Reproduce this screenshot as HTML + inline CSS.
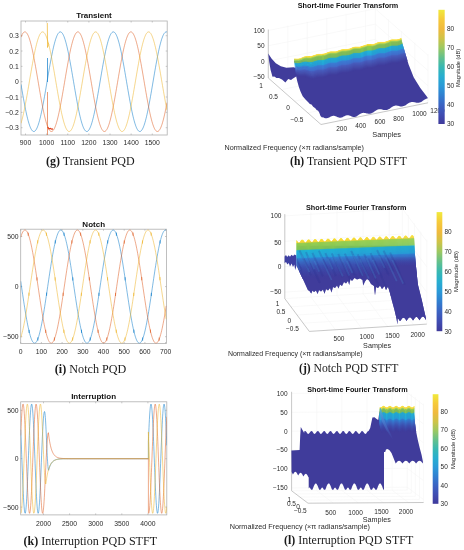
<!DOCTYPE html><html><head><meta charset="utf-8"><title>PQD figures</title><style>html,body{margin:0;padding:0;background:#fff}svg{display:block}</style></head><body>
<svg width="464" height="550" viewBox="0 0 464 550">
<rect width="464" height="550" fill="#fff"/>
<rect x="21" y="21" width="146.2" height="114" fill="#fff" stroke="#b0b0b0" stroke-width="0.8"/>
<path d="M25.50,135 v-1.5 M25.50,21 v1.5 M46.63,135 v-1.5 M46.63,21 v1.5 M67.76,135 v-1.5 M67.76,21 v1.5 M88.89,135 v-1.5 M88.89,21 v1.5 M110.02,135 v-1.5 M110.02,21 v1.5 M131.15,135 v-1.5 M131.15,21 v1.5 M152.28,135 v-1.5 M152.28,21 v1.5 M21,35.71 h1.5 M167.2,35.71 h-1.5 M21,51.04 h1.5 M167.2,51.04 h-1.5 M21,66.37 h1.5 M167.2,66.37 h-1.5 M21,81.70 h1.5 M167.2,81.70 h-1.5 M21,97.03 h1.5 M167.2,97.03 h-1.5 M21,112.36 h1.5 M167.2,112.36 h-1.5 M21,127.69 h1.5 M167.2,127.69 h-1.5 " stroke="#a4a4a4" stroke-width="0.6" fill="none"/>
<clipPath id="cg"><rect x="21" y="21" width="146.2" height="114"/></clipPath><g clip-path="url(#cg)">
<path d="M21.00,84.36 L21.50,87.30 L22.00,90.22 L22.50,93.12 L23.00,95.97 L23.50,98.77 L24.00,101.51 L24.50,104.19 L25.00,106.78 L25.50,109.29 L26.00,111.70 L26.50,114.00 L27.00,116.19 L27.50,118.26 L28.00,120.20 L28.50,122.01 L29.00,123.67 L29.50,125.19 L30.00,126.55 L30.50,127.76 L31.00,128.80 L31.50,129.68 L32.00,130.39 L32.50,130.93 L33.00,131.30 L33.50,131.49 L34.00,131.51 L34.50,131.35 L35.00,131.02 L35.50,130.51 L36.00,129.84 L36.50,128.99 L37.00,127.98 L37.50,126.81 L38.00,125.47 L38.50,123.99 L39.00,122.35 L39.50,120.57 L40.00,118.66 L40.50,116.62 L41.00,114.45 L41.50,112.17 L42.00,109.78 L42.50,107.29 L43.00,104.71 L43.50,102.05 L44.00,99.32 L44.50,96.53 L45.00,93.69 L45.50,90.80 L46.00,87.89 L46.50,84.95 L47.00,82.00 L47.50,79.04 L48.00,76.10 L48.50,73.18 L49.00,70.28 L49.50,67.43 L50.00,64.63 L50.50,61.89 L51.00,59.21 L51.50,56.62 L52.00,54.11 L52.50,51.70 L53.00,49.40 L53.50,47.21 L54.00,45.14 L54.50,43.20 L55.00,41.39 L55.50,39.73 L56.00,38.21 L56.50,36.85 L57.00,35.64 L57.50,34.60 L58.00,33.72 L58.50,33.01 L59.00,32.47 L59.50,32.10 L60.00,31.91 L60.50,31.89 L61.00,32.05 L61.50,32.38 L62.00,32.89 L62.50,33.56 L63.00,34.41 L63.50,35.42 L64.00,36.59 L64.50,37.93 L65.00,39.41 L65.50,41.05 L66.00,42.83 L66.50,44.74 L67.00,46.78 L67.50,48.95 L68.00,51.23 L68.50,53.62 L69.00,56.11 L69.50,58.69 L70.00,61.35 L70.50,64.08 L71.00,66.87 L71.50,69.71 L72.00,72.60 L72.50,75.51 L73.00,78.45 L73.50,81.40 L74.00,84.36 L74.50,87.30 L75.00,90.22 L75.50,93.12 L76.00,95.97 L76.50,98.77 L77.00,101.51 L77.50,104.19 L78.00,106.78 L78.50,109.29 L79.00,111.70 L79.50,114.00 L80.00,116.19 L80.50,118.26 L81.00,120.20 L81.50,122.01 L82.00,123.67 L82.50,125.19 L83.00,126.55 L83.50,127.76 L84.00,128.80 L84.50,129.68 L85.00,130.39 L85.50,130.93 L86.00,131.30 L86.50,131.49 L87.00,131.51 L87.50,131.35 L88.00,131.02 L88.50,130.51 L89.00,129.84 L89.50,128.99 L90.00,127.98 L90.50,126.81 L91.00,125.47 L91.50,123.99 L92.00,122.35 L92.50,120.57 L93.00,118.66 L93.50,116.62 L94.00,114.45 L94.50,112.17 L95.00,109.78 L95.50,107.29 L96.00,104.71 L96.50,102.05 L97.00,99.32 L97.50,96.53 L98.00,93.69 L98.50,90.80 L99.00,87.89 L99.50,84.95 L100.00,82.00 L100.50,79.04 L101.00,76.10 L101.50,73.18 L102.00,70.28 L102.50,67.43 L103.00,64.63 L103.50,61.89 L104.00,59.21 L104.50,56.62 L105.00,54.11 L105.50,51.70 L106.00,49.40 L106.50,47.21 L107.00,45.14 L107.50,43.20 L108.00,41.39 L108.50,39.73 L109.00,38.21 L109.50,36.85 L110.00,35.64 L110.50,34.60 L111.00,33.72 L111.50,33.01 L112.00,32.47 L112.50,32.10 L113.00,31.91 L113.50,31.89 L114.00,32.05 L114.50,32.38 L115.00,32.89 L115.50,33.56 L116.00,34.41 L116.50,35.42 L117.00,36.59 L117.50,37.93 L118.00,39.41 L118.50,41.05 L119.00,42.83 L119.50,44.74 L120.00,46.78 L120.50,48.95 L121.00,51.23 L121.50,53.62 L122.00,56.11 L122.50,58.69 L123.00,61.35 L123.50,64.08 L124.00,66.87 L124.50,69.71 L125.00,72.60 L125.50,75.51 L126.00,78.45 L126.50,81.40 L127.00,84.36 L127.50,87.30 L128.00,90.22 L128.50,93.12 L129.00,95.97 L129.50,98.77 L130.00,101.51 L130.50,104.19 L131.00,106.78 L131.50,109.29 L132.00,111.70 L132.50,114.00 L133.00,116.19 L133.50,118.26 L134.00,120.20 L134.50,122.01 L135.00,123.67 L135.50,125.19 L136.00,126.55 L136.50,127.76 L137.00,128.80 L137.50,129.68 L138.00,130.39 L138.50,130.93 L139.00,131.30 L139.50,131.49 L140.00,131.51 L140.50,131.35 L141.00,131.02 L141.50,130.51 L142.00,129.84 L142.50,128.99 L143.00,127.98 L143.50,126.81 L144.00,125.47 L144.50,123.99 L145.00,122.35 L145.50,120.57 L146.00,118.66 L146.50,116.62 L147.00,114.45 L147.50,112.17 L148.00,109.78 L148.50,107.29 L149.00,104.71 L149.50,102.05 L150.00,99.32 L150.50,96.53 L151.00,93.69 L151.50,90.80 L152.00,87.89 L152.50,84.95 L153.00,82.00 L153.50,79.04 L154.00,76.10 L154.50,73.18 L155.00,70.28 L155.50,67.43 L156.00,64.63 L156.50,61.89 L157.00,59.21 L157.50,56.62 L158.00,54.11 L158.50,51.70 L159.00,49.40 L159.50,47.21 L160.00,45.14 L160.50,43.20 L161.00,41.39 L161.50,39.73 L162.00,38.21 L162.50,36.85 L163.00,35.64 L163.50,34.60 L164.00,33.72 L164.50,33.01 L165.00,32.47 L165.50,32.10 L166.00,31.91 L166.50,31.89 L167.00,32.05" fill="none" stroke="#0a7ac8" stroke-width="0.52" stroke-linejoin="round" opacity="1"/>
<path d="M21.00,37.11 L21.50,35.87 L22.00,34.79 L22.50,33.88 L23.00,33.14 L23.50,32.56 L24.00,32.16 L24.50,31.93 L25.00,31.88 L25.50,32.00 L26.00,32.30 L26.50,32.77 L27.00,33.41 L27.50,34.23 L28.00,35.20 L28.50,36.35 L29.00,37.65 L29.50,39.10 L30.00,40.71 L30.50,42.46 L31.00,44.35 L31.50,46.37 L32.00,48.51 L32.50,50.77 L33.00,53.14 L33.50,55.60 L34.00,58.17 L34.50,60.81 L35.00,63.52 L35.50,66.30 L36.00,69.14 L36.50,72.02 L37.00,74.93 L37.50,77.86 L38.00,80.81 L38.50,83.77 L39.00,86.71 L39.50,89.64 L40.00,92.54 L40.50,95.40 L41.00,98.22 L41.50,100.97 L42.00,103.66 L42.50,106.27 L43.00,108.79 L43.50,111.22 L44.00,113.55 L44.50,115.76 L45.00,117.86 L45.50,119.82 L46.00,121.66 L46.50,123.35 L47.00,124.90 L47.50,126.29 L48.00,127.53 L48.50,128.61 L49.00,129.52 L49.50,130.26 L50.00,130.84 L50.50,131.24 L51.00,131.47 L51.50,131.52 L52.00,131.40 L52.50,131.10 L53.00,130.63 L53.50,129.99 L54.00,129.17 L54.50,128.20 L55.00,127.05 L55.50,125.75 L56.00,124.30 L56.50,122.69 L57.00,120.94 L57.50,119.05 L58.00,117.03 L58.50,114.89 L59.00,112.63 L59.50,110.26 L60.00,107.80 L60.50,105.23 L61.00,102.59 L61.50,99.88 L62.00,97.10 L62.50,94.26 L63.00,91.38 L63.50,88.47 L64.00,85.54 L64.50,82.59 L65.00,79.63 L65.50,76.69 L66.00,73.76 L66.50,70.86 L67.00,68.00 L67.50,65.18 L68.00,62.43 L68.50,59.74 L69.00,57.13 L69.50,54.61 L70.00,52.18 L70.50,49.85 L71.00,47.64 L71.50,45.54 L72.00,43.58 L72.50,41.74 L73.00,40.05 L73.50,38.50 L74.00,37.11 L74.50,35.87 L75.00,34.79 L75.50,33.88 L76.00,33.14 L76.50,32.56 L77.00,32.16 L77.50,31.93 L78.00,31.88 L78.50,32.00 L79.00,32.30 L79.50,32.77 L80.00,33.41 L80.50,34.23 L81.00,35.20 L81.50,36.35 L82.00,37.65 L82.50,39.10 L83.00,40.71 L83.50,42.46 L84.00,44.35 L84.50,46.37 L85.00,48.51 L85.50,50.77 L86.00,53.14 L86.50,55.60 L87.00,58.17 L87.50,60.81 L88.00,63.52 L88.50,66.30 L89.00,69.14 L89.50,72.02 L90.00,74.93 L90.50,77.86 L91.00,80.81 L91.50,83.77 L92.00,86.71 L92.50,89.64 L93.00,92.54 L93.50,95.40 L94.00,98.22 L94.50,100.97 L95.00,103.66 L95.50,106.27 L96.00,108.79 L96.50,111.22 L97.00,113.55 L97.50,115.76 L98.00,117.86 L98.50,119.82 L99.00,121.66 L99.50,123.35 L100.00,124.90 L100.50,126.29 L101.00,127.53 L101.50,128.61 L102.00,129.52 L102.50,130.26 L103.00,130.84 L103.50,131.24 L104.00,131.47 L104.50,131.52 L105.00,131.40 L105.50,131.10 L106.00,130.63 L106.50,129.99 L107.00,129.17 L107.50,128.20 L108.00,127.05 L108.50,125.75 L109.00,124.30 L109.50,122.69 L110.00,120.94 L110.50,119.05 L111.00,117.03 L111.50,114.89 L112.00,112.63 L112.50,110.26 L113.00,107.80 L113.50,105.23 L114.00,102.59 L114.50,99.88 L115.00,97.10 L115.50,94.26 L116.00,91.38 L116.50,88.47 L117.00,85.54 L117.50,82.59 L118.00,79.63 L118.50,76.69 L119.00,73.76 L119.50,70.86 L120.00,68.00 L120.50,65.18 L121.00,62.43 L121.50,59.74 L122.00,57.13 L122.50,54.61 L123.00,52.18 L123.50,49.85 L124.00,47.64 L124.50,45.54 L125.00,43.58 L125.50,41.74 L126.00,40.05 L126.50,38.50 L127.00,37.11 L127.50,35.87 L128.00,34.79 L128.50,33.88 L129.00,33.14 L129.50,32.56 L130.00,32.16 L130.50,31.93 L131.00,31.88 L131.50,32.00 L132.00,32.30 L132.50,32.77 L133.00,33.41 L133.50,34.23 L134.00,35.20 L134.50,36.35 L135.00,37.65 L135.50,39.10 L136.00,40.71 L136.50,42.46 L137.00,44.35 L137.50,46.37 L138.00,48.51 L138.50,50.77 L139.00,53.14 L139.50,55.60 L140.00,58.17 L140.50,60.81 L141.00,63.52 L141.50,66.30 L142.00,69.14 L142.50,72.02 L143.00,74.93 L143.50,77.86 L144.00,80.81 L144.50,83.77 L145.00,86.71 L145.50,89.64 L146.00,92.54 L146.50,95.40 L147.00,98.22 L147.50,100.97 L148.00,103.66 L148.50,106.27 L149.00,108.79 L149.50,111.22 L150.00,113.55 L150.50,115.76 L151.00,117.86 L151.50,119.82 L152.00,121.66 L152.50,123.35 L153.00,124.90 L153.50,126.29 L154.00,127.53 L154.50,128.61 L155.00,129.52 L155.50,130.26 L156.00,130.84 L156.50,131.24 L157.00,131.47 L157.50,131.52 L158.00,131.40 L158.50,131.10 L159.00,130.63 L159.50,129.99 L160.00,129.17 L160.50,128.20 L161.00,127.05 L161.50,125.75 L162.00,124.30 L162.50,122.69 L163.00,120.94 L163.50,119.05 L164.00,117.03 L164.50,114.89 L165.00,112.63 L165.50,110.26 L166.00,107.80 L166.50,105.23 L167.00,102.59" fill="none" stroke="#de5a1f" stroke-width="0.52" stroke-linejoin="round" opacity="1"/>
<path d="M21.00,123.35 L21.50,121.66 L22.00,119.82 L22.50,117.86 L23.00,115.76 L23.50,113.55 L24.00,111.22 L24.50,108.79 L25.00,106.27 L25.50,103.66 L26.00,100.97 L26.50,98.22 L27.00,95.40 L27.50,92.54 L28.00,89.64 L28.50,86.71 L29.00,83.77 L29.50,80.81 L30.00,77.86 L30.50,74.93 L31.00,72.02 L31.50,69.14 L32.00,66.30 L32.50,63.52 L33.00,60.81 L33.50,58.17 L34.00,55.60 L34.50,53.14 L35.00,50.77 L35.50,48.51 L36.00,46.37 L36.50,44.35 L37.00,42.46 L37.50,40.71 L38.00,39.10 L38.50,37.65 L39.00,36.35 L39.50,35.20 L40.00,34.23 L40.50,33.41 L41.00,32.77 L41.50,32.30 L42.00,32.00 L42.50,31.88 L43.00,31.93 L43.50,32.16 L44.00,32.56 L44.50,33.14 L45.00,33.88 L45.50,34.79 L46.00,35.87 L46.50,37.11 L47.00,38.50 L47.50,40.05 L48.00,41.74 L48.50,43.58 L49.00,45.54 L49.50,47.64 L50.00,49.85 L50.50,52.18 L51.00,54.61 L51.50,57.13 L52.00,59.74 L52.50,62.43 L53.00,65.18 L53.50,68.00 L54.00,70.86 L54.50,73.76 L55.00,76.69 L55.50,79.63 L56.00,82.59 L56.50,85.54 L57.00,88.47 L57.50,91.38 L58.00,94.26 L58.50,97.10 L59.00,99.88 L59.50,102.59 L60.00,105.23 L60.50,107.80 L61.00,110.26 L61.50,112.63 L62.00,114.89 L62.50,117.03 L63.00,119.05 L63.50,120.94 L64.00,122.69 L64.50,124.30 L65.00,125.75 L65.50,127.05 L66.00,128.20 L66.50,129.17 L67.00,129.99 L67.50,130.63 L68.00,131.10 L68.50,131.40 L69.00,131.52 L69.50,131.47 L70.00,131.24 L70.50,130.84 L71.00,130.26 L71.50,129.52 L72.00,128.61 L72.50,127.53 L73.00,126.29 L73.50,124.90 L74.00,123.35 L74.50,121.66 L75.00,119.82 L75.50,117.86 L76.00,115.76 L76.50,113.55 L77.00,111.22 L77.50,108.79 L78.00,106.27 L78.50,103.66 L79.00,100.97 L79.50,98.22 L80.00,95.40 L80.50,92.54 L81.00,89.64 L81.50,86.71 L82.00,83.77 L82.50,80.81 L83.00,77.86 L83.50,74.93 L84.00,72.02 L84.50,69.14 L85.00,66.30 L85.50,63.52 L86.00,60.81 L86.50,58.17 L87.00,55.60 L87.50,53.14 L88.00,50.77 L88.50,48.51 L89.00,46.37 L89.50,44.35 L90.00,42.46 L90.50,40.71 L91.00,39.10 L91.50,37.65 L92.00,36.35 L92.50,35.20 L93.00,34.23 L93.50,33.41 L94.00,32.77 L94.50,32.30 L95.00,32.00 L95.50,31.88 L96.00,31.93 L96.50,32.16 L97.00,32.56 L97.50,33.14 L98.00,33.88 L98.50,34.79 L99.00,35.87 L99.50,37.11 L100.00,38.50 L100.50,40.05 L101.00,41.74 L101.50,43.58 L102.00,45.54 L102.50,47.64 L103.00,49.85 L103.50,52.18 L104.00,54.61 L104.50,57.13 L105.00,59.74 L105.50,62.43 L106.00,65.18 L106.50,68.00 L107.00,70.86 L107.50,73.76 L108.00,76.69 L108.50,79.63 L109.00,82.59 L109.50,85.54 L110.00,88.47 L110.50,91.38 L111.00,94.26 L111.50,97.10 L112.00,99.88 L112.50,102.59 L113.00,105.23 L113.50,107.80 L114.00,110.26 L114.50,112.63 L115.00,114.89 L115.50,117.03 L116.00,119.05 L116.50,120.94 L117.00,122.69 L117.50,124.30 L118.00,125.75 L118.50,127.05 L119.00,128.20 L119.50,129.17 L120.00,129.99 L120.50,130.63 L121.00,131.10 L121.50,131.40 L122.00,131.52 L122.50,131.47 L123.00,131.24 L123.50,130.84 L124.00,130.26 L124.50,129.52 L125.00,128.61 L125.50,127.53 L126.00,126.29 L126.50,124.90 L127.00,123.35 L127.50,121.66 L128.00,119.82 L128.50,117.86 L129.00,115.76 L129.50,113.55 L130.00,111.22 L130.50,108.79 L131.00,106.27 L131.50,103.66 L132.00,100.97 L132.50,98.22 L133.00,95.40 L133.50,92.54 L134.00,89.64 L134.50,86.71 L135.00,83.77 L135.50,80.81 L136.00,77.86 L136.50,74.93 L137.00,72.02 L137.50,69.14 L138.00,66.30 L138.50,63.52 L139.00,60.81 L139.50,58.17 L140.00,55.60 L140.50,53.14 L141.00,50.77 L141.50,48.51 L142.00,46.37 L142.50,44.35 L143.00,42.46 L143.50,40.71 L144.00,39.10 L144.50,37.65 L145.00,36.35 L145.50,35.20 L146.00,34.23 L146.50,33.41 L147.00,32.77 L147.50,32.30 L148.00,32.00 L148.50,31.88 L149.00,31.93 L149.50,32.16 L150.00,32.56 L150.50,33.14 L151.00,33.88 L151.50,34.79 L152.00,35.87 L152.50,37.11 L153.00,38.50 L153.50,40.05 L154.00,41.74 L154.50,43.58 L155.00,45.54 L155.50,47.64 L156.00,49.85 L156.50,52.18 L157.00,54.61 L157.50,57.13 L158.00,59.74 L158.50,62.43 L159.00,65.18 L159.50,68.00 L160.00,70.86 L160.50,73.76 L161.00,76.69 L161.50,79.63 L162.00,82.59 L162.50,85.54 L163.00,88.47 L163.50,91.38 L164.00,94.26 L164.50,97.10 L165.00,99.88 L165.50,102.59 L166.00,105.23 L166.50,107.80 L167.00,110.26" fill="none" stroke="#eeb224" stroke-width="0.52" stroke-linejoin="round" opacity="1"/>
<path d="M47.50,58.00 L47.50,82.00" fill="none" stroke="#0a7ac8" stroke-width="0.7" stroke-linejoin="round" opacity="1"/>
<path d="M47.50,47.50 L47.50,41.00 L47.30,23.00" fill="none" stroke="#eeb224" stroke-width="0.7" stroke-linejoin="round" opacity="1"/>
<path d="M47.50,47.50 L48.70,44.50 L48.00,42.50" fill="none" stroke="#eeb224" stroke-width="0.6" stroke-linejoin="round" opacity="1"/>
<path d="M47.50,92.00 L47.50,135.00" fill="none" stroke="#de5a1f" stroke-width="0.6" stroke-linejoin="round" opacity="1"/>
<path d="M47.70,127.00 L49.00,128.80 L50.50,128.40 L52.00,129.30 L53.10,128.90" fill="none" stroke="#e2421f" stroke-width="1.2" stroke-linejoin="round" opacity="1"/>
</g>
<text x="25.50" y="145.30" font-size="6.8" font-family="Liberation Sans, sans-serif" fill="#2a2a2a" text-anchor="middle" >900</text>
<text x="46.63" y="145.30" font-size="6.8" font-family="Liberation Sans, sans-serif" fill="#2a2a2a" text-anchor="middle" >1000</text>
<text x="67.76" y="145.30" font-size="6.8" font-family="Liberation Sans, sans-serif" fill="#2a2a2a" text-anchor="middle" >1100</text>
<text x="88.89" y="145.30" font-size="6.8" font-family="Liberation Sans, sans-serif" fill="#2a2a2a" text-anchor="middle" >1200</text>
<text x="110.02" y="145.30" font-size="6.8" font-family="Liberation Sans, sans-serif" fill="#2a2a2a" text-anchor="middle" >1300</text>
<text x="131.15" y="145.30" font-size="6.8" font-family="Liberation Sans, sans-serif" fill="#2a2a2a" text-anchor="middle" >1400</text>
<text x="152.28" y="145.30" font-size="6.8" font-family="Liberation Sans, sans-serif" fill="#2a2a2a" text-anchor="middle" >1500</text>
<text x="18.80" y="38.31" font-size="6.8" font-family="Liberation Sans, sans-serif" fill="#2a2a2a" text-anchor="end" >0.3</text>
<text x="18.80" y="53.64" font-size="6.8" font-family="Liberation Sans, sans-serif" fill="#2a2a2a" text-anchor="end" >0.2</text>
<text x="18.80" y="68.97" font-size="6.8" font-family="Liberation Sans, sans-serif" fill="#2a2a2a" text-anchor="end" >0.1</text>
<text x="18.80" y="84.30" font-size="6.8" font-family="Liberation Sans, sans-serif" fill="#2a2a2a" text-anchor="end" >0</text>
<text x="18.80" y="99.63" font-size="6.8" font-family="Liberation Sans, sans-serif" fill="#2a2a2a" text-anchor="end" >−0.1</text>
<text x="18.80" y="114.96" font-size="6.8" font-family="Liberation Sans, sans-serif" fill="#2a2a2a" text-anchor="end" >−0.2</text>
<text x="18.80" y="130.29" font-size="6.8" font-family="Liberation Sans, sans-serif" fill="#2a2a2a" text-anchor="end" >−0.3</text>
<text x="94.00" y="18.40" font-size="8" font-family="Liberation Sans, sans-serif" fill="#111" text-anchor="middle" font-weight="bold" >Transient</text>
<text x="46" y="164.6" font-size="11.6" font-family="Liberation Serif, serif" fill="#1a1a1a" textLength="88.7" lengthAdjust="spacingAndGlyphs"><tspan font-weight="bold">(g)</tspan> Transient PQD</text>
<rect x="20.7" y="229.2" width="145.8" height="114.30000000000001" fill="#fff" stroke="#b0b0b0" stroke-width="0.8"/>
<path d="M20.70,343.5 v-1.5 M20.70,229.2 v1.5 M41.40,343.5 v-1.5 M41.40,229.2 v1.5 M62.10,343.5 v-1.5 M62.10,229.2 v1.5 M82.80,343.5 v-1.5 M82.80,229.2 v1.5 M103.50,343.5 v-1.5 M103.50,229.2 v1.5 M124.20,343.5 v-1.5 M124.20,229.2 v1.5 M144.90,343.5 v-1.5 M144.90,229.2 v1.5 M165.60,343.5 v-1.5 M165.60,229.2 v1.5 M20.7,236.50 h1.5 M166.5,236.50 h-1.5 M20.7,286.60 h1.5 M166.5,286.60 h-1.5 M20.7,336.70 h1.5 M166.5,336.70 h-1.5 " stroke="#a4a4a4" stroke-width="0.6" fill="none"/>
<clipPath id="ci"><rect x="20.7" y="229.2" width="145.8" height="114.30000000000001"/></clipPath><g clip-path="url(#ci)">
<path d="M20.70,281.18 L21.20,284.56 L21.70,287.96 L22.20,291.35 L22.70,294.72 L23.20,298.06 L23.70,301.36 L24.20,304.61 L24.70,307.79 L25.20,310.90 L25.70,313.91 L26.20,316.84 L26.70,319.65 L27.20,322.34 L27.70,324.91 L28.20,327.34 L28.70,329.62 L29.20,331.74 L29.70,333.71 L30.20,335.50 L30.70,337.12 L31.20,338.56 L31.70,339.81 L32.20,340.87 L32.70,341.74 L33.20,342.40 L33.70,342.87 L34.20,343.13 L34.70,343.20 L35.20,343.05 L35.70,342.71 L36.20,342.16 L36.70,341.42 L37.20,340.47 L37.70,339.33 L38.20,338.01 L38.70,336.50 L39.20,334.81 L39.70,332.94 L40.20,330.91 L40.70,328.72 L41.20,326.38 L41.70,323.90 L42.20,321.28 L42.70,318.54 L43.20,315.68 L43.70,312.72 L44.20,309.66 L44.70,306.52 L45.20,303.31 L45.70,300.04 L46.20,296.73 L46.70,293.37 L47.20,289.99 L47.70,286.60 L48.20,283.21 L48.70,279.83 L49.20,276.47 L49.70,273.16 L50.20,269.89 L50.70,266.68 L51.20,263.54 L51.70,260.48 L52.20,257.52 L52.70,254.66 L53.20,251.92 L53.70,249.30 L54.20,246.82 L54.70,244.48 L55.20,242.29 L55.70,240.26 L56.20,238.39 L56.70,236.70 L57.20,235.19 L57.70,233.87 L58.20,232.73 L58.70,231.78 L59.20,231.04 L59.70,230.49 L60.20,230.15 L60.70,230.00 L61.20,230.07 L61.70,230.33 L62.20,230.80 L62.70,231.46 L63.20,232.33 L63.70,233.39 L64.20,234.64 L64.70,236.08 L65.20,237.70 L65.70,239.49 L66.20,241.46 L66.70,243.58 L67.20,245.86 L67.70,248.29 L68.20,250.86 L68.70,253.55 L69.20,256.36 L69.70,259.29 L70.20,262.30 L70.70,265.41 L71.20,268.59 L71.70,271.84 L72.20,275.14 L72.70,278.48 L73.20,281.85 L73.70,285.24 L74.20,288.64 L74.70,292.02 L75.20,295.39 L75.70,298.72 L76.20,302.01 L76.70,305.25 L77.20,308.42 L77.70,311.51 L78.20,314.51 L78.70,317.41 L79.20,320.20 L79.70,322.87 L80.20,325.40 L80.70,327.80 L81.20,330.05 L81.70,332.15 L82.20,334.08 L82.70,335.84 L83.20,337.43 L83.70,338.83 L84.20,340.04 L84.70,341.06 L85.20,341.89 L85.70,342.51 L86.20,342.94 L86.70,343.16 L87.20,343.18 L87.70,343.00 L88.20,342.62 L88.70,342.03 L89.20,341.24 L89.70,340.26 L90.20,339.08 L90.70,337.72 L91.20,336.17 L91.70,334.45 L92.20,332.55 L92.70,330.49 L93.20,328.27 L93.70,325.90 L94.20,323.38 L94.70,320.74 L95.20,317.97 L95.70,315.10 L96.20,312.11 L96.70,309.04 L97.20,305.89 L97.70,302.66 L98.20,299.38 L98.70,296.06 L99.20,292.70 L99.70,289.31 L100.20,285.92 L100.70,282.53 L101.20,279.16 L101.70,275.81 L102.20,272.50 L102.70,269.24 L103.20,266.04 L103.70,262.92 L104.20,259.88 L104.70,256.94 L105.20,254.10 L105.70,251.39 L106.20,248.79 L106.70,246.34 L107.20,244.03 L107.70,241.87 L108.20,239.87 L108.70,238.04 L109.20,236.39 L109.70,234.91 L110.20,233.62 L110.70,232.52 L111.20,231.62 L111.70,230.91 L112.20,230.41 L112.70,230.10 L113.20,230.00 L113.70,230.10 L114.20,230.41 L114.70,230.91 L115.20,231.62 L115.70,232.52 L116.20,233.62 L116.70,234.91 L117.20,236.39 L117.70,238.04 L118.20,239.87 L118.70,241.87 L119.20,244.03 L119.70,246.34 L120.20,248.79 L120.70,251.39 L121.20,254.10 L121.70,256.94 L122.20,259.88 L122.70,262.92 L123.20,266.04 L123.70,269.24 L124.20,272.50 L124.70,275.81 L125.20,279.16 L125.70,282.53 L126.20,285.92 L126.70,289.31 L127.20,292.70 L127.70,296.06 L128.20,299.38 L128.70,302.66 L129.20,305.89 L129.70,309.04 L130.20,312.11 L130.70,315.10 L131.20,317.97 L131.70,320.74 L132.20,323.38 L132.70,325.90 L133.20,328.27 L133.70,330.49 L134.20,332.55 L134.70,334.45 L135.20,336.17 L135.70,337.72 L136.20,339.08 L136.70,340.26 L137.20,341.24 L137.70,342.03 L138.20,342.62 L138.70,343.00 L139.20,343.18 L139.70,343.16 L140.20,342.94 L140.70,342.51 L141.20,341.89 L141.70,341.06 L142.20,340.04 L142.70,338.83 L143.20,337.43 L143.70,335.84 L144.20,334.08 L144.70,332.15 L145.20,330.05 L145.70,327.80 L146.20,325.40 L146.70,322.87 L147.20,320.20 L147.70,317.41 L148.20,314.51 L148.70,311.51 L149.20,308.42 L149.70,305.25 L150.20,302.01 L150.70,298.72 L151.20,295.39 L151.70,292.02 L152.20,288.64 L152.70,285.24 L153.20,281.85 L153.70,278.48 L154.20,275.14 L154.70,271.84 L155.20,268.59 L155.70,265.41 L156.20,262.30 L156.70,259.29 L157.20,256.36 L157.70,253.55 L158.20,250.86 L158.70,248.29 L159.20,245.86 L159.70,243.58 L160.20,241.46 L160.70,239.49 L161.20,237.70 L161.70,236.08 L162.20,234.64 L162.70,233.39 L163.20,232.33 L163.70,231.46 L164.20,230.80 L164.70,230.33 L165.20,230.07 L165.70,230.00 L166.20,230.15" fill="none" stroke="#0a7ac8" stroke-width="0.52" stroke-linejoin="round" opacity="1"/>
<path d="M20.70,237.36 L21.20,235.77 L21.70,234.37 L22.20,233.16 L22.70,232.14 L23.20,231.31 L23.70,230.69 L24.20,230.26 L24.70,230.04 L25.20,230.02 L25.70,230.20 L26.20,230.58 L26.70,231.17 L27.20,231.96 L27.70,232.94 L28.20,234.12 L28.70,235.48 L29.20,237.03 L29.70,238.75 L30.20,240.65 L30.70,242.71 L31.20,244.93 L31.70,247.30 L32.20,249.82 L32.70,252.46 L33.20,255.23 L33.70,258.10 L34.20,261.09 L34.70,264.16 L35.20,267.31 L35.70,270.54 L36.20,273.82 L36.70,277.14 L37.20,280.50 L37.70,283.89 L38.20,287.28 L38.70,290.67 L39.20,294.04 L39.70,297.39 L40.20,300.70 L40.70,303.96 L41.20,307.16 L41.70,310.28 L42.20,313.32 L42.70,316.26 L43.20,319.10 L43.70,321.81 L44.20,324.41 L44.70,326.86 L45.20,329.17 L45.70,331.33 L46.20,333.33 L46.70,335.16 L47.20,336.81 L47.70,338.29 L48.20,339.58 L48.70,340.68 L49.20,341.58 L49.70,342.29 L50.20,342.79 L50.70,343.10 L51.20,343.20 L51.70,343.10 L52.20,342.79 L52.70,342.29 L53.20,341.58 L53.70,340.68 L54.20,339.58 L54.70,338.29 L55.20,336.81 L55.70,335.16 L56.20,333.33 L56.70,331.33 L57.20,329.17 L57.70,326.86 L58.20,324.41 L58.70,321.81 L59.20,319.10 L59.70,316.26 L60.20,313.32 L60.70,310.28 L61.20,307.16 L61.70,303.96 L62.20,300.70 L62.70,297.39 L63.20,294.04 L63.70,290.67 L64.20,287.28 L64.70,283.89 L65.20,280.50 L65.70,277.14 L66.20,273.82 L66.70,270.54 L67.20,267.31 L67.70,264.16 L68.20,261.09 L68.70,258.10 L69.20,255.23 L69.70,252.46 L70.20,249.82 L70.70,247.30 L71.20,244.93 L71.70,242.71 L72.20,240.65 L72.70,238.75 L73.20,237.03 L73.70,235.48 L74.20,234.12 L74.70,232.94 L75.20,231.96 L75.70,231.17 L76.20,230.58 L76.70,230.20 L77.20,230.02 L77.70,230.04 L78.20,230.26 L78.70,230.69 L79.20,231.31 L79.70,232.14 L80.20,233.16 L80.70,234.37 L81.20,235.77 L81.70,237.36 L82.20,239.12 L82.70,241.05 L83.20,243.15 L83.70,245.40 L84.20,247.80 L84.70,250.33 L85.20,253.00 L85.70,255.79 L86.20,258.69 L86.70,261.69 L87.20,264.78 L87.70,267.95 L88.20,271.19 L88.70,274.48 L89.20,277.81 L89.70,281.18 L90.20,284.56 L90.70,287.96 L91.20,291.35 L91.70,294.72 L92.20,298.06 L92.70,301.36 L93.20,304.61 L93.70,307.79 L94.20,310.90 L94.70,313.91 L95.20,316.84 L95.70,319.65 L96.20,322.34 L96.70,324.91 L97.20,327.34 L97.70,329.62 L98.20,331.74 L98.70,333.71 L99.20,335.50 L99.70,337.12 L100.20,338.56 L100.70,339.81 L101.20,340.87 L101.70,341.74 L102.20,342.40 L102.70,342.87 L103.20,343.13 L103.70,343.20 L104.20,343.05 L104.70,342.71 L105.20,342.16 L105.70,341.42 L106.20,340.47 L106.70,339.33 L107.20,338.01 L107.70,336.50 L108.20,334.81 L108.70,332.94 L109.20,330.91 L109.70,328.72 L110.20,326.38 L110.70,323.90 L111.20,321.28 L111.70,318.54 L112.20,315.68 L112.70,312.72 L113.20,309.66 L113.70,306.52 L114.20,303.31 L114.70,300.04 L115.20,296.73 L115.70,293.37 L116.20,289.99 L116.70,286.60 L117.20,283.21 L117.70,279.83 L118.20,276.47 L118.70,273.16 L119.20,269.89 L119.70,266.68 L120.20,263.54 L120.70,260.48 L121.20,257.52 L121.70,254.66 L122.20,251.92 L122.70,249.30 L123.20,246.82 L123.70,244.48 L124.20,242.29 L124.70,240.26 L125.20,238.39 L125.70,236.70 L126.20,235.19 L126.70,233.87 L127.20,232.73 L127.70,231.78 L128.20,231.04 L128.70,230.49 L129.20,230.15 L129.70,230.00 L130.20,230.07 L130.70,230.33 L131.20,230.80 L131.70,231.46 L132.20,232.33 L132.70,233.39 L133.20,234.64 L133.70,236.08 L134.20,237.70 L134.70,239.49 L135.20,241.46 L135.70,243.58 L136.20,245.86 L136.70,248.29 L137.20,250.86 L137.70,253.55 L138.20,256.36 L138.70,259.29 L139.20,262.30 L139.70,265.41 L140.20,268.59 L140.70,271.84 L141.20,275.14 L141.70,278.48 L142.20,281.85 L142.70,285.24 L143.20,288.64 L143.70,292.02 L144.20,295.39 L144.70,298.72 L145.20,302.01 L145.70,305.25 L146.20,308.42 L146.70,311.51 L147.20,314.51 L147.70,317.41 L148.20,320.20 L148.70,322.87 L149.20,325.40 L149.70,327.80 L150.20,330.05 L150.70,332.15 L151.20,334.08 L151.70,335.84 L152.20,337.43 L152.70,338.83 L153.20,340.04 L153.70,341.06 L154.20,341.89 L154.70,342.51 L155.20,342.94 L155.70,343.16 L156.20,343.18 L156.70,343.00 L157.20,342.62 L157.70,342.03 L158.20,341.24 L158.70,340.26 L159.20,339.08 L159.70,337.72 L160.20,336.17 L160.70,334.45 L161.20,332.55 L161.70,330.49 L162.20,328.27 L162.70,325.90 L163.20,323.38 L163.70,320.74 L164.20,317.97 L164.70,315.10 L165.20,312.11 L165.70,309.04 L166.20,305.89" fill="none" stroke="#de5a1f" stroke-width="0.52" stroke-linejoin="round" opacity="1"/>
<path d="M20.70,337.72 L21.20,336.17 L21.70,334.45 L22.20,332.55 L22.70,330.49 L23.20,328.27 L23.70,325.90 L24.20,323.38 L24.70,320.74 L25.20,317.97 L25.70,315.10 L26.20,312.11 L26.70,309.04 L27.20,305.89 L27.70,302.66 L28.20,299.38 L28.70,296.06 L29.20,292.70 L29.70,289.31 L30.20,285.92 L30.70,282.53 L31.20,279.16 L31.70,275.81 L32.20,272.50 L32.70,269.24 L33.20,266.04 L33.70,262.92 L34.20,259.88 L34.70,256.94 L35.20,254.10 L35.70,251.39 L36.20,248.79 L36.70,246.34 L37.20,244.03 L37.70,241.87 L38.20,239.87 L38.70,238.04 L39.20,236.39 L39.70,234.91 L40.20,233.62 L40.70,232.52 L41.20,231.62 L41.70,230.91 L42.20,230.41 L42.70,230.10 L43.20,230.00 L43.70,230.10 L44.20,230.41 L44.70,230.91 L45.20,231.62 L45.70,232.52 L46.20,233.62 L46.70,234.91 L47.20,236.39 L47.70,238.04 L48.20,239.87 L48.70,241.87 L49.20,244.03 L49.70,246.34 L50.20,248.79 L50.70,251.39 L51.20,254.10 L51.70,256.94 L52.20,259.88 L52.70,262.92 L53.20,266.04 L53.70,269.24 L54.20,272.50 L54.70,275.81 L55.20,279.16 L55.70,282.53 L56.20,285.92 L56.70,289.31 L57.20,292.70 L57.70,296.06 L58.20,299.38 L58.70,302.66 L59.20,305.89 L59.70,309.04 L60.20,312.11 L60.70,315.10 L61.20,317.97 L61.70,320.74 L62.20,323.38 L62.70,325.90 L63.20,328.27 L63.70,330.49 L64.20,332.55 L64.70,334.45 L65.20,336.17 L65.70,337.72 L66.20,339.08 L66.70,340.26 L67.20,341.24 L67.70,342.03 L68.20,342.62 L68.70,343.00 L69.20,343.18 L69.70,343.16 L70.20,342.94 L70.70,342.51 L71.20,341.89 L71.70,341.06 L72.20,340.04 L72.70,338.83 L73.20,337.43 L73.70,335.84 L74.20,334.08 L74.70,332.15 L75.20,330.05 L75.70,327.80 L76.20,325.40 L76.70,322.87 L77.20,320.20 L77.70,317.41 L78.20,314.51 L78.70,311.51 L79.20,308.42 L79.70,305.25 L80.20,302.01 L80.70,298.72 L81.20,295.39 L81.70,292.02 L82.20,288.64 L82.70,285.24 L83.20,281.85 L83.70,278.48 L84.20,275.14 L84.70,271.84 L85.20,268.59 L85.70,265.41 L86.20,262.30 L86.70,259.29 L87.20,256.36 L87.70,253.55 L88.20,250.86 L88.70,248.29 L89.20,245.86 L89.70,243.58 L90.20,241.46 L90.70,239.49 L91.20,237.70 L91.70,236.08 L92.20,234.64 L92.70,233.39 L93.20,232.33 L93.70,231.46 L94.20,230.80 L94.70,230.33 L95.20,230.07 L95.70,230.00 L96.20,230.15 L96.70,230.49 L97.20,231.04 L97.70,231.78 L98.20,232.73 L98.70,233.87 L99.20,235.19 L99.70,236.70 L100.20,238.39 L100.70,240.26 L101.20,242.29 L101.70,244.48 L102.20,246.82 L102.70,249.30 L103.20,251.92 L103.70,254.66 L104.20,257.52 L104.70,260.48 L105.20,263.54 L105.70,266.68 L106.20,269.89 L106.70,273.16 L107.20,276.47 L107.70,279.83 L108.20,283.21 L108.70,286.60 L109.20,289.99 L109.70,293.37 L110.20,296.73 L110.70,300.04 L111.20,303.31 L111.70,306.52 L112.20,309.66 L112.70,312.72 L113.20,315.68 L113.70,318.54 L114.20,321.28 L114.70,323.90 L115.20,326.38 L115.70,328.72 L116.20,330.91 L116.70,332.94 L117.20,334.81 L117.70,336.50 L118.20,338.01 L118.70,339.33 L119.20,340.47 L119.70,341.42 L120.20,342.16 L120.70,342.71 L121.20,343.05 L121.70,343.20 L122.20,343.13 L122.70,342.87 L123.20,342.40 L123.70,341.74 L124.20,340.87 L124.70,339.81 L125.20,338.56 L125.70,337.12 L126.20,335.50 L126.70,333.71 L127.20,331.74 L127.70,329.62 L128.20,327.34 L128.70,324.91 L129.20,322.34 L129.70,319.65 L130.20,316.84 L130.70,313.91 L131.20,310.90 L131.70,307.79 L132.20,304.61 L132.70,301.36 L133.20,298.06 L133.70,294.72 L134.20,291.35 L134.70,287.96 L135.20,284.56 L135.70,281.18 L136.20,277.81 L136.70,274.48 L137.20,271.19 L137.70,267.95 L138.20,264.78 L138.70,261.69 L139.20,258.69 L139.70,255.79 L140.20,253.00 L140.70,250.33 L141.20,247.80 L141.70,245.40 L142.20,243.15 L142.70,241.05 L143.20,239.12 L143.70,237.36 L144.20,235.77 L144.70,234.37 L145.20,233.16 L145.70,232.14 L146.20,231.31 L146.70,230.69 L147.20,230.26 L147.70,230.04 L148.20,230.02 L148.70,230.20 L149.20,230.58 L149.70,231.17 L150.20,231.96 L150.70,232.94 L151.20,234.12 L151.70,235.48 L152.20,237.03 L152.70,238.75 L153.20,240.65 L153.70,242.71 L154.20,244.93 L154.70,247.30 L155.20,249.82 L155.70,252.46 L156.20,255.23 L156.70,258.10 L157.20,261.09 L157.70,264.16 L158.20,267.31 L158.70,270.54 L159.20,273.82 L159.70,277.14 L160.20,280.50 L160.70,283.89 L161.20,287.28 L161.70,290.67 L162.20,294.04 L162.70,297.39 L163.20,300.70 L163.70,303.96 L164.20,307.16 L164.70,310.28 L165.20,313.32 L165.70,316.26 L166.20,319.10" fill="none" stroke="#eeb224" stroke-width="0.52" stroke-linejoin="round" opacity="1"/>
<path d="M29.12,329.81 L29.12,333.01" fill="none" stroke="#0a7ac8" stroke-width="0.9" stroke-linejoin="round" opacity="0.8"/>
<path d="M37.85,337.36 L37.85,340.56" fill="none" stroke="#0a7ac8" stroke-width="0.9" stroke-linejoin="round" opacity="0.8"/>
<path d="M46.58,292.58 L46.58,295.78" fill="none" stroke="#0a7ac8" stroke-width="0.9" stroke-linejoin="round" opacity="0.8"/>
<path d="M55.31,240.23 L55.31,243.43" fill="none" stroke="#0a7ac8" stroke-width="0.9" stroke-linejoin="round" opacity="0.8"/>
<path d="M64.04,232.62 L64.04,235.82" fill="none" stroke="#0a7ac8" stroke-width="0.9" stroke-linejoin="round" opacity="0.8"/>
<path d="M72.77,277.35 L72.77,280.55" fill="none" stroke="#0a7ac8" stroke-width="0.9" stroke-linejoin="round" opacity="0.8"/>
<path d="M81.50,329.73 L81.50,332.93" fill="none" stroke="#0a7ac8" stroke-width="0.9" stroke-linejoin="round" opacity="0.8"/>
<path d="M90.23,337.41 L90.23,340.61" fill="none" stroke="#0a7ac8" stroke-width="0.9" stroke-linejoin="round" opacity="0.8"/>
<path d="M98.96,292.71 L98.96,295.91" fill="none" stroke="#0a7ac8" stroke-width="0.9" stroke-linejoin="round" opacity="0.8"/>
<path d="M107.69,240.31 L107.69,243.51" fill="none" stroke="#0a7ac8" stroke-width="0.9" stroke-linejoin="round" opacity="0.8"/>
<path d="M116.42,232.57 L116.42,235.77" fill="none" stroke="#0a7ac8" stroke-width="0.9" stroke-linejoin="round" opacity="0.8"/>
<path d="M125.15,277.22 L125.15,280.42" fill="none" stroke="#0a7ac8" stroke-width="0.9" stroke-linejoin="round" opacity="0.8"/>
<path d="M133.88,329.65 L133.88,332.85" fill="none" stroke="#0a7ac8" stroke-width="0.9" stroke-linejoin="round" opacity="0.8"/>
<path d="M142.61,337.46 L142.61,340.66" fill="none" stroke="#0a7ac8" stroke-width="0.9" stroke-linejoin="round" opacity="0.8"/>
<path d="M151.34,292.85 L151.34,296.05" fill="none" stroke="#0a7ac8" stroke-width="0.9" stroke-linejoin="round" opacity="0.8"/>
<path d="M160.07,240.39 L160.07,243.59" fill="none" stroke="#0a7ac8" stroke-width="0.9" stroke-linejoin="round" opacity="0.8"/>
<path d="M28.24,232.62 L28.24,235.82" fill="none" stroke="#de5a1f" stroke-width="0.9" stroke-linejoin="round" opacity="0.8"/>
<path d="M36.97,277.35 L36.97,280.55" fill="none" stroke="#de5a1f" stroke-width="0.9" stroke-linejoin="round" opacity="0.8"/>
<path d="M45.70,329.73 L45.70,332.93" fill="none" stroke="#de5a1f" stroke-width="0.9" stroke-linejoin="round" opacity="0.8"/>
<path d="M54.43,337.41 L54.43,340.61" fill="none" stroke="#de5a1f" stroke-width="0.9" stroke-linejoin="round" opacity="0.8"/>
<path d="M63.16,292.71 L63.16,295.91" fill="none" stroke="#de5a1f" stroke-width="0.9" stroke-linejoin="round" opacity="0.8"/>
<path d="M71.89,240.31 L71.89,243.51" fill="none" stroke="#de5a1f" stroke-width="0.9" stroke-linejoin="round" opacity="0.8"/>
<path d="M80.62,232.57 L80.62,235.77" fill="none" stroke="#de5a1f" stroke-width="0.9" stroke-linejoin="round" opacity="0.8"/>
<path d="M89.35,277.22 L89.35,280.42" fill="none" stroke="#de5a1f" stroke-width="0.9" stroke-linejoin="round" opacity="0.8"/>
<path d="M98.08,329.65 L98.08,332.85" fill="none" stroke="#de5a1f" stroke-width="0.9" stroke-linejoin="round" opacity="0.8"/>
<path d="M106.81,337.46 L106.81,340.66" fill="none" stroke="#de5a1f" stroke-width="0.9" stroke-linejoin="round" opacity="0.8"/>
<path d="M115.54,292.85 L115.54,296.05" fill="none" stroke="#de5a1f" stroke-width="0.9" stroke-linejoin="round" opacity="0.8"/>
<path d="M124.27,240.39 L124.27,243.59" fill="none" stroke="#de5a1f" stroke-width="0.9" stroke-linejoin="round" opacity="0.8"/>
<path d="M133.00,232.52 L133.00,235.72" fill="none" stroke="#de5a1f" stroke-width="0.9" stroke-linejoin="round" opacity="0.8"/>
<path d="M141.73,277.09 L141.73,280.29" fill="none" stroke="#de5a1f" stroke-width="0.9" stroke-linejoin="round" opacity="0.8"/>
<path d="M150.46,329.56 L150.46,332.76" fill="none" stroke="#de5a1f" stroke-width="0.9" stroke-linejoin="round" opacity="0.8"/>
<path d="M159.19,337.51 L159.19,340.71" fill="none" stroke="#de5a1f" stroke-width="0.9" stroke-linejoin="round" opacity="0.8"/>
<path d="M28.98,292.58 L28.98,295.78" fill="none" stroke="#eeb224" stroke-width="0.9" stroke-linejoin="round" opacity="0.8"/>
<path d="M37.71,240.23 L37.71,243.43" fill="none" stroke="#eeb224" stroke-width="0.9" stroke-linejoin="round" opacity="0.8"/>
<path d="M46.44,232.62 L46.44,235.82" fill="none" stroke="#eeb224" stroke-width="0.9" stroke-linejoin="round" opacity="0.8"/>
<path d="M55.17,277.35 L55.17,280.55" fill="none" stroke="#eeb224" stroke-width="0.9" stroke-linejoin="round" opacity="0.8"/>
<path d="M63.90,329.73 L63.90,332.93" fill="none" stroke="#eeb224" stroke-width="0.9" stroke-linejoin="round" opacity="0.8"/>
<path d="M72.63,337.41 L72.63,340.61" fill="none" stroke="#eeb224" stroke-width="0.9" stroke-linejoin="round" opacity="0.8"/>
<path d="M81.36,292.71 L81.36,295.91" fill="none" stroke="#eeb224" stroke-width="0.9" stroke-linejoin="round" opacity="0.8"/>
<path d="M90.09,240.31 L90.09,243.51" fill="none" stroke="#eeb224" stroke-width="0.9" stroke-linejoin="round" opacity="0.8"/>
<path d="M98.82,232.57 L98.82,235.77" fill="none" stroke="#eeb224" stroke-width="0.9" stroke-linejoin="round" opacity="0.8"/>
<path d="M107.55,277.22 L107.55,280.42" fill="none" stroke="#eeb224" stroke-width="0.9" stroke-linejoin="round" opacity="0.8"/>
<path d="M116.28,329.65 L116.28,332.85" fill="none" stroke="#eeb224" stroke-width="0.9" stroke-linejoin="round" opacity="0.8"/>
<path d="M125.01,337.46 L125.01,340.66" fill="none" stroke="#eeb224" stroke-width="0.9" stroke-linejoin="round" opacity="0.8"/>
<path d="M133.74,292.85 L133.74,296.05" fill="none" stroke="#eeb224" stroke-width="0.9" stroke-linejoin="round" opacity="0.8"/>
<path d="M142.47,240.39 L142.47,243.59" fill="none" stroke="#eeb224" stroke-width="0.9" stroke-linejoin="round" opacity="0.8"/>
<path d="M151.20,232.52 L151.20,235.72" fill="none" stroke="#eeb224" stroke-width="0.9" stroke-linejoin="round" opacity="0.8"/>
<path d="M159.93,277.09 L159.93,280.29" fill="none" stroke="#eeb224" stroke-width="0.9" stroke-linejoin="round" opacity="0.8"/>
</g>
<text x="20.70" y="353.50" font-size="6.8" font-family="Liberation Sans, sans-serif" fill="#2a2a2a" text-anchor="middle" >0</text>
<text x="41.40" y="353.50" font-size="6.8" font-family="Liberation Sans, sans-serif" fill="#2a2a2a" text-anchor="middle" >100</text>
<text x="62.10" y="353.50" font-size="6.8" font-family="Liberation Sans, sans-serif" fill="#2a2a2a" text-anchor="middle" >200</text>
<text x="82.80" y="353.50" font-size="6.8" font-family="Liberation Sans, sans-serif" fill="#2a2a2a" text-anchor="middle" >300</text>
<text x="103.50" y="353.50" font-size="6.8" font-family="Liberation Sans, sans-serif" fill="#2a2a2a" text-anchor="middle" >400</text>
<text x="124.20" y="353.50" font-size="6.8" font-family="Liberation Sans, sans-serif" fill="#2a2a2a" text-anchor="middle" >500</text>
<text x="144.90" y="353.50" font-size="6.8" font-family="Liberation Sans, sans-serif" fill="#2a2a2a" text-anchor="middle" >600</text>
<text x="165.60" y="353.50" font-size="6.8" font-family="Liberation Sans, sans-serif" fill="#2a2a2a" text-anchor="middle" >700</text>
<text x="18.60" y="239.10" font-size="6.8" font-family="Liberation Sans, sans-serif" fill="#2a2a2a" text-anchor="end" >500</text>
<text x="18.60" y="289.20" font-size="6.8" font-family="Liberation Sans, sans-serif" fill="#2a2a2a" text-anchor="end" >0</text>
<text x="18.60" y="339.30" font-size="6.8" font-family="Liberation Sans, sans-serif" fill="#2a2a2a" text-anchor="end" >−500</text>
<text x="93.70" y="227.00" font-size="8" font-family="Liberation Sans, sans-serif" fill="#111" text-anchor="middle" font-weight="bold" >Notch</text>
<text x="54.8" y="372.8" font-size="11.6" font-family="Liberation Serif, serif" fill="#1a1a1a" textLength="71.5" lengthAdjust="spacingAndGlyphs"><tspan font-weight="bold">(i)</tspan> Notch PQD</text>
<rect x="20.7" y="401.8" width="146.10000000000002" height="113.09999999999997" fill="#fff" stroke="#b0b0b0" stroke-width="0.8"/>
<path d="M43.50,514.9 v-1.5 M43.50,401.8 v1.5 M69.60,514.9 v-1.5 M69.60,401.8 v1.5 M95.70,514.9 v-1.5 M95.70,401.8 v1.5 M121.80,514.9 v-1.5 M121.80,401.8 v1.5 M147.90,514.9 v-1.5 M147.90,401.8 v1.5 M20.7,410.30 h1.5 M166.8,410.30 h-1.5 M20.7,458.70 h1.5 M166.8,458.70 h-1.5 M20.7,507.10 h1.5 M166.8,507.10 h-1.5 " stroke="#a4a4a4" stroke-width="0.6" fill="none"/>
<clipPath id="ck"><rect x="20.7" y="401.8" width="146.10000000000002" height="113.09999999999997"/></clipPath><g clip-path="url(#ck)">
<path d="M20.70,429.71 L20.90,434.29 L21.10,439.10 L21.30,444.09 L21.50,449.22 L21.70,454.43 L21.90,459.69 L22.10,464.93 L22.30,470.12 L22.50,475.20 L22.70,480.12 L22.90,484.85 L23.10,489.34 L23.30,493.54 L23.50,497.42 L23.70,500.95 L23.90,504.08 L24.10,506.78 L24.30,509.05 L24.50,510.85 L24.70,512.16 L24.90,512.98 L25.10,513.30 L25.30,513.11 L25.50,512.41 L25.70,511.22 L25.90,509.54 L26.10,507.39 L26.30,504.79 L26.50,501.77 L26.70,498.34 L26.90,494.55 L27.10,490.42 L27.30,486.00 L27.50,481.33 L27.70,476.44 L27.90,471.40 L28.10,466.23 L28.30,461.00 L28.50,455.74 L28.70,450.52 L28.90,445.36 L29.10,440.33 L29.30,435.48 L29.50,430.83 L29.70,426.45 L29.90,422.36 L30.10,418.61 L30.30,415.23 L30.50,412.26 L30.70,409.71 L30.90,407.62 L31.10,406.00 L31.30,404.87 L31.50,404.24 L31.70,404.12 L31.90,404.50 L32.10,405.38 L32.30,406.75 L32.50,408.61 L32.70,410.93 L32.90,413.69 L33.10,416.87 L33.30,420.44 L33.50,424.36 L33.70,428.61 L33.90,433.12 L34.10,437.88 L34.30,442.83 L34.50,447.93 L34.70,453.12 L34.90,458.37 L35.10,463.62 L35.30,468.83 L35.50,473.94 L35.70,478.91 L35.90,483.69 L36.10,488.24 L36.30,492.52 L36.50,496.49 L36.70,500.10 L36.90,503.33 L37.10,506.15 L37.30,508.53 L37.50,510.44 L37.70,511.88 L37.90,512.82 L38.18,513.30 L38.44,512.86 L38.71,511.57 L38.97,509.43 L39.23,506.48 L39.50,502.78 L39.76,498.39 L40.02,493.39 L40.29,487.85 L40.55,481.88 L40.81,475.57 L41.08,469.04 L41.34,462.40 L41.60,455.76 L41.87,449.23 L42.13,442.92 L42.39,436.95 L42.66,431.41 L42.92,426.41 L43.18,422.02 L43.45,418.32 L43.71,415.37 L43.97,413.23 L44.24,411.94 L44.50,411.50 L44.67,411.75 L44.84,412.50 L45.01,413.74 L45.18,415.44 L45.35,417.58 L45.52,420.11 L45.70,423.00 L45.87,426.20 L46.04,429.65 L46.21,433.29 L46.38,437.06 L46.55,440.90 L46.72,444.74 L46.89,448.51 L47.06,452.15 L47.23,455.60 L47.40,458.80 L47.58,461.69 L47.75,464.22 L47.92,466.36 L48.09,468.06 L48.26,469.30 L48.43,470.05 L48.60,470.30 L48.60,470.30 L49.00,468.85 L49.40,467.58 L49.80,466.48 L50.20,465.51 L50.60,464.66 L51.00,463.91 L51.40,463.26 L51.80,462.69 L52.20,462.19 L52.60,461.76 L53.00,461.38 L53.40,461.04 L53.80,460.75 L54.20,460.49 L54.60,460.27 L55.00,460.07 L55.40,459.90 L55.80,459.75 L56.20,459.62 L56.60,459.51 L57.00,459.41 L57.40,459.32 L57.80,459.24 L58.20,459.17 L58.60,459.11 L59.00,459.06 L59.40,459.02 L59.80,458.98 L60.20,458.94 L60.60,458.91 L61.00,458.89 L61.40,458.86 L61.80,458.84 L62.20,458.82 L62.60,458.81 L63.00,458.80 L63.40,458.78 L63.80,458.77 L64.20,458.76 L64.60,458.76 L65.00,458.75 L65.40,458.74 L65.80,458.74 L66.20,458.73 L66.60,458.73 L67.00,458.73 L67.40,458.72 L67.80,458.72 L68.20,458.72 L68.60,458.71 L69.00,458.71 L69.40,458.71 L69.80,458.71 L70.20,458.71 L70.60,458.71 L71.00,458.71 L71.40,458.71 L71.80,458.71 L72.20,458.70 L72.60,458.70 L73.00,458.70 L73.40,458.70 L73.80,458.70 L74.20,458.70 L74.60,458.70 L75.00,458.70 L75.40,458.70 L75.80,458.70 L76.20,458.70 L76.60,458.70 L77.00,458.70 L77.40,458.70 L77.80,458.70 L78.20,458.70 L78.60,458.70 L79.00,458.70 L79.40,458.70 L79.80,458.70 L80.20,458.70 L80.60,458.70 L81.00,458.70 L81.40,458.70 L81.80,458.70 L82.20,458.70 L82.60,458.70 L83.00,458.70 L83.40,458.70 L83.80,458.70 L84.20,458.70 L84.60,458.70 L85.00,458.70 L85.40,458.70 L85.80,458.70 L86.20,458.70 L86.60,458.70 L87.00,458.70 L87.40,458.70 L87.80,458.70 L88.20,458.70 L88.60,458.70 L89.00,458.70 L89.40,458.70 L89.80,458.70 L90.20,458.70 L90.60,458.70 L91.00,458.70 L91.40,458.70 L91.80,458.70 L92.20,458.70 L92.60,458.70 L93.00,458.70 L93.40,458.70 L93.80,458.70 L94.20,458.70 L94.60,458.70 L95.00,458.70 L95.40,458.70 L95.80,458.70 L96.20,458.70 L96.60,458.70 L97.00,458.70 L97.40,458.70 L97.80,458.70 L98.20,458.70 L98.60,458.70 L99.00,458.70 L99.40,458.70 L99.80,458.70 L100.20,458.70 L100.60,458.70 L101.00,458.70 L101.40,458.70 L101.80,458.70 L102.20,458.70 L102.60,458.70 L103.00,458.70 L103.40,458.70 L103.80,458.70 L104.20,458.70 L104.60,458.70 L105.00,458.70 L105.40,458.70 L105.80,458.70 L106.20,458.70 L106.60,458.70 L107.00,458.70 L107.40,458.70 L107.80,458.70 L108.20,458.70 L108.60,458.70 L109.00,458.70 L109.40,458.70 L109.80,458.70 L110.20,458.70 L110.60,458.70 L111.00,458.70 L111.40,458.70 L111.80,458.70 L112.20,458.70 L112.60,458.70 L113.00,458.70 L113.40,458.70 L113.80,458.70 L114.20,458.70 L114.60,458.70 L115.00,458.70 L115.40,458.70 L115.80,458.70 L116.20,458.70 L116.60,458.70 L117.00,458.70 L117.40,458.70 L117.80,458.70 L118.20,458.70 L118.60,458.70 L119.00,458.70 L119.40,458.70 L119.80,458.70 L120.20,458.70 L120.60,458.70 L121.00,458.70 L121.40,458.70 L121.80,458.70 L122.20,458.70 L122.60,458.70 L123.00,458.70 L123.40,458.70 L123.80,458.70 L124.20,458.70 L124.60,458.70 L125.00,458.70 L125.40,458.70 L125.80,458.70 L126.20,458.70 L126.60,458.70 L127.00,458.70 L127.40,458.70 L127.80,458.70 L128.20,458.70 L128.60,458.70 L129.00,458.70 L129.40,458.70 L129.80,458.70 L130.20,458.70 L130.60,458.70 L131.00,458.70 L131.40,458.70 L131.80,458.70 L132.20,458.70 L132.60,458.70 L133.00,458.70 L133.40,458.70 L133.80,458.70 L134.20,458.70 L134.60,458.70 L135.00,458.70 L135.40,458.70 L135.80,458.70 L136.20,458.70 L136.60,458.70 L137.00,458.70 L137.40,458.70 L137.80,458.70 L138.20,458.70 L138.60,458.70 L139.00,458.70 L139.40,458.70 L139.80,458.70 L140.20,458.70 L140.60,458.70 L141.00,458.70 L141.40,458.70 L141.80,458.70 L142.20,458.70 L142.60,458.70 L143.00,458.70 L143.40,458.70 L143.80,458.70 L144.20,458.70 L144.60,458.70 L145.00,458.70 L145.40,458.70 L145.80,458.70 L146.20,458.70 L146.60,458.70 L147.00,458.70 L147.40,458.70 L147.80,458.70 L148.20,458.70 L148.40,458.70 L148.40,441.58 L148.60,436.67 L148.80,431.97 L149.00,427.52 L149.20,423.35 L149.40,419.52 L149.60,416.04 L149.80,412.96 L150.00,410.31 L150.20,408.10 L150.40,406.36 L150.60,405.11 L150.80,404.35 L151.00,404.10 L151.20,404.35 L151.40,405.11 L151.60,406.36 L151.80,408.10 L152.00,410.31 L152.20,412.96 L152.40,416.04 L152.60,419.52 L152.80,423.35 L153.00,427.52 L153.20,431.97 L153.40,436.67 L153.60,441.58 L153.80,446.64 L154.00,451.82 L154.20,457.06 L154.40,462.31 L154.60,467.53 L154.80,472.67 L155.00,477.68 L155.20,482.52 L155.40,487.13 L155.60,491.48 L155.80,495.53 L156.00,499.23 L156.20,502.56 L156.40,505.48 L156.60,507.97 L156.80,510.01 L157.00,511.56 L157.20,512.63 L157.40,513.20 L157.60,513.26 L157.80,512.82 L158.00,511.88 L158.20,510.44 L158.40,508.53 L158.60,506.15 L158.80,503.33 L159.00,500.10 L159.20,496.49 L159.40,492.52 L159.60,488.24 L159.80,483.69 L160.00,478.91 L160.20,473.94 L160.40,468.83 L160.60,463.62 L160.80,458.37 L161.00,453.12 L161.20,447.93 L161.40,442.83 L161.60,437.88 L161.80,433.12 L162.00,428.61 L162.20,424.36 L162.40,420.44 L162.60,416.87 L162.80,413.69 L163.00,410.93 L163.20,408.61 L163.40,406.75 L163.60,405.38 L163.80,404.50 L164.00,404.12 L164.20,404.24 L164.40,404.87 L164.60,406.00 L164.80,407.62 L165.00,409.71 L165.20,412.26 L165.40,415.23 L165.60,418.61 L165.80,422.36 L166.00,426.45 L166.20,430.83 L166.40,435.48 L166.60,440.33 L166.80,445.36" fill="none" stroke="#0a7ac8" stroke-width="0.52" stroke-linejoin="round" opacity="1"/>
<path d="M20.70,435.48 L20.90,430.83 L21.10,426.45 L21.30,422.36 L21.50,418.61 L21.70,415.23 L21.90,412.26 L22.10,409.71 L22.30,407.62 L22.50,406.00 L22.70,404.87 L22.90,404.24 L23.10,404.12 L23.30,404.50 L23.50,405.38 L23.70,406.75 L23.90,408.61 L24.10,410.93 L24.30,413.69 L24.50,416.87 L24.70,420.44 L24.90,424.36 L25.10,428.61 L25.30,433.12 L25.50,437.88 L25.70,442.83 L25.90,447.93 L26.10,453.12 L26.30,458.37 L26.50,463.62 L26.70,468.83 L26.90,473.94 L27.10,478.91 L27.30,483.69 L27.50,488.24 L27.70,492.52 L27.90,496.49 L28.10,500.10 L28.30,503.33 L28.50,506.15 L28.70,508.53 L28.90,510.44 L29.10,511.88 L29.30,512.82 L29.50,513.26 L29.70,513.20 L29.90,512.63 L30.10,511.56 L30.30,510.01 L30.50,507.97 L30.70,505.48 L30.90,502.56 L31.10,499.23 L31.30,495.53 L31.50,491.48 L31.70,487.13 L31.90,482.52 L32.10,477.68 L32.30,472.67 L32.50,467.53 L32.70,462.31 L32.90,457.06 L33.10,451.82 L33.30,446.64 L33.50,441.58 L33.70,436.67 L33.90,431.97 L34.10,427.52 L34.30,423.35 L34.50,419.52 L34.70,416.04 L34.90,412.96 L35.10,410.31 L35.30,408.10 L35.50,406.36 L35.70,405.11 L35.90,404.35 L36.10,404.10 L36.30,404.35 L36.50,405.11 L36.70,406.36 L36.90,408.10 L37.10,410.31 L37.30,412.96 L37.50,416.04 L37.70,419.52 L37.90,423.35 L38.10,427.52 L38.30,431.97 L38.50,436.67 L38.70,441.58 L38.90,446.64 L39.10,451.82 L39.30,457.06 L39.50,462.31 L39.70,467.53 L39.90,472.67 L40.10,477.68 L40.30,482.52 L40.50,487.13 L40.70,491.48 L40.90,495.53 L41.10,499.23 L41.30,502.56 L41.50,505.48 L41.70,507.97 L41.90,510.01 L42.10,511.56 L42.30,512.63 L42.62,513.30 L42.86,512.96 L43.10,511.93 L43.34,510.23 L43.58,507.90 L43.82,504.97 L44.06,501.50 L44.31,497.53 L44.55,493.15 L44.79,488.42 L45.03,483.43 L45.27,478.26 L45.51,473.00 L45.75,467.74 L45.99,462.57 L46.23,457.58 L46.47,452.85 L46.71,448.47 L46.95,444.50 L47.20,441.03 L47.44,438.10 L47.68,435.77 L47.92,434.07 L48.16,433.04 L48.40,432.70 L48.40,432.70 L48.80,435.95 L49.20,438.79 L49.60,441.27 L50.00,443.45 L50.40,445.35 L50.80,447.02 L51.20,448.48 L51.60,449.75 L52.00,450.87 L52.40,451.85 L52.80,452.70 L53.20,453.45 L53.60,454.11 L54.00,454.68 L54.40,455.18 L54.80,455.62 L55.20,456.00 L55.60,456.34 L56.00,456.64 L56.40,456.89 L56.80,457.12 L57.20,457.32 L57.60,457.49 L58.00,457.64 L58.40,457.77 L58.80,457.89 L59.20,457.99 L59.60,458.08 L60.00,458.16 L60.40,458.22 L60.80,458.28 L61.20,458.34 L61.60,458.38 L62.00,458.42 L62.40,458.46 L62.80,458.49 L63.20,458.51 L63.60,458.54 L64.00,458.56 L64.40,458.57 L64.80,458.59 L65.20,458.60 L65.60,458.62 L66.00,458.63 L66.40,458.64 L66.80,458.64 L67.20,458.65 L67.60,458.66 L68.00,458.66 L68.40,458.67 L68.80,458.67 L69.20,458.67 L69.60,458.68 L70.00,458.68 L70.40,458.68 L70.80,458.69 L71.20,458.69 L71.60,458.69 L72.00,458.69 L72.40,458.69 L72.80,458.69 L73.20,458.69 L73.60,458.69 L74.00,458.69 L74.40,458.70 L74.80,458.70 L75.20,458.70 L75.60,458.70 L76.00,458.70 L76.40,458.70 L76.80,458.70 L77.20,458.70 L77.60,458.70 L78.00,458.70 L78.40,458.70 L78.80,458.70 L79.20,458.70 L79.60,458.70 L80.00,458.70 L80.40,458.70 L80.80,458.70 L81.20,458.70 L81.60,458.70 L82.00,458.70 L82.40,458.70 L82.80,458.70 L83.20,458.70 L83.60,458.70 L84.00,458.70 L84.40,458.70 L84.80,458.70 L85.20,458.70 L85.60,458.70 L86.00,458.70 L86.40,458.70 L86.80,458.70 L87.20,458.70 L87.60,458.70 L88.00,458.70 L88.40,458.70 L88.80,458.70 L89.20,458.70 L89.60,458.70 L90.00,458.70 L90.40,458.70 L90.80,458.70 L91.20,458.70 L91.60,458.70 L92.00,458.70 L92.40,458.70 L92.80,458.70 L93.20,458.70 L93.60,458.70 L94.00,458.70 L94.40,458.70 L94.80,458.70 L95.20,458.70 L95.60,458.70 L96.00,458.70 L96.40,458.70 L96.80,458.70 L97.20,458.70 L97.60,458.70 L98.00,458.70 L98.40,458.70 L98.80,458.70 L99.20,458.70 L99.60,458.70 L100.00,458.70 L100.40,458.70 L100.80,458.70 L101.20,458.70 L101.60,458.70 L102.00,458.70 L102.40,458.70 L102.80,458.70 L103.20,458.70 L103.60,458.70 L104.00,458.70 L104.40,458.70 L104.80,458.70 L105.20,458.70 L105.60,458.70 L106.00,458.70 L106.40,458.70 L106.80,458.70 L107.20,458.70 L107.60,458.70 L108.00,458.70 L108.40,458.70 L108.80,458.70 L109.20,458.70 L109.60,458.70 L110.00,458.70 L110.40,458.70 L110.80,458.70 L111.20,458.70 L111.60,458.70 L112.00,458.70 L112.40,458.70 L112.80,458.70 L113.20,458.70 L113.60,458.70 L114.00,458.70 L114.40,458.70 L114.80,458.70 L115.20,458.70 L115.60,458.70 L116.00,458.70 L116.40,458.70 L116.80,458.70 L117.20,458.70 L117.60,458.70 L118.00,458.70 L118.40,458.70 L118.80,458.70 L119.20,458.70 L119.60,458.70 L120.00,458.70 L120.40,458.70 L120.80,458.70 L121.20,458.70 L121.60,458.70 L122.00,458.70 L122.40,458.70 L122.80,458.70 L123.20,458.70 L123.60,458.70 L124.00,458.70 L124.40,458.70 L124.80,458.70 L125.20,458.70 L125.60,458.70 L126.00,458.70 L126.40,458.70 L126.80,458.70 L127.20,458.70 L127.60,458.70 L128.00,458.70 L128.40,458.70 L128.80,458.70 L129.20,458.70 L129.60,458.70 L130.00,458.70 L130.40,458.70 L130.80,458.70 L131.20,458.70 L131.60,458.70 L132.00,458.70 L132.40,458.70 L132.80,458.70 L133.20,458.70 L133.60,458.70 L134.00,458.70 L134.40,458.70 L134.80,458.70 L135.20,458.70 L135.60,458.70 L136.00,458.70 L136.40,458.70 L136.80,458.70 L137.20,458.70 L137.60,458.70 L138.00,458.70 L138.40,458.70 L138.80,458.70 L139.20,458.70 L139.60,458.70 L140.00,458.70 L140.40,458.70 L140.80,458.70 L141.20,458.70 L141.60,458.70 L142.00,458.70 L142.40,458.70 L142.80,458.70 L143.20,458.70 L143.60,458.70 L144.00,458.70 L144.40,458.70 L144.80,458.70 L145.20,458.70 L145.60,458.70 L146.00,458.70 L146.40,458.70 L146.80,458.70 L147.20,458.70 L147.60,458.70 L148.00,458.70 L148.40,458.70 L148.40,512.82 L148.60,513.26 L148.80,513.20 L149.00,512.63 L149.20,511.56 L149.40,510.01 L149.60,507.97 L149.80,505.48 L150.00,502.56 L150.20,499.23 L150.40,495.53 L150.60,491.48 L150.80,487.13 L151.00,482.52 L151.20,477.68 L151.40,472.67 L151.60,467.53 L151.80,462.31 L152.00,457.06 L152.20,451.82 L152.40,446.64 L152.60,441.58 L152.80,436.67 L153.00,431.97 L153.20,427.52 L153.40,423.35 L153.60,419.52 L153.80,416.04 L154.00,412.96 L154.20,410.31 L154.40,408.10 L154.60,406.36 L154.80,405.11 L155.00,404.35 L155.20,404.10 L155.40,404.35 L155.60,405.11 L155.80,406.36 L156.00,408.10 L156.20,410.31 L156.40,412.96 L156.60,416.04 L156.80,419.52 L157.00,423.35 L157.20,427.52 L157.40,431.97 L157.60,436.67 L157.80,441.58 L158.00,446.64 L158.20,451.82 L158.40,457.06 L158.60,462.31 L158.80,467.53 L159.00,472.67 L159.20,477.68 L159.40,482.52 L159.60,487.13 L159.80,491.48 L160.00,495.53 L160.20,499.23 L160.40,502.56 L160.60,505.48 L160.80,507.97 L161.00,510.01 L161.20,511.56 L161.40,512.63 L161.60,513.20 L161.80,513.26 L162.00,512.82 L162.20,511.88 L162.40,510.44 L162.60,508.53 L162.80,506.15 L163.00,503.33 L163.20,500.10 L163.40,496.49 L163.60,492.52 L163.80,488.24 L164.00,483.69 L164.20,478.91 L164.40,473.94 L164.60,468.83 L164.80,463.62 L165.00,458.37 L165.20,453.12 L165.40,447.93 L165.60,442.83 L165.80,437.88 L166.00,433.12 L166.20,428.61 L166.40,424.36 L166.60,420.44 L166.80,416.87" fill="none" stroke="#de5a1f" stroke-width="0.52" stroke-linejoin="round" opacity="1"/>
<path d="M20.70,513.20 L20.90,513.26 L21.10,512.82 L21.30,511.88 L21.50,510.44 L21.70,508.53 L21.90,506.15 L22.10,503.33 L22.30,500.10 L22.50,496.49 L22.70,492.52 L22.90,488.24 L23.10,483.69 L23.30,478.91 L23.50,473.94 L23.70,468.83 L23.90,463.62 L24.10,458.37 L24.30,453.12 L24.50,447.93 L24.70,442.83 L24.90,437.88 L25.10,433.12 L25.30,428.61 L25.50,424.36 L25.70,420.44 L25.90,416.87 L26.10,413.69 L26.30,410.93 L26.50,408.61 L26.70,406.75 L26.90,405.38 L27.10,404.50 L27.30,404.12 L27.50,404.24 L27.70,404.87 L27.90,406.00 L28.10,407.62 L28.30,409.71 L28.50,412.26 L28.70,415.23 L28.90,418.61 L29.10,422.36 L29.30,426.45 L29.50,430.83 L29.70,435.48 L29.90,440.33 L30.10,445.36 L30.30,450.52 L30.50,455.74 L30.70,461.00 L30.90,466.23 L31.10,471.40 L31.30,476.44 L31.50,481.33 L31.70,486.00 L31.90,490.42 L32.10,494.55 L32.30,498.34 L32.50,501.77 L32.70,504.79 L32.90,507.39 L33.10,509.54 L33.30,511.22 L33.50,512.41 L33.70,513.11 L33.90,513.30 L34.10,512.98 L34.30,512.16 L34.50,510.85 L34.70,509.05 L34.90,506.78 L35.10,504.08 L35.30,500.95 L35.50,497.42 L35.70,493.54 L35.90,489.34 L36.10,484.85 L36.30,480.12 L36.50,475.20 L36.70,470.12 L36.90,464.93 L37.10,459.69 L37.30,454.43 L37.50,449.22 L37.70,444.09 L37.90,439.10 L38.10,434.29 L38.30,429.71 L38.50,425.40 L38.70,421.39 L38.90,417.73 L39.10,414.45 L39.30,411.58 L39.50,409.15 L39.70,407.17 L39.90,405.67 L40.10,404.67 L40.40,404.10 L40.62,404.44 L40.85,405.46 L41.07,407.14 L41.30,409.45 L41.52,412.36 L41.75,415.80 L41.98,419.73 L42.20,424.07 L42.42,428.76 L42.65,433.71 L42.88,438.84 L43.10,444.05 L43.32,449.26 L43.55,454.39 L43.77,459.34 L44.00,464.02 L44.22,468.37 L44.45,472.30 L44.67,475.74 L44.90,478.65 L45.12,480.96 L45.35,482.64 L45.57,483.66 L45.80,484.00 L45.80,484.00 L46.20,481.03 L46.60,478.40 L47.00,476.09 L47.40,474.05 L47.80,472.24 L48.20,470.65 L48.60,469.25 L49.00,468.01 L49.40,466.91 L49.80,465.95 L50.20,465.10 L50.60,464.35 L51.00,463.68 L51.40,463.10 L51.80,462.58 L52.20,462.12 L52.60,461.72 L53.00,461.37 L53.40,461.05 L53.80,460.78 L54.20,460.53 L54.60,460.32 L55.00,460.13 L55.40,459.96 L55.80,459.81 L56.20,459.68 L56.60,459.57 L57.00,459.46 L57.40,459.37 L57.80,459.29 L58.20,459.23 L58.60,459.16 L59.00,459.11 L59.40,459.06 L59.80,459.02 L60.20,458.98 L60.60,458.95 L61.00,458.92 L61.40,458.89 L61.80,458.87 L62.20,458.85 L62.60,458.83 L63.00,458.82 L63.40,458.80 L63.80,458.79 L64.20,458.78 L64.60,458.77 L65.00,458.76 L65.40,458.76 L65.80,458.75 L66.20,458.74 L66.60,458.74 L67.00,458.73 L67.40,458.73 L67.80,458.73 L68.20,458.72 L68.60,458.72 L69.00,458.72 L69.40,458.72 L69.80,458.71 L70.20,458.71 L70.60,458.71 L71.00,458.71 L71.40,458.71 L71.80,458.71 L72.20,458.71 L72.60,458.71 L73.00,458.71 L73.40,458.70 L73.80,458.70 L74.20,458.70 L74.60,458.70 L75.00,458.70 L75.40,458.70 L75.80,458.70 L76.20,458.70 L76.60,458.70 L77.00,458.70 L77.40,458.70 L77.80,458.70 L78.20,458.70 L78.60,458.70 L79.00,458.70 L79.40,458.70 L79.80,458.70 L80.20,458.70 L80.60,458.70 L81.00,458.70 L81.40,458.70 L81.80,458.70 L82.20,458.70 L82.60,458.70 L83.00,458.70 L83.40,458.70 L83.80,458.70 L84.20,458.70 L84.60,458.70 L85.00,458.70 L85.40,458.70 L85.80,458.70 L86.20,458.70 L86.60,458.70 L87.00,458.70 L87.40,458.70 L87.80,458.70 L88.20,458.70 L88.60,458.70 L89.00,458.70 L89.40,458.70 L89.80,458.70 L90.20,458.70 L90.60,458.70 L91.00,458.70 L91.40,458.70 L91.80,458.70 L92.20,458.70 L92.60,458.70 L93.00,458.70 L93.40,458.70 L93.80,458.70 L94.20,458.70 L94.60,458.70 L95.00,458.70 L95.40,458.70 L95.80,458.70 L96.20,458.70 L96.60,458.70 L97.00,458.70 L97.40,458.70 L97.80,458.70 L98.20,458.70 L98.60,458.70 L99.00,458.70 L99.40,458.70 L99.80,458.70 L100.20,458.70 L100.60,458.70 L101.00,458.70 L101.40,458.70 L101.80,458.70 L102.20,458.70 L102.60,458.70 L103.00,458.70 L103.40,458.70 L103.80,458.70 L104.20,458.70 L104.60,458.70 L105.00,458.70 L105.40,458.70 L105.80,458.70 L106.20,458.70 L106.60,458.70 L107.00,458.70 L107.40,458.70 L107.80,458.70 L108.20,458.70 L108.60,458.70 L109.00,458.70 L109.40,458.70 L109.80,458.70 L110.20,458.70 L110.60,458.70 L111.00,458.70 L111.40,458.70 L111.80,458.70 L112.20,458.70 L112.60,458.70 L113.00,458.70 L113.40,458.70 L113.80,458.70 L114.20,458.70 L114.60,458.70 L115.00,458.70 L115.40,458.70 L115.80,458.70 L116.20,458.70 L116.60,458.70 L117.00,458.70 L117.40,458.70 L117.80,458.70 L118.20,458.70 L118.60,458.70 L119.00,458.70 L119.40,458.70 L119.80,458.70 L120.20,458.70 L120.60,458.70 L121.00,458.70 L121.40,458.70 L121.80,458.70 L122.20,458.70 L122.60,458.70 L123.00,458.70 L123.40,458.70 L123.80,458.70 L124.20,458.70 L124.60,458.70 L125.00,458.70 L125.40,458.70 L125.80,458.70 L126.20,458.70 L126.60,458.70 L127.00,458.70 L127.40,458.70 L127.80,458.70 L128.20,458.70 L128.60,458.70 L129.00,458.70 L129.40,458.70 L129.80,458.70 L130.20,458.70 L130.60,458.70 L131.00,458.70 L131.40,458.70 L131.80,458.70 L132.20,458.70 L132.60,458.70 L133.00,458.70 L133.40,458.70 L133.80,458.70 L134.20,458.70 L134.60,458.70 L135.00,458.70 L135.40,458.70 L135.80,458.70 L136.20,458.70 L136.60,458.70 L137.00,458.70 L137.40,458.70 L137.80,458.70 L138.20,458.70 L138.60,458.70 L139.00,458.70 L139.40,458.70 L139.80,458.70 L140.20,458.70 L140.60,458.70 L141.00,458.70 L141.40,458.70 L141.80,458.70 L142.20,458.70 L142.60,458.70 L143.00,458.70 L143.40,458.70 L143.80,458.70 L144.20,458.70 L144.60,458.70 L145.00,458.70 L145.40,458.70 L145.80,458.70 L146.20,458.70 L146.60,458.70 L147.00,458.70 L147.40,458.70 L147.80,458.70 L148.20,458.70 L148.40,458.70 L148.40,431.97 L148.60,436.67 L148.80,441.58 L149.00,446.64 L149.20,451.82 L149.40,457.06 L149.60,462.31 L149.80,467.53 L150.00,472.67 L150.20,477.68 L150.40,482.52 L150.60,487.13 L150.80,491.48 L151.00,495.53 L151.20,499.23 L151.40,502.56 L151.60,505.48 L151.80,507.97 L152.00,510.01 L152.20,511.56 L152.40,512.63 L152.60,513.20 L152.80,513.26 L153.00,512.82 L153.20,511.88 L153.40,510.44 L153.60,508.53 L153.80,506.15 L154.00,503.33 L154.20,500.10 L154.40,496.49 L154.60,492.52 L154.80,488.24 L155.00,483.69 L155.20,478.91 L155.40,473.94 L155.60,468.83 L155.80,463.62 L156.00,458.37 L156.20,453.12 L156.40,447.93 L156.60,442.83 L156.80,437.88 L157.00,433.12 L157.20,428.61 L157.40,424.36 L157.60,420.44 L157.80,416.87 L158.00,413.69 L158.20,410.93 L158.40,408.61 L158.60,406.75 L158.80,405.38 L159.00,404.50 L159.20,404.12 L159.40,404.24 L159.60,404.87 L159.80,406.00 L160.00,407.62 L160.20,409.71 L160.40,412.26 L160.60,415.23 L160.80,418.61 L161.00,422.36 L161.20,426.45 L161.40,430.83 L161.60,435.48 L161.80,440.33 L162.00,445.36 L162.20,450.52 L162.40,455.74 L162.60,461.00 L162.80,466.23 L163.00,471.40 L163.20,476.44 L163.40,481.33 L163.60,486.00 L163.80,490.42 L164.00,494.55 L164.20,498.34 L164.40,501.77 L164.60,504.79 L164.80,507.39 L165.00,509.54 L165.20,511.22 L165.40,512.41 L165.60,513.11 L165.80,513.30 L166.00,512.98 L166.20,512.16 L166.40,510.85 L166.60,509.05 L166.80,506.78" fill="none" stroke="#eeb224" stroke-width="0.52" stroke-linejoin="round" opacity="1"/>
</g>
<text x="43.50" y="525.80" font-size="6.8" font-family="Liberation Sans, sans-serif" fill="#2a2a2a" text-anchor="middle" >2000</text>
<text x="69.60" y="525.80" font-size="6.8" font-family="Liberation Sans, sans-serif" fill="#2a2a2a" text-anchor="middle" >2500</text>
<text x="95.70" y="525.80" font-size="6.8" font-family="Liberation Sans, sans-serif" fill="#2a2a2a" text-anchor="middle" >3000</text>
<text x="121.80" y="525.80" font-size="6.8" font-family="Liberation Sans, sans-serif" fill="#2a2a2a" text-anchor="middle" >3500</text>
<text x="147.90" y="525.80" font-size="6.8" font-family="Liberation Sans, sans-serif" fill="#2a2a2a" text-anchor="middle" >4000</text>
<text x="18.60" y="412.90" font-size="6.8" font-family="Liberation Sans, sans-serif" fill="#2a2a2a" text-anchor="end" >500</text>
<text x="18.60" y="461.30" font-size="6.8" font-family="Liberation Sans, sans-serif" fill="#2a2a2a" text-anchor="end" >0</text>
<text x="18.60" y="509.70" font-size="6.8" font-family="Liberation Sans, sans-serif" fill="#2a2a2a" text-anchor="end" >−500</text>
<text x="93.60" y="399.00" font-size="8" font-family="Liberation Sans, sans-serif" fill="#111" text-anchor="middle" font-weight="bold" >Interruption</text>
<text x="23.5" y="545" font-size="11.6" font-family="Liberation Serif, serif" fill="#1a1a1a" textLength="133.5" lengthAdjust="spacingAndGlyphs"><tspan font-weight="bold">(k)</tspan> Interruption PQD STFT</text>
<path d="M268.3,30.5 L375.3,8.8 L428.0,55.3 M268.3,45.8 L375.3,24.1 L428.0,70.6 M268.3,61.0 L375.3,39.3 L428.0,85.8 M268.3,76.3 L375.3,54.6 L428.0,101.1 M287.8,74.1 v-48.5 M287.8,74.1 L340.5,120.6 M307.2,70.1 v-48.5 M307.2,70.1 L359.9,116.6 M326.7,66.2 v-48.5 M326.7,66.2 L379.4,112.7 M346.1,62.2 v-48.5 M346.1,62.2 L398.8,108.7 M365.6,58.3 v-48.5 M365.6,58.3 L418.3,104.8 M428.0,102.8 v-48.5 M268.3,78.0 L375.3,56.3 M414.8,91.2 v-48.5 M281.5,89.6 L388.5,67.9 M401.6,79.6 v-48.5 M294.6,101.2 L401.6,79.6 M388.5,67.9 v-48.5 M307.8,112.9 L414.8,91.2 M375.3,56.3 v-48.5" stroke="#f5f5f5" stroke-width="0.6" fill="none"/>
<path d="M268.3,29.5 L268.3,78.0 L321.0,124.5 L428.0,102.8" stroke="#b0b0b0" stroke-width="0.7" fill="none"/>
<polygon points="268.2,53.5 271.5,58.5 275.8,63.2 280.8,66.2 286.4,67.8 293.6,67.2 296.0,68.0 297.0,76.0 293.0,78.5 291.0,80.0 288.2,79.0 285.4,82.6 282.0,79.5 279.0,78.0 276.5,78.0 274.3,76.5 272.5,76.8 270.6,70.0 269.2,62.0" fill="#403c9b"/>
<clipPath id="ch"><path d="M294.0,58.5 L295.5,58.5 L297.1,58.5 L298.6,58.4 L300.1,58.0 L301.7,57.4 L303.2,56.8 L304.7,56.3 L306.3,56.1 L307.8,56.1 L309.3,56.1 L310.8,56.0 L312.4,55.6 L313.9,55.0 L315.4,54.4 L317.0,53.9 L318.5,53.7 L320.0,53.7 L321.6,53.7 L323.1,53.6 L324.6,53.3 L326.2,52.7 L327.7,52.0 L329.2,51.5 L330.8,51.3 L332.3,51.3 L333.8,51.3 L335.3,51.2 L336.9,50.9 L338.4,50.3 L339.9,49.7 L341.5,49.2 L343.0,48.9 L344.5,48.9 L346.1,48.9 L347.6,48.8 L349.1,48.5 L350.7,47.9 L352.2,47.3 L353.7,46.8 L355.3,46.5 L356.8,46.5 L358.3,46.5 L359.9,46.4 L361.4,46.1 L362.9,45.6 L364.4,44.9 L366.0,44.4 L367.5,44.1 L369.0,44.1 L370.6,44.1 L372.1,44.0 L373.6,43.7 L375.2,43.2 L376.7,42.5 L378.2,42.0 L379.8,41.7 L381.3,41.7 L382.8,41.7 L384.4,41.7 L385.9,41.3 L387.4,40.8 L388.9,40.2 L390.5,39.6 L392.0,39.3 L393.5,39.3 L395.1,39.3 L396.6,39.3 L398.1,39.0 L399.7,38.4 L401.2,37.8 L402.6,44.0 L404.8,51.7 L408.6,64.6 L413.8,77.6 L420.3,87.9 L427.6,97.5 L427.6,98.4 L426.8,98.6 L426.0,98.9 L425.2,99.3 L424.4,99.8 L423.6,100.3 L422.8,100.8 L422.0,101.4 L421.2,101.9 L420.4,102.3 L419.6,102.6 L418.8,102.8 L418.0,102.8 L417.2,102.8 L416.4,102.7 L415.6,102.5 L414.8,102.3 L414.0,102.2 L413.2,102.0 L412.4,102.0 L411.6,102.0 L410.8,102.2 L410.0,102.4 L409.2,102.8 L408.4,103.3 L407.6,103.8 L406.8,104.3 L406.0,104.9 L405.2,105.4 L404.4,105.8 L403.6,106.1 L402.8,106.3 L402.0,106.5 L401.2,106.5 L400.4,106.4 L399.6,106.2 L398.8,106.0 L398.0,105.8 L397.2,105.7 L396.4,105.6 L395.6,105.6 L394.8,105.7 L394.0,106.0 L393.2,106.3 L392.4,106.8 L391.6,107.3 L390.8,107.8 L390.0,108.4 L389.2,108.9 L388.4,109.3 L387.6,109.7 L386.8,109.9 L386.0,110.1 L385.2,110.1 L384.4,110.0 L383.6,109.9 L382.8,109.7 L382.0,109.5 L381.2,109.3 L380.4,109.2 L379.6,109.2 L378.8,109.3 L378.0,109.5 L377.2,109.8 L376.4,110.3 L375.6,110.8 L374.8,111.3 L374.0,111.8 L373.2,112.4 L372.4,112.8 L371.6,113.2 L370.8,113.5 L370.0,113.7 L369.2,113.7 L368.4,113.7 L367.6,113.5 L366.8,113.4 L366.0,113.2 L365.2,113.0 L364.4,112.9 L363.6,112.8 L362.8,112.9 L362.0,113.1 L361.2,113.4 L360.4,113.8 L359.6,114.3 L358.8,114.8 L358.0,115.3 L357.2,115.9 L356.4,116.4 L355.6,116.8 L354.8,117.1 L354.0,117.1 L353.2,117.0 L352.4,116.8 L351.6,116.5 L350.8,116.1 L350.0,115.8 L349.2,115.5 L348.4,115.3 L347.6,115.2 L346.8,115.3 L346.0,115.5 L345.2,115.8 L344.4,116.2 L343.6,116.6 L342.8,117.0 L342.0,117.4 L341.2,117.6 L340.4,117.7 L339.6,117.7 L338.8,117.5 L338.0,117.2 L337.2,116.9 L336.4,116.5 L335.6,116.2 L334.8,115.9 L334.0,115.8 L333.2,115.8 L332.4,116.0 L331.6,116.2 L330.8,116.6 L330.0,117.0 L329.2,117.5 L328.4,117.8 L327.6,118.1 L326.8,118.3 L326.0,118.3 L325.2,118.2 L324.4,117.9 L323.6,117.6 L322.8,117.3 L322.0,117.4 L320.5,116.0 L319.2,112.6 L318.1,110.7 L316.6,110.0 L315.3,108.2 L313.2,106.8 L311.5,104.5 L309.8,104.0 L308.5,102.4 L305.5,99.5 L302.7,96.2 L300.5,91.5 L298.8,86.8 L297.2,81.0 L295.9,75.2 L295.0,68.0 Z"/></clipPath>
<path d="M294.0,61.0 L295.5,61.0 L297.1,61.0 L298.6,60.9 L300.1,60.5 L301.7,59.9 L303.2,59.3 L304.7,58.8 L306.3,58.6 L307.8,58.6 L309.3,58.6 L310.8,58.5 L312.4,58.1 L313.9,57.5 L315.4,56.9 L317.0,56.4 L318.5,56.2 L320.0,56.2 L321.6,56.2 L323.1,56.1 L324.6,55.8 L326.2,55.2 L327.7,54.5 L329.2,54.0 L330.8,53.8 L332.3,53.8 L333.8,53.8 L335.3,53.7 L336.9,53.4 L338.4,52.8 L339.9,52.2 L341.5,51.7 L343.0,51.4 L344.5,51.4 L346.1,51.4 L347.6,51.3 L349.1,51.0 L350.7,50.4 L352.2,49.8 L353.7,49.3 L355.3,49.0 L356.8,49.0 L358.3,49.0 L359.9,48.9 L361.4,48.6 L362.9,48.1 L364.4,47.4 L366.0,46.9 L367.5,46.6 L369.0,46.6 L370.6,46.6 L372.1,46.5 L373.6,46.2 L375.2,45.7 L376.7,45.0 L378.2,44.5 L379.8,44.2 L381.3,44.2 L382.8,44.2 L384.4,44.2 L385.9,43.8 L387.4,43.3 L388.9,42.7 L390.5,42.1 L392.0,41.8 L393.5,41.8 L395.1,41.8 L396.6,41.8 L398.1,41.5 L399.7,40.9 L401.2,40.3 L404.8,51.7 L408.6,64.6 L413.8,77.6 L420.3,87.9 L427.6,97.5 L427.6,98.4 L426.8,98.6 L426.0,98.9 L425.2,99.3 L424.4,99.8 L423.6,100.3 L422.8,100.8 L422.0,101.4 L421.2,101.9 L420.4,102.3 L419.6,102.6 L418.8,102.8 L418.0,102.8 L417.2,102.8 L416.4,102.7 L415.6,102.5 L414.8,102.3 L414.0,102.2 L413.2,102.0 L412.4,102.0 L411.6,102.0 L410.8,102.2 L410.0,102.4 L409.2,102.8 L408.4,103.3 L407.6,103.8 L406.8,104.3 L406.0,104.9 L405.2,105.4 L404.4,105.8 L403.6,106.1 L402.8,106.3 L402.0,106.5 L401.2,106.5 L400.4,106.4 L399.6,106.2 L398.8,106.0 L398.0,105.8 L397.2,105.7 L396.4,105.6 L395.6,105.6 L394.8,105.7 L394.0,106.0 L393.2,106.3 L392.4,106.8 L391.6,107.3 L390.8,107.8 L390.0,108.4 L389.2,108.9 L388.4,109.3 L387.6,109.7 L386.8,109.9 L386.0,110.1 L385.2,110.1 L384.4,110.0 L383.6,109.9 L382.8,109.7 L382.0,109.5 L381.2,109.3 L380.4,109.2 L379.6,109.2 L378.8,109.3 L378.0,109.5 L377.2,109.8 L376.4,110.3 L375.6,110.8 L374.8,111.3 L374.0,111.8 L373.2,112.4 L372.4,112.8 L371.6,113.2 L370.8,113.5 L370.0,113.7 L369.2,113.7 L368.4,113.7 L367.6,113.5 L366.8,113.4 L366.0,113.2 L365.2,113.0 L364.4,112.9 L363.6,112.8 L362.8,112.9 L362.0,113.1 L361.2,113.4 L360.4,113.8 L359.6,114.3 L358.8,114.8 L358.0,115.3 L357.2,115.9 L356.4,116.4 L355.6,116.8 L354.8,117.1 L354.0,117.1 L353.2,117.0 L352.4,116.8 L351.6,116.5 L350.8,116.1 L350.0,115.8 L349.2,115.5 L348.4,115.3 L347.6,115.2 L346.8,115.3 L346.0,115.5 L345.2,115.8 L344.4,116.2 L343.6,116.6 L342.8,117.0 L342.0,117.4 L341.2,117.6 L340.4,117.7 L339.6,117.7 L338.8,117.5 L338.0,117.2 L337.2,116.9 L336.4,116.5 L335.6,116.2 L334.8,115.9 L334.0,115.8 L333.2,115.8 L332.4,116.0 L331.6,116.2 L330.8,116.6 L330.0,117.0 L329.2,117.5 L328.4,117.8 L327.6,118.1 L326.8,118.3 L326.0,118.3 L325.2,118.2 L324.4,117.9 L323.6,117.6 L322.8,117.3 L322.0,117.4 L320.5,116.0 L319.2,112.6 L318.1,110.7 L316.6,110.0 L315.3,108.2 L313.2,106.8 L311.5,104.5 L309.8,104.0 L308.5,102.4 L305.5,99.5 L302.7,96.2 L300.5,91.5 L298.8,86.8 L297.2,81.0 L295.9,75.2 L296.5,68.0 Z" fill="#403c9b"/>
<g clip-path="url(#ch)">
<polygon points="294.0,58.5 295.5,58.5 297.1,58.5 298.6,58.4 300.1,58.0 301.7,57.4 303.2,56.8 304.7,56.3 306.3,56.1 307.8,56.1 309.3,56.1 310.8,56.0 312.4,55.6 313.9,55.0 315.4,54.4 317.0,53.9 318.5,53.7 320.0,53.7 321.6,53.7 323.1,53.6 324.6,53.3 326.2,52.7 327.7,52.0 329.2,51.5 330.8,51.3 332.3,51.3 333.8,51.3 335.3,51.2 336.9,50.9 338.4,50.3 339.9,49.7 341.5,49.2 343.0,48.9 344.5,48.9 346.1,48.9 347.6,48.8 349.1,48.5 350.7,47.9 352.2,47.3 353.7,46.8 355.3,46.5 356.8,46.5 358.3,46.5 359.9,46.4 361.4,46.1 362.9,45.6 364.4,44.9 366.0,44.4 367.5,44.1 369.0,44.1 370.6,44.1 372.1,44.0 373.6,43.7 375.2,43.2 376.7,42.5 378.2,42.0 379.8,41.7 381.3,41.7 382.8,41.7 384.4,41.7 385.9,41.3 387.4,40.8 388.9,40.2 390.5,39.6 392.0,39.3 393.5,39.3 395.1,39.3 396.6,39.3 398.1,39.0 399.7,38.4 401.2,37.8 430.0,32.0 430.0,32.8 401.2,38.6 399.7,39.2 398.1,39.8 396.6,40.1 395.1,40.1 393.5,40.1 392.0,40.1 390.5,40.4 388.9,41.0 387.4,41.6 385.9,42.1 384.4,42.5 382.8,42.5 381.3,42.5 379.8,42.5 378.2,42.8 376.7,43.3 375.2,44.0 373.6,44.5 372.1,44.8 370.6,44.9 369.0,44.9 367.5,44.9 366.0,45.2 364.4,45.7 362.9,46.4 361.4,46.9 359.9,47.2 358.3,47.3 356.8,47.3 355.3,47.3 353.7,47.6 352.2,48.1 350.7,48.7 349.1,49.3 347.6,49.6 346.1,49.7 344.5,49.7 343.0,49.7 341.5,50.0 339.9,50.5 338.4,51.1 336.9,51.7 335.3,52.0 333.8,52.1 332.3,52.1 330.8,52.1 329.2,52.3 327.7,52.8 326.2,53.5 324.6,54.1 323.1,54.4 321.6,54.5 320.0,54.5 318.5,54.5 317.0,54.7 315.4,55.2 313.9,55.8 312.4,56.4 310.8,56.8 309.3,56.9 307.8,56.8 306.3,56.8 304.7,57.0 303.2,57.4 301.7,58.1 300.1,58.6 298.6,59.0 297.1,59.1 295.5,59.0 294.0,59.0" fill="#f7e12d"/>
<polygon points="294.0,58.8 295.5,58.8 297.1,58.9 298.6,58.8 300.1,58.4 301.7,57.8 303.2,57.2 304.7,56.7 306.3,56.5 307.8,56.5 309.3,56.6 310.8,56.5 312.4,56.1 313.9,55.5 315.4,54.9 317.0,54.4 318.5,54.2 320.0,54.2 321.6,54.2 323.1,54.1 324.6,53.8 326.2,53.2 327.7,52.5 329.2,52.0 330.8,51.8 332.3,51.8 333.8,51.8 335.3,51.7 336.9,51.4 338.4,50.8 339.9,50.2 341.5,49.7 343.0,49.4 344.5,49.4 346.1,49.4 347.6,49.3 349.1,49.0 350.7,48.4 352.2,47.8 353.7,47.3 355.3,47.0 356.8,47.0 358.3,47.0 359.9,46.9 361.4,46.6 362.9,46.1 364.4,45.4 366.0,44.9 367.5,44.6 369.0,44.6 370.6,44.6 372.1,44.5 373.6,44.2 375.2,43.7 376.7,43.0 378.2,42.5 379.8,42.2 381.3,42.2 382.8,42.2 384.4,42.2 385.9,41.8 387.4,41.3 388.9,40.7 390.5,40.1 392.0,39.8 393.5,39.8 395.1,39.8 396.6,39.8 398.1,39.5 399.7,38.9 401.2,38.3 430.0,32.5 430.0,33.3 401.2,39.1 399.7,39.7 398.1,40.3 396.6,40.6 395.1,40.6 393.5,40.6 392.0,40.6 390.5,40.9 388.9,41.5 387.4,42.1 385.9,42.6 384.4,43.0 382.8,43.0 381.3,43.0 379.8,43.0 378.2,43.3 376.7,43.8 375.2,44.5 373.6,45.0 372.1,45.3 370.6,45.4 369.0,45.4 367.5,45.4 366.0,45.7 364.4,46.2 362.9,46.9 361.4,47.4 359.9,47.7 358.3,47.8 356.8,47.8 355.3,47.8 353.7,48.1 352.2,48.6 350.7,49.2 349.1,49.8 347.6,50.1 346.1,50.2 344.5,50.2 343.0,50.2 341.5,50.5 339.9,51.0 338.4,51.6 336.9,52.2 335.3,52.5 333.8,52.6 332.3,52.6 330.8,52.6 329.2,52.8 327.7,53.3 326.2,54.0 324.6,54.6 323.1,54.9 321.6,55.0 320.0,55.0 318.5,55.0 317.0,55.2 315.4,55.7 313.9,56.3 312.4,56.9 310.8,57.2 309.3,57.3 307.8,57.3 306.3,57.2 304.7,57.4 303.2,57.8 301.7,58.4 300.1,59.0 298.6,59.4 297.1,59.5 295.5,59.4 294.0,59.4" fill="#f6da2e"/>
<polygon points="294.0,59.2 295.5,59.2 297.1,59.2 298.6,59.1 300.1,58.8 301.7,58.2 303.2,57.6 304.7,57.2 306.3,57.0 307.8,57.0 309.3,57.0 310.8,57.0 312.4,56.6 313.9,56.0 315.4,55.4 317.0,54.9 318.5,54.7 320.0,54.7 321.6,54.7 323.1,54.6 324.6,54.3 326.2,53.7 327.7,53.0 329.2,52.5 330.8,52.3 332.3,52.3 333.8,52.3 335.3,52.2 336.9,51.9 338.4,51.3 339.9,50.7 341.5,50.2 343.0,49.9 344.5,49.9 346.1,49.9 347.6,49.8 349.1,49.5 350.7,48.9 352.2,48.3 353.7,47.8 355.3,47.5 356.8,47.5 358.3,47.5 359.9,47.4 361.4,47.1 362.9,46.6 364.4,45.9 366.0,45.4 367.5,45.1 369.0,45.1 370.6,45.1 372.1,45.0 373.6,44.7 375.2,44.2 376.7,43.5 378.2,43.0 379.8,42.7 381.3,42.7 382.8,42.7 384.4,42.7 385.9,42.3 387.4,41.8 388.9,41.2 390.5,40.6 392.0,40.3 393.5,40.3 395.1,40.3 396.6,40.3 398.1,40.0 399.7,39.4 401.2,38.8 430.0,33.0 430.0,33.8 401.2,39.6 399.7,40.2 398.1,40.8 396.6,41.1 395.1,41.1 393.5,41.1 392.0,41.1 390.5,41.4 388.9,42.0 387.4,42.6 385.9,43.1 384.4,43.5 382.8,43.5 381.3,43.5 379.8,43.5 378.2,43.8 376.7,44.3 375.2,45.0 373.6,45.5 372.1,45.8 370.6,45.9 369.0,45.9 367.5,45.9 366.0,46.2 364.4,46.7 362.9,47.4 361.4,47.9 359.9,48.2 358.3,48.3 356.8,48.3 355.3,48.3 353.7,48.6 352.2,49.1 350.7,49.7 349.1,50.3 347.6,50.6 346.1,50.7 344.5,50.7 343.0,50.7 341.5,51.0 339.9,51.5 338.4,52.1 336.9,52.7 335.3,53.0 333.8,53.1 332.3,53.1 330.8,53.1 329.2,53.3 327.7,53.8 326.2,54.5 324.6,55.1 323.1,55.4 321.6,55.5 320.0,55.5 318.5,55.5 317.0,55.7 315.4,56.2 313.9,56.8 312.4,57.4 310.8,57.7 309.3,57.8 307.8,57.7 306.3,57.7 304.7,57.8 303.2,58.3 301.7,58.8 300.1,59.4 298.6,59.7 297.1,59.8 295.5,59.7 294.0,59.7" fill="#f4d32f"/>
<polygon points="294.0,59.5 295.5,59.5 297.1,59.6 298.6,59.5 300.1,59.2 301.7,58.6 303.2,58.0 304.7,57.6 306.3,57.4 307.8,57.4 309.3,57.5 310.8,57.4 312.4,57.1 313.9,56.5 315.4,55.9 317.0,55.4 318.5,55.2 320.0,55.2 321.6,55.2 323.1,55.1 324.6,54.8 326.2,54.2 327.7,53.5 329.2,53.0 330.8,52.8 332.3,52.8 333.8,52.8 335.3,52.7 336.9,52.4 338.4,51.8 339.9,51.2 341.5,50.7 343.0,50.4 344.5,50.4 346.1,50.4 347.6,50.3 349.1,50.0 350.7,49.4 352.2,48.8 353.7,48.3 355.3,48.0 356.8,48.0 358.3,48.0 359.9,47.9 361.4,47.6 362.9,47.1 364.4,46.4 366.0,45.9 367.5,45.6 369.0,45.6 370.6,45.6 372.1,45.5 373.6,45.2 375.2,44.7 376.7,44.0 378.2,43.5 379.8,43.2 381.3,43.2 382.8,43.2 384.4,43.2 385.9,42.8 387.4,42.3 388.9,41.7 390.5,41.1 392.0,40.8 393.5,40.8 395.1,40.8 396.6,40.8 398.1,40.5 399.7,39.9 401.2,39.3 430.0,33.5 430.0,34.3 401.2,40.1 399.7,40.7 398.1,41.3 396.6,41.6 395.1,41.6 393.5,41.6 392.0,41.6 390.5,41.9 388.9,42.5 387.4,43.1 385.9,43.6 384.4,44.0 382.8,44.0 381.3,44.0 379.8,44.0 378.2,44.3 376.7,44.8 375.2,45.5 373.6,46.0 372.1,46.3 370.6,46.4 369.0,46.4 367.5,46.4 366.0,46.7 364.4,47.2 362.9,47.9 361.4,48.4 359.9,48.7 358.3,48.8 356.8,48.8 355.3,48.8 353.7,49.1 352.2,49.6 350.7,50.2 349.1,50.8 347.6,51.1 346.1,51.2 344.5,51.2 343.0,51.2 341.5,51.5 339.9,52.0 338.4,52.6 336.9,53.2 335.3,53.5 333.8,53.6 332.3,53.6 330.8,53.6 329.2,53.8 327.7,54.3 326.2,55.0 324.6,55.6 323.1,55.9 321.6,56.0 320.0,56.0 318.5,56.0 317.0,56.2 315.4,56.7 313.9,57.3 312.4,57.9 310.8,58.2 309.3,58.2 307.8,58.2 306.3,58.1 304.7,58.3 303.2,58.7 301.7,59.2 300.1,59.8 298.6,60.1 297.1,60.2 295.5,60.1 294.0,60.0" fill="#b7ce3f"/>
<polygon points="294.0,59.8 295.5,59.9 297.1,60.0 298.6,59.9 300.1,59.5 301.7,59.0 303.2,58.4 304.7,58.0 306.3,57.8 307.8,57.9 309.3,58.0 310.8,57.9 312.4,57.6 313.9,57.0 315.4,56.4 317.0,55.9 318.5,55.7 320.0,55.7 321.6,55.7 323.1,55.6 324.6,55.3 326.2,54.7 327.7,54.0 329.2,53.5 330.8,53.3 332.3,53.3 333.8,53.3 335.3,53.2 336.9,52.9 338.4,52.3 339.9,51.7 341.5,51.2 343.0,50.9 344.5,50.9 346.1,50.9 347.6,50.8 349.1,50.5 350.7,49.9 352.2,49.3 353.7,48.8 355.3,48.5 356.8,48.5 358.3,48.5 359.9,48.4 361.4,48.1 362.9,47.6 364.4,46.9 366.0,46.4 367.5,46.1 369.0,46.1 370.6,46.1 372.1,46.0 373.6,45.7 375.2,45.2 376.7,44.5 378.2,44.0 379.8,43.7 381.3,43.7 382.8,43.7 384.4,43.7 385.9,43.3 387.4,42.8 388.9,42.2 390.5,41.6 392.0,41.3 393.5,41.3 395.1,41.3 396.6,41.3 398.1,41.0 399.7,40.4 401.2,39.8 430.0,34.0 430.0,34.8 401.2,40.6 399.7,41.2 398.1,41.8 396.6,42.1 395.1,42.1 393.5,42.1 392.0,42.1 390.5,42.4 388.9,43.0 387.4,43.6 385.9,44.1 384.4,44.5 382.8,44.5 381.3,44.5 379.8,44.5 378.2,44.8 376.7,45.3 375.2,46.0 373.6,46.5 372.1,46.8 370.6,46.9 369.0,46.9 367.5,46.9 366.0,47.2 364.4,47.7 362.9,48.4 361.4,48.9 359.9,49.2 358.3,49.3 356.8,49.3 355.3,49.3 353.7,49.6 352.2,50.1 350.7,50.7 349.1,51.3 347.6,51.6 346.1,51.7 344.5,51.7 343.0,51.7 341.5,52.0 339.9,52.5 338.4,53.1 336.9,53.7 335.3,54.0 333.8,54.1 332.3,54.1 330.8,54.1 329.2,54.3 327.7,54.8 326.2,55.5 324.6,56.1 323.1,56.4 321.6,56.5 320.0,56.5 318.5,56.5 317.0,56.7 315.4,57.2 313.9,57.8 312.4,58.4 310.8,58.7 309.3,58.7 307.8,58.6 306.3,58.5 304.7,58.7 303.2,59.1 301.7,59.6 300.1,60.2 298.6,60.5 297.1,60.5 295.5,60.4 294.0,60.3" fill="#91cc49"/>
<polygon points="294.0,60.1 295.5,60.2 297.1,60.3 298.6,60.2 300.1,59.9 301.7,59.4 303.2,58.8 304.7,58.4 306.3,58.3 307.8,58.3 309.3,58.4 310.8,58.4 312.4,58.1 313.9,57.5 315.4,56.9 317.0,56.4 318.5,56.2 320.0,56.2 321.6,56.2 323.1,56.1 324.6,55.8 326.2,55.2 327.7,54.5 329.2,54.0 330.8,53.8 332.3,53.8 333.8,53.8 335.3,53.7 336.9,53.4 338.4,52.8 339.9,52.2 341.5,51.7 343.0,51.4 344.5,51.4 346.1,51.4 347.6,51.3 349.1,51.0 350.7,50.4 352.2,49.8 353.7,49.3 355.3,49.0 356.8,49.0 358.3,49.0 359.9,48.9 361.4,48.6 362.9,48.1 364.4,47.4 366.0,46.9 367.5,46.6 369.0,46.6 370.6,46.6 372.1,46.5 373.6,46.2 375.2,45.7 376.7,45.0 378.2,44.5 379.8,44.2 381.3,44.2 382.8,44.2 384.4,44.2 385.9,43.8 387.4,43.3 388.9,42.7 390.5,42.1 392.0,41.8 393.5,41.8 395.1,41.8 396.6,41.8 398.1,41.5 399.7,40.9 401.2,40.3 430.0,34.5 430.0,35.3 401.2,41.1 399.7,41.7 398.1,42.3 396.6,42.6 395.1,42.6 393.5,42.6 392.0,42.6 390.5,42.9 388.9,43.5 387.4,44.1 385.9,44.6 384.4,45.0 382.8,45.0 381.3,45.0 379.8,45.0 378.2,45.3 376.7,45.8 375.2,46.5 373.6,47.0 372.1,47.3 370.6,47.4 369.0,47.4 367.5,47.4 366.0,47.7 364.4,48.2 362.9,48.9 361.4,49.4 359.9,49.7 358.3,49.8 356.8,49.8 355.3,49.8 353.7,50.1 352.2,50.6 350.7,51.2 349.1,51.8 347.6,52.1 346.1,52.2 344.5,52.2 343.0,52.2 341.5,52.5 339.9,53.0 338.4,53.6 336.9,54.2 335.3,54.5 333.8,54.6 332.3,54.6 330.8,54.6 329.2,54.8 327.7,55.3 326.2,56.0 324.6,56.6 323.1,56.9 321.6,57.0 320.0,57.0 318.5,57.0 317.0,57.2 315.4,57.7 313.9,58.3 312.4,58.8 310.8,59.1 309.3,59.2 307.8,59.0 306.3,59.0 304.7,59.1 303.2,59.5 301.7,60.0 300.1,60.5 298.6,60.8 297.1,60.9 295.5,60.8 294.0,60.7" fill="#8fcb4b"/>
<polygon points="294.0,60.5 295.5,60.6 297.1,60.7 298.6,60.6 300.1,60.3 301.7,59.8 303.2,59.2 304.7,58.8 306.3,58.7 307.8,58.8 309.3,58.9 310.8,58.8 312.4,58.6 313.9,58.0 315.4,57.4 317.0,56.9 318.5,56.7 320.0,56.7 321.6,56.7 323.1,56.6 324.6,56.3 326.2,55.7 327.7,55.0 329.2,54.5 330.8,54.3 332.3,54.3 333.8,54.3 335.3,54.2 336.9,53.9 338.4,53.3 339.9,52.7 341.5,52.2 343.0,51.9 344.5,51.9 346.1,51.9 347.6,51.8 349.1,51.5 350.7,50.9 352.2,50.3 353.7,49.8 355.3,49.5 356.8,49.5 358.3,49.5 359.9,49.4 361.4,49.1 362.9,48.6 364.4,47.9 366.0,47.4 367.5,47.1 369.0,47.1 370.6,47.1 372.1,47.0 373.6,46.7 375.2,46.2 376.7,45.5 378.2,45.0 379.8,44.7 381.3,44.7 382.8,44.7 384.4,44.7 385.9,44.3 387.4,43.8 388.9,43.2 390.5,42.6 392.0,42.3 393.5,42.3 395.1,42.3 396.6,42.3 398.1,42.0 399.7,41.4 401.2,40.8 430.0,35.0 430.0,35.8 401.2,41.6 399.7,42.2 398.1,42.8 396.6,43.1 395.1,43.1 393.5,43.1 392.0,43.1 390.5,43.4 388.9,44.0 387.4,44.6 385.9,45.1 384.4,45.5 382.8,45.5 381.3,45.5 379.8,45.5 378.2,45.8 376.7,46.3 375.2,47.0 373.6,47.5 372.1,47.8 370.6,47.9 369.0,47.9 367.5,47.9 366.0,48.2 364.4,48.7 362.9,49.4 361.4,49.9 359.9,50.2 358.3,50.3 356.8,50.3 355.3,50.3 353.7,50.6 352.2,51.1 350.7,51.7 349.1,52.3 347.6,52.6 346.1,52.7 344.5,52.7 343.0,52.7 341.5,53.0 339.9,53.5 338.4,54.1 336.9,54.7 335.3,55.0 333.8,55.1 332.3,55.1 330.8,55.1 329.2,55.3 327.7,55.8 326.2,56.5 324.6,57.1 323.1,57.4 321.6,57.5 320.0,57.5 318.5,57.5 317.0,57.7 315.4,58.2 313.9,58.8 312.4,59.3 310.8,59.6 309.3,59.6 307.8,59.5 306.3,59.4 304.7,59.5 303.2,59.9 301.7,60.4 300.1,60.9 298.6,61.2 297.1,61.2 295.5,61.1 294.0,61.0" fill="#8dca4d"/>
<polygon points="294.0,60.8 295.5,60.9 297.1,61.0 298.6,61.0 300.1,60.7 301.7,60.2 303.2,59.6 304.7,59.3 306.3,59.1 307.8,59.2 309.3,59.3 310.8,59.3 312.4,59.0 313.9,58.5 315.4,57.9 317.0,57.4 318.5,57.2 320.0,57.2 321.6,57.2 323.1,57.1 324.6,56.8 326.2,56.2 327.7,55.5 329.2,55.0 330.8,54.8 332.3,54.8 333.8,54.8 335.3,54.7 336.9,54.4 338.4,53.8 339.9,53.2 341.5,52.7 343.0,52.4 344.5,52.4 346.1,52.4 347.6,52.3 349.1,52.0 350.7,51.4 352.2,50.8 353.7,50.3 355.3,50.0 356.8,50.0 358.3,50.0 359.9,49.9 361.4,49.6 362.9,49.1 364.4,48.4 366.0,47.9 367.5,47.6 369.0,47.6 370.6,47.6 372.1,47.5 373.6,47.2 375.2,46.7 376.7,46.0 378.2,45.5 379.8,45.2 381.3,45.2 382.8,45.2 384.4,45.2 385.9,44.8 387.4,44.3 388.9,43.7 390.5,43.1 392.0,42.8 393.5,42.8 395.1,42.8 396.6,42.8 398.1,42.5 399.7,41.9 401.2,41.3 430.0,35.5 430.0,36.3 401.2,42.1 399.7,42.7 398.1,43.3 396.6,43.6 395.1,43.6 393.5,43.6 392.0,43.6 390.5,43.9 388.9,44.5 387.4,45.1 385.9,45.6 384.4,46.0 382.8,46.0 381.3,46.0 379.8,46.0 378.2,46.3 376.7,46.8 375.2,47.5 373.6,48.0 372.1,48.3 370.6,48.4 369.0,48.4 367.5,48.4 366.0,48.7 364.4,49.2 362.9,49.9 361.4,50.4 359.9,50.7 358.3,50.8 356.8,50.8 355.3,50.8 353.7,51.1 352.2,51.6 350.7,52.2 349.1,52.8 347.6,53.1 346.1,53.2 344.5,53.2 343.0,53.2 341.5,53.5 339.9,54.0 338.4,54.6 336.9,55.2 335.3,55.5 333.8,55.6 332.3,55.6 330.8,55.6 329.2,55.8 327.7,56.3 326.2,57.0 324.6,57.6 323.1,57.9 321.6,58.0 320.0,58.0 318.5,58.0 317.0,58.2 315.4,58.7 313.9,59.3 312.4,59.8 310.8,60.1 309.3,60.1 307.8,59.9 306.3,59.8 304.7,59.9 303.2,60.3 301.7,60.8 300.1,61.3 298.6,61.6 297.1,61.6 295.5,61.4 294.0,61.3" fill="#8ac94f"/>
<polygon points="294.0,61.1 295.5,61.2 297.1,61.4 298.6,61.4 300.1,61.1 301.7,60.6 303.2,60.1 304.7,59.7 306.3,59.6 307.8,59.7 309.3,59.8 310.8,59.8 312.4,59.5 313.9,59.0 315.4,58.4 317.0,57.9 318.5,57.7 320.0,57.7 321.6,57.7 323.1,57.6 324.6,57.3 326.2,56.7 327.7,56.0 329.2,55.5 330.8,55.3 332.3,55.3 333.8,55.3 335.3,55.2 336.9,54.9 338.4,54.3 339.9,53.7 341.5,53.2 343.0,52.9 344.5,52.9 346.1,52.9 347.6,52.8 349.1,52.5 350.7,51.9 352.2,51.3 353.7,50.8 355.3,50.5 356.8,50.5 358.3,50.5 359.9,50.4 361.4,50.1 362.9,49.6 364.4,48.9 366.0,48.4 367.5,48.1 369.0,48.1 370.6,48.1 372.1,48.0 373.6,47.7 375.2,47.2 376.7,46.5 378.2,46.0 379.8,45.7 381.3,45.7 382.8,45.7 384.4,45.7 385.9,45.3 387.4,44.8 388.9,44.2 390.5,43.6 392.0,43.3 393.5,43.3 395.1,43.3 396.6,43.3 398.1,43.0 399.7,42.4 401.2,41.8 430.0,36.0 430.0,36.8 401.2,42.6 399.7,43.2 398.1,43.8 396.6,44.1 395.1,44.1 393.5,44.1 392.0,44.1 390.5,44.4 388.9,45.0 387.4,45.6 385.9,46.1 384.4,46.5 382.8,46.5 381.3,46.5 379.8,46.5 378.2,46.8 376.7,47.3 375.2,48.0 373.6,48.5 372.1,48.8 370.6,48.9 369.0,48.9 367.5,48.9 366.0,49.2 364.4,49.7 362.9,50.4 361.4,50.9 359.9,51.2 358.3,51.3 356.8,51.3 355.3,51.3 353.7,51.6 352.2,52.1 350.7,52.7 349.1,53.3 347.6,53.6 346.1,53.7 344.5,53.7 343.0,53.7 341.5,54.0 339.9,54.5 338.4,55.1 336.9,55.7 335.3,56.0 333.8,56.1 332.3,56.1 330.8,56.1 329.2,56.3 327.7,56.8 326.2,57.5 324.6,58.1 323.1,58.4 321.6,58.5 320.0,58.5 318.5,58.5 317.0,58.7 315.4,59.2 313.9,59.8 312.4,60.3 310.8,60.6 309.3,60.5 307.8,60.4 306.3,60.3 304.7,60.4 303.2,60.7 301.7,61.2 300.1,61.7 298.6,61.9 297.1,61.9 295.5,61.8 294.0,61.7" fill="#88c951"/>
<polygon points="294.0,61.5 295.5,61.6 297.1,61.7 298.6,61.7 300.1,61.5 301.7,61.0 303.2,60.5 304.7,60.1 306.3,60.0 307.8,60.1 309.3,60.3 310.8,60.3 312.4,60.0 313.9,59.5 315.4,58.9 317.0,58.4 318.5,58.2 320.0,58.2 321.6,58.2 323.1,58.1 324.6,57.8 326.2,57.2 327.7,56.5 329.2,56.0 330.8,55.8 332.3,55.8 333.8,55.8 335.3,55.7 336.9,55.4 338.4,54.8 339.9,54.2 341.5,53.7 343.0,53.4 344.5,53.4 346.1,53.4 347.6,53.3 349.1,53.0 350.7,52.4 352.2,51.8 353.7,51.3 355.3,51.0 356.8,51.0 358.3,51.0 359.9,50.9 361.4,50.6 362.9,50.1 364.4,49.4 366.0,48.9 367.5,48.6 369.0,48.6 370.6,48.6 372.1,48.5 373.6,48.2 375.2,47.7 376.7,47.0 378.2,46.5 379.8,46.2 381.3,46.2 382.8,46.2 384.4,46.2 385.9,45.8 387.4,45.3 388.9,44.7 390.5,44.1 392.0,43.8 393.5,43.8 395.1,43.8 396.6,43.8 398.1,43.5 399.7,42.9 401.2,42.3 430.0,36.5 430.0,37.3 401.2,43.1 399.7,43.7 398.1,44.3 396.6,44.6 395.1,44.6 393.5,44.6 392.0,44.6 390.5,44.9 388.9,45.5 387.4,46.1 385.9,46.6 384.4,47.0 382.8,47.0 381.3,47.0 379.8,47.0 378.2,47.3 376.7,47.8 375.2,48.5 373.6,49.0 372.1,49.3 370.6,49.4 369.0,49.4 367.5,49.4 366.0,49.7 364.4,50.2 362.9,50.9 361.4,51.4 359.9,51.7 358.3,51.8 356.8,51.8 355.3,51.8 353.7,52.1 352.2,52.6 350.7,53.2 349.1,53.8 347.6,54.1 346.1,54.2 344.5,54.2 343.0,54.2 341.5,54.5 339.9,55.0 338.4,55.6 336.9,56.2 335.3,56.5 333.8,56.6 332.3,56.6 330.8,56.6 329.2,56.8 327.7,57.3 326.2,58.0 324.6,58.6 323.1,58.9 321.6,59.0 320.0,59.0 318.5,59.0 317.0,59.2 315.4,59.7 313.9,60.3 312.4,60.8 310.8,61.0 309.3,61.0 307.8,60.8 306.3,60.7 304.7,60.8 303.2,61.1 301.7,61.6 300.1,62.1 298.6,62.3 297.1,62.3 295.5,62.1 294.0,62.0" fill="#86c853"/>
<polygon points="294.0,61.8 295.5,61.9 297.1,62.1 298.6,62.1 300.1,61.8 301.7,61.4 303.2,60.9 304.7,60.5 306.3,60.4 307.8,60.6 309.3,60.7 310.8,60.7 312.4,60.5 313.9,60.0 315.4,59.4 317.0,58.9 318.5,58.7 320.0,58.7 321.6,58.7 323.1,58.6 324.6,58.3 326.2,57.7 327.7,57.0 329.2,56.5 330.8,56.3 332.3,56.3 333.8,56.3 335.3,56.2 336.9,55.9 338.4,55.3 339.9,54.7 341.5,54.2 343.0,53.9 344.5,53.9 346.1,53.9 347.6,53.8 349.1,53.5 350.7,52.9 352.2,52.3 353.7,51.8 355.3,51.5 356.8,51.5 358.3,51.5 359.9,51.4 361.4,51.1 362.9,50.6 364.4,49.9 366.0,49.4 367.5,49.1 369.0,49.1 370.6,49.1 372.1,49.0 373.6,48.7 375.2,48.2 376.7,47.5 378.2,47.0 379.8,46.7 381.3,46.7 382.8,46.7 384.4,46.7 385.9,46.3 387.4,45.8 388.9,45.2 390.5,44.6 392.0,44.3 393.5,44.3 395.1,44.3 396.6,44.3 398.1,44.0 399.7,43.4 401.2,42.8 430.0,37.0 430.0,37.8 401.2,43.6 399.7,44.2 398.1,44.8 396.6,45.1 395.1,45.1 393.5,45.1 392.0,45.1 390.5,45.4 388.9,46.0 387.4,46.6 385.9,47.1 384.4,47.5 382.8,47.5 381.3,47.5 379.8,47.5 378.2,47.8 376.7,48.3 375.2,49.0 373.6,49.5 372.1,49.8 370.6,49.9 369.0,49.9 367.5,49.9 366.0,50.2 364.4,50.7 362.9,51.4 361.4,51.9 359.9,52.2 358.3,52.3 356.8,52.3 355.3,52.3 353.7,52.6 352.2,53.1 350.7,53.7 349.1,54.3 347.6,54.6 346.1,54.7 344.5,54.7 343.0,54.7 341.5,55.0 339.9,55.5 338.4,56.1 336.9,56.7 335.3,57.0 333.8,57.1 332.3,57.1 330.8,57.1 329.2,57.3 327.7,57.8 326.2,58.5 324.6,59.1 323.1,59.4 321.6,59.5 320.0,59.5 318.5,59.5 317.0,59.7 315.4,60.2 313.9,60.8 312.4,61.3 310.8,61.5 309.3,61.5 307.8,61.3 306.3,61.1 304.7,61.2 303.2,61.5 301.7,62.0 300.1,62.4 298.6,62.7 297.1,62.7 295.5,62.5 294.0,62.3" fill="#83c754"/>
<polygon points="294.0,62.1 295.5,62.3 297.1,62.4 298.6,62.5 300.1,62.2 301.7,61.8 303.2,61.3 304.7,60.9 306.3,60.9 307.8,61.0 309.3,61.2 310.8,61.2 312.4,61.0 313.9,60.5 315.4,59.9 317.0,59.4 318.5,59.2 320.0,59.2 321.6,59.2 323.1,59.1 324.6,58.8 326.2,58.2 327.7,57.5 329.2,57.0 330.8,56.8 332.3,56.8 333.8,56.8 335.3,56.7 336.9,56.4 338.4,55.8 339.9,55.2 341.5,54.7 343.0,54.4 344.5,54.4 346.1,54.4 347.6,54.3 349.1,54.0 350.7,53.4 352.2,52.8 353.7,52.3 355.3,52.0 356.8,52.0 358.3,52.0 359.9,51.9 361.4,51.6 362.9,51.1 364.4,50.4 366.0,49.9 367.5,49.6 369.0,49.6 370.6,49.6 372.1,49.5 373.6,49.2 375.2,48.7 376.7,48.0 378.2,47.5 379.8,47.2 381.3,47.2 382.8,47.2 384.4,47.2 385.9,46.8 387.4,46.3 388.9,45.7 390.5,45.1 392.0,44.8 393.5,44.8 395.1,44.8 396.6,44.8 398.1,44.5 399.7,43.9 401.2,43.3 430.0,37.5 430.0,38.3 401.2,44.1 399.7,44.7 398.1,45.3 396.6,45.6 395.1,45.6 393.5,45.6 392.0,45.6 390.5,45.9 388.9,46.5 387.4,47.1 385.9,47.6 384.4,48.0 382.8,48.0 381.3,48.0 379.8,48.0 378.2,48.3 376.7,48.8 375.2,49.5 373.6,50.0 372.1,50.3 370.6,50.4 369.0,50.4 367.5,50.4 366.0,50.7 364.4,51.2 362.9,51.9 361.4,52.4 359.9,52.7 358.3,52.8 356.8,52.8 355.3,52.8 353.7,53.1 352.2,53.6 350.7,54.2 349.1,54.8 347.6,55.1 346.1,55.2 344.5,55.2 343.0,55.2 341.5,55.5 339.9,56.0 338.4,56.6 336.9,57.2 335.3,57.5 333.8,57.6 332.3,57.6 330.8,57.6 329.2,57.8 327.7,58.3 326.2,59.0 324.6,59.6 323.1,59.9 321.6,60.0 320.0,60.0 318.5,60.0 317.0,60.2 315.4,60.7 313.9,61.3 312.4,61.8 310.8,62.0 309.3,61.9 307.8,61.7 306.3,61.6 304.7,61.6 303.2,61.9 301.7,62.4 300.1,62.8 298.6,63.1 297.1,63.0 295.5,62.8 294.0,62.7" fill="#81c756"/>
<polygon points="294.0,62.5 295.5,62.6 297.1,62.8 298.6,62.8 300.1,62.6 301.7,62.2 303.2,61.7 304.7,61.4 306.3,61.3 307.8,61.5 309.3,61.7 310.8,61.7 312.4,61.5 313.9,61.0 315.4,60.4 317.0,59.9 318.5,59.7 320.0,59.7 321.6,59.7 323.1,59.6 324.6,59.3 326.2,58.7 327.7,58.0 329.2,57.5 330.8,57.3 332.3,57.3 333.8,57.3 335.3,57.2 336.9,56.9 338.4,56.3 339.9,55.7 341.5,55.2 343.0,54.9 344.5,54.9 346.1,54.9 347.6,54.8 349.1,54.5 350.7,53.9 352.2,53.3 353.7,52.8 355.3,52.5 356.8,52.5 358.3,52.5 359.9,52.4 361.4,52.1 362.9,51.6 364.4,50.9 366.0,50.4 367.5,50.1 369.0,50.1 370.6,50.1 372.1,50.0 373.6,49.7 375.2,49.2 376.7,48.5 378.2,48.0 379.8,47.7 381.3,47.7 382.8,47.7 384.4,47.7 385.9,47.3 387.4,46.8 388.9,46.2 390.5,45.6 392.0,45.3 393.5,45.3 395.1,45.3 396.6,45.3 398.1,45.0 399.7,44.4 401.2,43.8 430.0,38.0 430.0,38.8 401.2,44.6 399.7,45.2 398.1,45.8 396.6,46.1 395.1,46.1 393.5,46.1 392.0,46.1 390.5,46.4 388.9,47.0 387.4,47.6 385.9,48.1 384.4,48.5 382.8,48.5 381.3,48.5 379.8,48.5 378.2,48.8 376.7,49.3 375.2,50.0 373.6,50.5 372.1,50.8 370.6,50.9 369.0,50.9 367.5,50.9 366.0,51.2 364.4,51.7 362.9,52.4 361.4,52.9 359.9,53.2 358.3,53.3 356.8,53.3 355.3,53.3 353.7,53.6 352.2,54.1 350.7,54.7 349.1,55.3 347.6,55.6 346.1,55.7 344.5,55.7 343.0,55.7 341.5,56.0 339.9,56.5 338.4,57.1 336.9,57.7 335.3,58.0 333.8,58.1 332.3,58.1 330.8,58.1 329.2,58.3 327.7,58.8 326.2,59.5 324.6,60.1 323.1,60.4 321.6,60.5 320.0,60.5 318.5,60.5 317.0,60.7 315.4,61.2 313.9,61.8 312.4,62.2 310.8,62.4 309.3,62.4 307.8,62.2 306.3,62.0 304.7,62.0 303.2,62.3 301.7,62.8 300.1,63.2 298.6,63.4 297.1,63.4 295.5,63.2 294.0,63.0" fill="#77c562"/>
<polygon points="294.0,62.8 295.5,63.0 297.1,63.2 298.6,63.2 300.1,63.0 301.7,62.6 303.2,62.1 304.7,61.8 306.3,61.7 307.8,61.9 309.3,62.1 310.8,62.2 312.4,62.0 313.9,61.5 315.4,60.9 317.0,60.4 318.5,60.2 320.0,60.2 321.6,60.2 323.1,60.1 324.6,59.8 326.2,59.2 327.7,58.5 329.2,58.0 330.8,57.8 332.3,57.8 333.8,57.8 335.3,57.7 336.9,57.4 338.4,56.8 339.9,56.2 341.5,55.7 343.0,55.4 344.5,55.4 346.1,55.4 347.6,55.3 349.1,55.0 350.7,54.4 352.2,53.8 353.7,53.3 355.3,53.0 356.8,53.0 358.3,53.0 359.9,52.9 361.4,52.6 362.9,52.1 364.4,51.4 366.0,50.9 367.5,50.6 369.0,50.6 370.6,50.6 372.1,50.5 373.6,50.2 375.2,49.7 376.7,49.0 378.2,48.5 379.8,48.2 381.3,48.2 382.8,48.2 384.4,48.2 385.9,47.8 387.4,47.3 388.9,46.7 390.5,46.1 392.0,45.8 393.5,45.8 395.1,45.8 396.6,45.8 398.1,45.5 399.7,44.9 401.2,44.3 430.0,38.5 430.0,39.3 401.2,45.1 399.7,45.7 398.1,46.3 396.6,46.6 395.1,46.6 393.5,46.6 392.0,46.6 390.5,46.9 388.9,47.5 387.4,48.1 385.9,48.6 384.4,49.0 382.8,49.0 381.3,49.0 379.8,49.0 378.2,49.3 376.7,49.8 375.2,50.5 373.6,51.0 372.1,51.3 370.6,51.4 369.0,51.4 367.5,51.4 366.0,51.7 364.4,52.2 362.9,52.9 361.4,53.4 359.9,53.7 358.3,53.8 356.8,53.8 355.3,53.8 353.7,54.1 352.2,54.6 350.7,55.2 349.1,55.8 347.6,56.1 346.1,56.2 344.5,56.2 343.0,56.2 341.5,56.5 339.9,57.0 338.4,57.6 336.9,58.2 335.3,58.5 333.8,58.6 332.3,58.6 330.8,58.6 329.2,58.8 327.7,59.3 326.2,60.0 324.6,60.6 323.1,60.9 321.6,61.0 320.0,61.0 318.5,61.0 317.0,61.2 315.4,61.7 313.9,62.3 312.4,62.7 310.8,62.9 309.3,62.8 307.8,62.6 306.3,62.4 304.7,62.5 303.2,62.7 301.7,63.2 300.1,63.6 298.6,63.8 297.1,63.7 295.5,63.5 294.0,63.3" fill="#27b7cc"/>
<polygon points="294.0,63.1 295.5,63.3 297.1,63.5 298.6,63.6 300.1,63.4 301.7,62.9 303.2,62.5 304.7,62.2 306.3,62.2 307.8,62.4 309.3,62.6 310.8,62.6 312.4,62.4 313.9,62.0 315.4,61.4 317.0,60.9 318.5,60.7 320.0,60.7 321.6,60.7 323.1,60.6 324.6,60.3 326.2,59.7 327.7,59.0 329.2,58.5 330.8,58.3 332.3,58.3 333.8,58.3 335.3,58.2 336.9,57.9 338.4,57.3 339.9,56.7 341.5,56.2 343.0,55.9 344.5,55.9 346.1,55.9 347.6,55.8 349.1,55.5 350.7,54.9 352.2,54.3 353.7,53.8 355.3,53.5 356.8,53.5 358.3,53.5 359.9,53.4 361.4,53.1 362.9,52.6 364.4,51.9 366.0,51.4 367.5,51.1 369.0,51.1 370.6,51.1 372.1,51.0 373.6,50.7 375.2,50.2 376.7,49.5 378.2,49.0 379.8,48.7 381.3,48.7 382.8,48.7 384.4,48.7 385.9,48.3 387.4,47.8 388.9,47.2 390.5,46.6 392.0,46.3 393.5,46.3 395.1,46.3 396.6,46.3 398.1,46.0 399.7,45.4 401.2,44.8 430.0,39.0 430.0,39.8 401.2,45.6 399.7,46.2 398.1,46.8 396.6,47.1 395.1,47.1 393.5,47.1 392.0,47.1 390.5,47.4 388.9,48.0 387.4,48.6 385.9,49.1 384.4,49.5 382.8,49.5 381.3,49.5 379.8,49.5 378.2,49.8 376.7,50.3 375.2,51.0 373.6,51.5 372.1,51.8 370.6,51.9 369.0,51.9 367.5,51.9 366.0,52.2 364.4,52.7 362.9,53.4 361.4,53.9 359.9,54.2 358.3,54.3 356.8,54.3 355.3,54.3 353.7,54.6 352.2,55.1 350.7,55.7 349.1,56.3 347.6,56.6 346.1,56.7 344.5,56.7 343.0,56.7 341.5,57.0 339.9,57.5 338.4,58.1 336.9,58.7 335.3,59.0 333.8,59.1 332.3,59.1 330.8,59.1 329.2,59.3 327.7,59.8 326.2,60.5 324.6,61.1 323.1,61.4 321.6,61.5 320.0,61.5 318.5,61.5 317.0,61.7 315.4,62.2 313.9,62.8 312.4,63.2 310.8,63.4 309.3,63.3 307.8,63.1 306.3,62.9 304.7,62.9 303.2,63.2 301.7,63.6 300.1,64.0 298.6,64.2 297.1,64.1 295.5,63.8 294.0,63.6" fill="#20b4d7"/>
<polygon points="294.0,63.4 295.5,63.6 297.1,63.9 298.6,63.9 300.1,63.7 301.7,63.3 303.2,62.9 304.7,62.6 306.3,62.6 307.8,62.8 309.3,63.0 310.8,63.1 312.4,62.9 313.9,62.5 315.4,61.9 317.0,61.4 318.5,61.2 320.0,61.2 321.6,61.2 323.1,61.1 324.6,60.8 326.2,60.2 327.7,59.5 329.2,59.0 330.8,58.8 332.3,58.8 333.8,58.8 335.3,58.7 336.9,58.4 338.4,57.8 339.9,57.2 341.5,56.7 343.0,56.4 344.5,56.4 346.1,56.4 347.6,56.3 349.1,56.0 350.7,55.4 352.2,54.8 353.7,54.3 355.3,54.0 356.8,54.0 358.3,54.0 359.9,53.9 361.4,53.6 362.9,53.1 364.4,52.4 366.0,51.9 367.5,51.6 369.0,51.6 370.6,51.6 372.1,51.5 373.6,51.2 375.2,50.7 376.7,50.0 378.2,49.5 379.8,49.2 381.3,49.2 382.8,49.2 384.4,49.2 385.9,48.8 387.4,48.3 388.9,47.7 390.5,47.1 392.0,46.8 393.5,46.8 395.1,46.8 396.6,46.8 398.1,46.5 399.7,45.9 401.2,45.3 430.0,39.5 430.0,40.3 401.2,46.1 399.7,46.7 398.1,47.3 396.6,47.6 395.1,47.6 393.5,47.6 392.0,47.6 390.5,47.9 388.9,48.5 387.4,49.1 385.9,49.6 384.4,50.0 382.8,50.0 381.3,50.0 379.8,50.0 378.2,50.3 376.7,50.8 375.2,51.5 373.6,52.0 372.1,52.3 370.6,52.4 369.0,52.4 367.5,52.4 366.0,52.7 364.4,53.2 362.9,53.9 361.4,54.4 359.9,54.7 358.3,54.8 356.8,54.8 355.3,54.8 353.7,55.1 352.2,55.6 350.7,56.2 349.1,56.8 347.6,57.1 346.1,57.2 344.5,57.2 343.0,57.2 341.5,57.5 339.9,58.0 338.4,58.6 336.9,59.2 335.3,59.5 333.8,59.6 332.3,59.6 330.8,59.6 329.2,59.8 327.7,60.3 326.2,61.0 324.6,61.6 323.1,61.9 321.6,62.0 320.0,62.0 318.5,62.0 317.0,62.2 315.4,62.7 313.9,63.3 312.4,63.7 310.8,63.9 309.3,63.8 307.8,63.5 306.3,63.3 304.7,63.3 303.2,63.6 301.7,64.0 300.1,64.4 298.6,64.5 297.1,64.4 295.5,64.2 294.0,64.0" fill="#21b3d7"/>
<polygon points="294.0,63.8 295.5,64.0 297.1,64.2 298.6,64.3 300.1,64.1 301.7,63.7 303.2,63.3 304.7,63.1 306.3,63.0 307.8,63.2 309.3,63.5 310.8,63.6 312.4,63.4 313.9,63.0 315.4,62.4 317.0,61.9 318.5,61.7 320.0,61.7 321.6,61.7 323.1,61.6 324.6,61.3 326.2,60.7 327.7,60.0 329.2,59.5 330.8,59.3 332.3,59.3 333.8,59.3 335.3,59.2 336.9,58.9 338.4,58.3 339.9,57.7 341.5,57.2 343.0,56.9 344.5,56.9 346.1,56.9 347.6,56.8 349.1,56.5 350.7,55.9 352.2,55.3 353.7,54.8 355.3,54.5 356.8,54.5 358.3,54.5 359.9,54.4 361.4,54.1 362.9,53.6 364.4,52.9 366.0,52.4 367.5,52.1 369.0,52.1 370.6,52.1 372.1,52.0 373.6,51.7 375.2,51.2 376.7,50.5 378.2,50.0 379.8,49.7 381.3,49.7 382.8,49.7 384.4,49.7 385.9,49.3 387.4,48.8 388.9,48.2 390.5,47.6 392.0,47.3 393.5,47.3 395.1,47.3 396.6,47.3 398.1,47.0 399.7,46.4 401.2,45.8 430.0,40.0 430.0,40.8 401.2,46.6 399.7,47.2 398.1,47.8 396.6,48.1 395.1,48.1 393.5,48.1 392.0,48.1 390.5,48.4 388.9,49.0 387.4,49.6 385.9,50.1 384.4,50.5 382.8,50.5 381.3,50.5 379.8,50.5 378.2,50.8 376.7,51.3 375.2,52.0 373.6,52.5 372.1,52.8 370.6,52.9 369.0,52.9 367.5,52.9 366.0,53.2 364.4,53.7 362.9,54.4 361.4,54.9 359.9,55.2 358.3,55.3 356.8,55.3 355.3,55.3 353.7,55.6 352.2,56.1 350.7,56.7 349.1,57.3 347.6,57.6 346.1,57.7 344.5,57.7 343.0,57.7 341.5,58.0 339.9,58.5 338.4,59.1 336.9,59.7 335.3,60.0 333.8,60.1 332.3,60.1 330.8,60.1 329.2,60.3 327.7,60.8 326.2,61.5 324.6,62.1 323.1,62.4 321.6,62.5 320.0,62.5 318.5,62.5 317.0,62.7 315.4,63.2 313.9,63.8 312.4,64.2 310.8,64.3 309.3,64.2 307.8,64.0 306.3,63.7 304.7,63.7 303.2,64.0 301.7,64.4 300.1,64.7 298.6,64.9 297.1,64.8 295.5,64.5 294.0,64.3" fill="#21b1d8"/>
<polygon points="294.0,64.1 295.5,64.3 297.1,64.6 298.6,64.7 300.1,64.5 301.7,64.1 303.2,63.7 304.7,63.5 306.3,63.5 307.8,63.7 309.3,64.0 310.8,64.1 312.4,63.9 313.9,63.5 315.4,62.9 317.0,62.4 318.5,62.2 320.0,62.2 321.6,62.2 323.1,62.1 324.6,61.8 326.2,61.2 327.7,60.5 329.2,60.0 330.8,59.8 332.3,59.8 333.8,59.8 335.3,59.7 336.9,59.4 338.4,58.8 339.9,58.2 341.5,57.7 343.0,57.4 344.5,57.4 346.1,57.4 347.6,57.3 349.1,57.0 350.7,56.4 352.2,55.8 353.7,55.3 355.3,55.0 356.8,55.0 358.3,55.0 359.9,54.9 361.4,54.6 362.9,54.1 364.4,53.4 366.0,52.9 367.5,52.6 369.0,52.6 370.6,52.6 372.1,52.5 373.6,52.2 375.2,51.7 376.7,51.0 378.2,50.5 379.8,50.2 381.3,50.2 382.8,50.2 384.4,50.2 385.9,49.8 387.4,49.3 388.9,48.7 390.5,48.1 392.0,47.8 393.5,47.8 395.1,47.8 396.6,47.8 398.1,47.5 399.7,46.9 401.2,46.3 430.0,40.5 430.0,41.3 401.2,47.1 399.7,47.7 398.1,48.3 396.6,48.6 395.1,48.6 393.5,48.6 392.0,48.6 390.5,48.9 388.9,49.5 387.4,50.1 385.9,50.6 384.4,51.0 382.8,51.0 381.3,51.0 379.8,51.0 378.2,51.3 376.7,51.8 375.2,52.5 373.6,53.0 372.1,53.3 370.6,53.4 369.0,53.4 367.5,53.4 366.0,53.7 364.4,54.2 362.9,54.9 361.4,55.4 359.9,55.7 358.3,55.8 356.8,55.8 355.3,55.8 353.7,56.1 352.2,56.6 350.7,57.2 349.1,57.8 347.6,58.1 346.1,58.2 344.5,58.2 343.0,58.2 341.5,58.5 339.9,59.0 338.4,59.6 336.9,60.2 335.3,60.5 333.8,60.6 332.3,60.6 330.8,60.6 329.2,60.8 327.7,61.3 326.2,62.0 324.6,62.6 323.1,62.9 321.6,63.0 320.0,63.0 318.5,63.0 317.0,63.2 315.4,63.7 313.9,64.3 312.4,64.7 310.8,64.8 309.3,64.7 307.8,64.4 306.3,64.2 304.7,64.1 303.2,64.4 301.7,64.8 300.1,65.1 298.6,65.3 297.1,65.2 295.5,64.9 294.0,64.6" fill="#22afd9"/>
<polygon points="294.0,64.4 295.5,64.7 297.1,64.9 298.6,65.0 300.1,64.9 301.7,64.5 303.2,64.1 304.7,63.9 306.3,63.9 307.8,64.1 309.3,64.4 310.8,64.5 312.4,64.4 313.9,64.0 315.4,63.4 317.0,62.9 318.5,62.7 320.0,62.7 321.6,62.7 323.1,62.6 324.6,62.3 326.2,61.7 327.7,61.0 329.2,60.5 330.8,60.3 332.3,60.3 333.8,60.3 335.3,60.2 336.9,59.9 338.4,59.3 339.9,58.7 341.5,58.2 343.0,57.9 344.5,57.9 346.1,57.9 347.6,57.8 349.1,57.5 350.7,56.9 352.2,56.3 353.7,55.8 355.3,55.5 356.8,55.5 358.3,55.5 359.9,55.4 361.4,55.1 362.9,54.6 364.4,53.9 366.0,53.4 367.5,53.1 369.0,53.1 370.6,53.1 372.1,53.0 373.6,52.7 375.2,52.2 376.7,51.5 378.2,51.0 379.8,50.7 381.3,50.7 382.8,50.7 384.4,50.7 385.9,50.3 387.4,49.8 388.9,49.2 390.5,48.6 392.0,48.3 393.5,48.3 395.1,48.3 396.6,48.3 398.1,48.0 399.7,47.4 401.2,46.8 430.0,41.0 430.0,41.8 401.2,47.6 399.7,48.2 398.1,48.8 396.6,49.1 395.1,49.1 393.5,49.1 392.0,49.1 390.5,49.4 388.9,50.0 387.4,50.6 385.9,51.1 384.4,51.5 382.8,51.5 381.3,51.5 379.8,51.5 378.2,51.8 376.7,52.3 375.2,53.0 373.6,53.5 372.1,53.8 370.6,53.9 369.0,53.9 367.5,53.9 366.0,54.2 364.4,54.7 362.9,55.4 361.4,55.9 359.9,56.2 358.3,56.3 356.8,56.3 355.3,56.3 353.7,56.6 352.2,57.1 350.7,57.7 349.1,58.3 347.6,58.6 346.1,58.7 344.5,58.7 343.0,58.7 341.5,59.0 339.9,59.5 338.4,60.1 336.9,60.7 335.3,61.0 333.8,61.1 332.3,61.1 330.8,61.1 329.2,61.3 327.7,61.8 326.2,62.5 324.6,63.1 323.1,63.4 321.6,63.5 320.0,63.5 318.5,63.5 317.0,63.7 315.4,64.2 313.9,64.8 312.4,65.2 310.8,65.3 309.3,65.1 307.8,64.9 306.3,64.6 304.7,64.6 303.2,64.8 301.7,65.2 300.1,65.5 298.6,65.6 297.1,65.5 295.5,65.2 294.0,65.0" fill="#23add9"/>
<polygon points="294.0,64.8 295.5,65.0 297.1,65.3 298.6,65.4 300.1,65.3 301.7,64.9 303.2,64.5 304.7,64.3 306.3,64.3 307.8,64.6 309.3,64.9 310.8,65.0 312.4,64.9 313.9,64.5 315.4,63.9 317.0,63.4 318.5,63.2 320.0,63.2 321.6,63.2 323.1,63.1 324.6,62.8 326.2,62.2 327.7,61.5 329.2,61.0 330.8,60.8 332.3,60.8 333.8,60.8 335.3,60.7 336.9,60.4 338.4,59.8 339.9,59.2 341.5,58.7 343.0,58.4 344.5,58.4 346.1,58.4 347.6,58.3 349.1,58.0 350.7,57.4 352.2,56.8 353.7,56.3 355.3,56.0 356.8,56.0 358.3,56.0 359.9,55.9 361.4,55.6 362.9,55.1 364.4,54.4 366.0,53.9 367.5,53.6 369.0,53.6 370.6,53.6 372.1,53.5 373.6,53.2 375.2,52.7 376.7,52.0 378.2,51.5 379.8,51.2 381.3,51.2 382.8,51.2 384.4,51.2 385.9,50.8 387.4,50.3 388.9,49.7 390.5,49.1 392.0,48.8 393.5,48.8 395.1,48.8 396.6,48.8 398.1,48.5 399.7,47.9 401.2,47.3 430.0,41.5 430.0,42.3 401.2,48.1 399.7,48.7 398.1,49.3 396.6,49.6 395.1,49.6 393.5,49.6 392.0,49.6 390.5,49.9 388.9,50.5 387.4,51.1 385.9,51.6 384.4,52.0 382.8,52.0 381.3,52.0 379.8,52.0 378.2,52.3 376.7,52.8 375.2,53.5 373.6,54.0 372.1,54.3 370.6,54.4 369.0,54.4 367.5,54.4 366.0,54.7 364.4,55.2 362.9,55.9 361.4,56.4 359.9,56.7 358.3,56.8 356.8,56.8 355.3,56.8 353.7,57.1 352.2,57.6 350.7,58.2 349.1,58.8 347.6,59.1 346.1,59.2 344.5,59.2 343.0,59.2 341.5,59.5 339.9,60.0 338.4,60.6 336.9,61.2 335.3,61.5 333.8,61.6 332.3,61.6 330.8,61.6 329.2,61.8 327.7,62.3 326.2,63.0 324.6,63.6 323.1,63.9 321.6,64.0 320.0,64.0 318.5,64.0 317.0,64.2 315.4,64.7 313.9,65.3 312.4,65.6 310.8,65.8 309.3,65.6 307.8,65.3 306.3,65.0 304.7,65.0 303.2,65.2 301.7,65.6 300.1,65.9 298.6,66.0 297.1,65.9 295.5,65.6 294.0,65.3" fill="#24abda"/>
<polygon points="294.0,65.1 295.5,65.4 297.1,65.7 298.6,65.8 300.1,65.7 301.7,65.3 303.2,64.9 304.7,64.7 306.3,64.8 307.8,65.0 309.3,65.3 310.8,65.5 312.4,65.4 313.9,65.0 315.4,64.4 317.0,63.9 318.5,63.7 320.0,63.7 321.6,63.7 323.1,63.6 324.6,63.3 326.2,62.7 327.7,62.0 329.2,61.5 330.8,61.3 332.3,61.3 333.8,61.3 335.3,61.2 336.9,60.9 338.4,60.3 339.9,59.7 341.5,59.2 343.0,58.9 344.5,58.9 346.1,58.9 347.6,58.8 349.1,58.5 350.7,57.9 352.2,57.3 353.7,56.8 355.3,56.5 356.8,56.5 358.3,56.5 359.9,56.4 361.4,56.1 362.9,55.6 364.4,54.9 366.0,54.4 367.5,54.1 369.0,54.1 370.6,54.1 372.1,54.0 373.6,53.7 375.2,53.2 376.7,52.5 378.2,52.0 379.8,51.7 381.3,51.7 382.8,51.7 384.4,51.7 385.9,51.3 387.4,50.8 388.9,50.2 390.5,49.6 392.0,49.3 393.5,49.3 395.1,49.3 396.6,49.3 398.1,49.0 399.7,48.4 401.2,47.8 430.0,42.0 430.0,42.8 401.2,48.6 399.7,49.2 398.1,49.8 396.6,50.1 395.1,50.1 393.5,50.1 392.0,50.1 390.5,50.4 388.9,51.0 387.4,51.6 385.9,52.1 384.4,52.5 382.8,52.5 381.3,52.5 379.8,52.5 378.2,52.8 376.7,53.3 375.2,54.0 373.6,54.5 372.1,54.8 370.6,54.9 369.0,54.9 367.5,54.9 366.0,55.2 364.4,55.7 362.9,56.4 361.4,56.9 359.9,57.2 358.3,57.3 356.8,57.3 355.3,57.3 353.7,57.6 352.2,58.1 350.7,58.7 349.1,59.3 347.6,59.6 346.1,59.7 344.5,59.7 343.0,59.7 341.5,60.0 339.9,60.5 338.4,61.1 336.9,61.7 335.3,62.0 333.8,62.1 332.3,62.1 330.8,62.1 329.2,62.3 327.7,62.8 326.2,63.5 324.6,64.1 323.1,64.4 321.6,64.5 320.0,64.5 318.5,64.5 317.0,64.7 315.4,65.2 313.9,65.8 312.4,66.1 310.8,66.2 309.3,66.1 307.8,65.8 306.3,65.5 304.7,65.4 303.2,65.6 301.7,66.0 300.1,66.3 298.6,66.4 297.1,66.2 295.5,65.9 294.0,65.6" fill="#24a9db"/>
<polygon points="294.0,65.4 295.5,65.7 297.1,66.0 298.6,66.2 300.1,66.0 301.7,65.7 303.2,65.4 304.7,65.2 306.3,65.2 307.8,65.5 309.3,65.8 310.8,65.9 312.4,65.8 313.9,65.5 315.4,64.9 317.0,64.4 318.5,64.2 320.0,64.2 321.6,64.2 323.1,64.1 324.6,63.8 326.2,63.2 327.7,62.5 329.2,62.0 330.8,61.8 332.3,61.8 333.8,61.8 335.3,61.7 336.9,61.4 338.4,60.8 339.9,60.2 341.5,59.7 343.0,59.4 344.5,59.4 346.1,59.4 347.6,59.3 349.1,59.0 350.7,58.4 352.2,57.8 353.7,57.3 355.3,57.0 356.8,57.0 358.3,57.0 359.9,56.9 361.4,56.6 362.9,56.1 364.4,55.4 366.0,54.9 367.5,54.6 369.0,54.6 370.6,54.6 372.1,54.5 373.6,54.2 375.2,53.7 376.7,53.0 378.2,52.5 379.8,52.2 381.3,52.2 382.8,52.2 384.4,52.2 385.9,51.8 387.4,51.3 388.9,50.7 390.5,50.1 392.0,49.8 393.5,49.8 395.1,49.8 396.6,49.8 398.1,49.5 399.7,48.9 401.2,48.3 430.0,42.5 430.0,43.3 401.2,49.1 399.7,49.7 398.1,50.3 396.6,50.6 395.1,50.6 393.5,50.6 392.0,50.6 390.5,50.9 388.9,51.5 387.4,52.1 385.9,52.6 384.4,53.0 382.8,53.0 381.3,53.0 379.8,53.0 378.2,53.3 376.7,53.8 375.2,54.5 373.6,55.0 372.1,55.3 370.6,55.4 369.0,55.4 367.5,55.4 366.0,55.7 364.4,56.2 362.9,56.9 361.4,57.4 359.9,57.7 358.3,57.8 356.8,57.8 355.3,57.8 353.7,58.1 352.2,58.6 350.7,59.2 349.1,59.8 347.6,60.1 346.1,60.2 344.5,60.2 343.0,60.2 341.5,60.5 339.9,61.0 338.4,61.6 336.9,62.2 335.3,62.5 333.8,62.6 332.3,62.6 330.8,62.6 329.2,62.8 327.7,63.3 326.2,64.0 324.6,64.6 323.1,64.9 321.6,65.0 320.0,65.0 318.5,65.0 317.0,65.2 315.4,65.7 313.9,66.3 312.4,66.6 310.8,66.7 309.3,66.5 307.8,66.2 306.3,65.9 304.7,65.8 303.2,66.0 301.7,66.3 300.1,66.6 298.6,66.7 297.1,66.6 295.5,66.3 294.0,66.0" fill="#25a8db"/>
<polygon points="294.0,65.8 295.5,66.0 297.1,66.4 298.6,66.5 300.1,66.4 301.7,66.1 303.2,65.8 304.7,65.6 306.3,65.7 307.8,65.9 309.3,66.3 310.8,66.4 312.4,66.3 313.9,66.0 315.4,65.4 317.0,64.9 318.5,64.7 320.0,64.7 321.6,64.7 323.1,64.6 324.6,64.3 326.2,63.7 327.7,63.0 329.2,62.5 330.8,62.3 332.3,62.3 333.8,62.3 335.3,62.2 336.9,61.9 338.4,61.3 339.9,60.7 341.5,60.2 343.0,59.9 344.5,59.9 346.1,59.9 347.6,59.8 349.1,59.5 350.7,58.9 352.2,58.3 353.7,57.8 355.3,57.5 356.8,57.5 358.3,57.5 359.9,57.4 361.4,57.1 362.9,56.6 364.4,55.9 366.0,55.4 367.5,55.1 369.0,55.1 370.6,55.1 372.1,55.0 373.6,54.7 375.2,54.2 376.7,53.5 378.2,53.0 379.8,52.7 381.3,52.7 382.8,52.7 384.4,52.7 385.9,52.3 387.4,51.8 388.9,51.2 390.5,50.6 392.0,50.3 393.5,50.3 395.1,50.3 396.6,50.3 398.1,50.0 399.7,49.4 401.2,48.8 430.0,43.0 430.0,43.8 401.2,49.6 399.7,50.2 398.1,50.8 396.6,51.1 395.1,51.1 393.5,51.1 392.0,51.1 390.5,51.4 388.9,52.0 387.4,52.6 385.9,53.1 384.4,53.5 382.8,53.5 381.3,53.5 379.8,53.5 378.2,53.8 376.7,54.3 375.2,55.0 373.6,55.5 372.1,55.8 370.6,55.9 369.0,55.9 367.5,55.9 366.0,56.2 364.4,56.7 362.9,57.4 361.4,57.9 359.9,58.2 358.3,58.3 356.8,58.3 355.3,58.3 353.7,58.6 352.2,59.1 350.7,59.7 349.1,60.3 347.6,60.6 346.1,60.7 344.5,60.7 343.0,60.7 341.5,61.0 339.9,61.5 338.4,62.1 336.9,62.7 335.3,63.0 333.8,63.1 332.3,63.1 330.8,63.1 329.2,63.3 327.7,63.8 326.2,64.5 324.6,65.1 323.1,65.4 321.6,65.5 320.0,65.5 318.5,65.5 317.0,65.7 315.4,66.2 313.9,66.8 312.4,67.1 310.8,67.2 309.3,67.0 307.8,66.6 306.3,66.3 304.7,66.3 303.2,66.4 301.7,66.7 300.1,67.0 298.6,67.1 297.1,66.9 295.5,66.6 294.0,66.3" fill="#28a3dc"/>
<polygon points="294.0,66.1 295.5,66.4 297.1,66.7 298.6,66.9 300.1,66.8 301.7,66.5 303.2,66.2 304.7,66.0 306.3,66.1 307.8,66.4 309.3,66.7 310.8,66.9 312.4,66.8 313.9,66.5 315.4,65.9 317.0,65.4 318.5,65.2 320.0,65.2 321.6,65.2 323.1,65.1 324.6,64.8 326.2,64.2 327.7,63.5 329.2,63.0 330.8,62.8 332.3,62.8 333.8,62.8 335.3,62.7 336.9,62.4 338.4,61.8 339.9,61.2 341.5,60.7 343.0,60.4 344.5,60.4 346.1,60.4 347.6,60.3 349.1,60.0 350.7,59.4 352.2,58.8 353.7,58.3 355.3,58.0 356.8,58.0 358.3,58.0 359.9,57.9 361.4,57.6 362.9,57.1 364.4,56.4 366.0,55.9 367.5,55.6 369.0,55.6 370.6,55.6 372.1,55.5 373.6,55.2 375.2,54.7 376.7,54.0 378.2,53.5 379.8,53.2 381.3,53.2 382.8,53.2 384.4,53.2 385.9,52.8 387.4,52.3 388.9,51.7 390.5,51.1 392.0,50.8 393.5,50.8 395.1,50.8 396.6,50.8 398.1,50.5 399.7,49.9 401.2,49.3 430.0,43.5 430.0,44.3 401.2,50.1 399.7,50.7 398.1,51.3 396.6,51.6 395.1,51.6 393.5,51.6 392.0,51.6 390.5,51.9 388.9,52.5 387.4,53.1 385.9,53.6 384.4,54.0 382.8,54.0 381.3,54.0 379.8,54.0 378.2,54.3 376.7,54.8 375.2,55.5 373.6,56.0 372.1,56.3 370.6,56.4 369.0,56.4 367.5,56.4 366.0,56.7 364.4,57.2 362.9,57.9 361.4,58.4 359.9,58.7 358.3,58.8 356.8,58.8 355.3,58.8 353.7,59.1 352.2,59.6 350.7,60.2 349.1,60.8 347.6,61.1 346.1,61.2 344.5,61.2 343.0,61.2 341.5,61.5 339.9,62.0 338.4,62.6 336.9,63.2 335.3,63.5 333.8,63.6 332.3,63.6 330.8,63.6 329.2,63.8 327.7,64.3 326.2,65.0 324.6,65.6 323.1,65.9 321.6,66.0 320.0,66.0 318.5,66.0 317.0,66.2 315.4,66.7 313.9,67.3 312.4,67.6 310.8,67.7 309.3,67.4 307.8,67.1 306.3,66.8 304.7,66.7 303.2,66.8 301.7,67.1 300.1,67.4 298.6,67.5 297.1,67.3 295.5,66.9 294.0,66.6" fill="#3887da"/>
<polygon points="294.0,66.4 295.5,66.7 297.1,67.1 298.6,67.3 300.1,67.2 301.7,66.9 303.2,66.6 304.7,66.4 306.3,66.5 307.8,66.8 309.3,67.2 310.8,67.4 312.4,67.3 313.9,67.0 315.4,66.4 317.0,65.9 318.5,65.7 320.0,65.7 321.6,65.7 323.1,65.6 324.6,65.3 326.2,64.7 327.7,64.0 329.2,63.5 330.8,63.3 332.3,63.3 333.8,63.3 335.3,63.2 336.9,62.9 338.4,62.3 339.9,61.7 341.5,61.2 343.0,60.9 344.5,60.9 346.1,60.9 347.6,60.8 349.1,60.5 350.7,59.9 352.2,59.3 353.7,58.8 355.3,58.5 356.8,58.5 358.3,58.5 359.9,58.4 361.4,58.1 362.9,57.6 364.4,56.9 366.0,56.4 367.5,56.1 369.0,56.1 370.6,56.1 372.1,56.0 373.6,55.7 375.2,55.2 376.7,54.5 378.2,54.0 379.8,53.7 381.3,53.7 382.8,53.7 384.4,53.7 385.9,53.3 387.4,52.8 388.9,52.2 390.5,51.6 392.0,51.3 393.5,51.3 395.1,51.3 396.6,51.3 398.1,51.0 399.7,50.4 401.2,49.8 430.0,44.0 430.0,44.8 401.2,50.6 399.7,51.2 398.1,51.8 396.6,52.1 395.1,52.1 393.5,52.1 392.0,52.1 390.5,52.4 388.9,53.0 387.4,53.6 385.9,54.1 384.4,54.5 382.8,54.5 381.3,54.5 379.8,54.5 378.2,54.8 376.7,55.3 375.2,56.0 373.6,56.5 372.1,56.8 370.6,56.9 369.0,56.9 367.5,56.9 366.0,57.2 364.4,57.7 362.9,58.4 361.4,58.9 359.9,59.2 358.3,59.3 356.8,59.3 355.3,59.3 353.7,59.6 352.2,60.1 350.7,60.7 349.1,61.3 347.6,61.6 346.1,61.7 344.5,61.7 343.0,61.7 341.5,62.0 339.9,62.5 338.4,63.1 336.9,63.7 335.3,64.0 333.8,64.1 332.3,64.1 330.8,64.1 329.2,64.3 327.7,64.8 326.2,65.5 324.6,66.1 323.1,66.4 321.6,66.5 320.0,66.5 318.5,66.5 317.0,66.7 315.4,67.2 313.9,67.8 312.4,68.1 310.8,68.1 309.3,67.9 307.8,67.5 306.3,67.2 304.7,67.1 303.2,67.2 301.7,67.5 300.1,67.8 298.6,67.8 297.1,67.6 295.5,67.3 294.0,66.9" fill="#3b82d9"/>
<polygon points="294.0,66.7 295.5,67.1 297.1,67.4 298.6,67.6 300.1,67.6 301.7,67.3 303.2,67.0 304.7,66.8 306.3,67.0 307.8,67.3 309.3,67.6 310.8,67.8 312.4,67.8 313.9,67.5 315.4,66.9 317.0,66.4 318.5,66.2 320.0,66.2 321.6,66.2 323.1,66.1 324.6,65.8 326.2,65.2 327.7,64.5 329.2,64.0 330.8,63.8 332.3,63.8 333.8,63.8 335.3,63.7 336.9,63.4 338.4,62.8 339.9,62.2 341.5,61.7 343.0,61.4 344.5,61.4 346.1,61.4 347.6,61.3 349.1,61.0 350.7,60.4 352.2,59.8 353.7,59.3 355.3,59.0 356.8,59.0 358.3,59.0 359.9,58.9 361.4,58.6 362.9,58.1 364.4,57.4 366.0,56.9 367.5,56.6 369.0,56.6 370.6,56.6 372.1,56.5 373.6,56.2 375.2,55.7 376.7,55.0 378.2,54.5 379.8,54.2 381.3,54.2 382.8,54.2 384.4,54.2 385.9,53.8 387.4,53.3 388.9,52.7 390.5,52.1 392.0,51.8 393.5,51.8 395.1,51.8 396.6,51.8 398.1,51.5 399.7,50.9 401.2,50.3 430.0,44.5 430.0,45.3 401.2,51.1 399.7,51.7 398.1,52.3 396.6,52.6 395.1,52.6 393.5,52.6 392.0,52.6 390.5,52.9 388.9,53.5 387.4,54.1 385.9,54.6 384.4,55.0 382.8,55.0 381.3,55.0 379.8,55.0 378.2,55.3 376.7,55.8 375.2,56.5 373.6,57.0 372.1,57.3 370.6,57.4 369.0,57.4 367.5,57.4 366.0,57.7 364.4,58.2 362.9,58.9 361.4,59.4 359.9,59.7 358.3,59.8 356.8,59.8 355.3,59.8 353.7,60.1 352.2,60.6 350.7,61.2 349.1,61.8 347.6,62.1 346.1,62.2 344.5,62.2 343.0,62.2 341.5,62.5 339.9,63.0 338.4,63.6 336.9,64.2 335.3,64.5 333.8,64.6 332.3,64.6 330.8,64.6 329.2,64.8 327.7,65.3 326.2,66.0 324.6,66.6 323.1,66.9 321.6,67.0 320.0,67.0 318.5,67.0 317.0,67.2 315.4,67.7 313.9,68.3 312.4,68.6 310.8,68.6 309.3,68.4 307.8,68.0 306.3,67.6 304.7,67.5 303.2,67.6 301.7,67.9 300.1,68.2 298.6,68.2 297.1,68.0 295.5,67.6 294.0,67.3" fill="#3c7fd7"/>
<polygon points="294.0,67.1 295.5,67.4 297.1,67.8 298.6,68.0 300.1,67.9 301.7,67.7 303.2,67.4 304.7,67.3 306.3,67.4 307.8,67.7 309.3,68.1 310.8,68.3 312.4,68.3 313.9,68.0 315.4,67.4 317.0,66.9 318.5,66.7 320.0,66.7 321.6,66.7 323.1,66.6 324.6,66.3 326.2,65.7 327.7,65.0 329.2,64.5 330.8,64.3 332.3,64.3 333.8,64.3 335.3,64.2 336.9,63.9 338.4,63.3 339.9,62.7 341.5,62.2 343.0,61.9 344.5,61.9 346.1,61.9 347.6,61.8 349.1,61.5 350.7,60.9 352.2,60.3 353.7,59.8 355.3,59.5 356.8,59.5 358.3,59.5 359.9,59.4 361.4,59.1 362.9,58.6 364.4,57.9 366.0,57.4 367.5,57.1 369.0,57.1 370.6,57.1 372.1,57.0 373.6,56.7 375.2,56.2 376.7,55.5 378.2,55.0 379.8,54.7 381.3,54.7 382.8,54.7 384.4,54.7 385.9,54.3 387.4,53.8 388.9,53.2 390.5,52.6 392.0,52.3 393.5,52.3 395.1,52.3 396.6,52.3 398.1,52.0 399.7,51.4 401.2,50.8 430.0,45.0 430.0,45.8 401.2,51.6 399.7,52.2 398.1,52.8 396.6,53.1 395.1,53.1 393.5,53.1 392.0,53.1 390.5,53.4 388.9,54.0 387.4,54.6 385.9,55.1 384.4,55.5 382.8,55.5 381.3,55.5 379.8,55.5 378.2,55.8 376.7,56.3 375.2,57.0 373.6,57.5 372.1,57.8 370.6,57.9 369.0,57.9 367.5,57.9 366.0,58.2 364.4,58.7 362.9,59.4 361.4,59.9 359.9,60.2 358.3,60.3 356.8,60.3 355.3,60.3 353.7,60.6 352.2,61.1 350.7,61.7 349.1,62.3 347.6,62.6 346.1,62.7 344.5,62.7 343.0,62.7 341.5,63.0 339.9,63.5 338.4,64.1 336.9,64.7 335.3,65.0 333.8,65.1 332.3,65.1 330.8,65.1 329.2,65.3 327.7,65.8 326.2,66.5 324.6,67.1 323.1,67.4 321.6,67.5 320.0,67.5 318.5,67.5 317.0,67.7 315.4,68.2 313.9,68.8 312.4,69.1 310.8,69.1 309.3,68.8 307.8,68.4 306.3,68.1 304.7,67.9 303.2,68.1 301.7,68.3 300.1,68.6 298.6,68.6 297.1,68.4 295.5,68.0 294.0,67.6" fill="#3d7dd6"/>
<polygon points="294.0,67.4 295.5,67.8 297.1,68.1 298.6,68.4 300.1,68.3 301.7,68.1 303.2,67.8 304.7,67.7 306.3,67.8 307.8,68.2 309.3,68.6 310.8,68.8 312.4,68.8 313.9,68.5 315.4,67.9 317.0,67.4 318.5,67.2 320.0,67.2 321.6,67.2 323.1,67.1 324.6,66.8 326.2,66.2 327.7,65.5 329.2,65.0 330.8,64.8 332.3,64.8 333.8,64.8 335.3,64.7 336.9,64.4 338.4,63.8 339.9,63.2 341.5,62.7 343.0,62.4 344.5,62.4 346.1,62.4 347.6,62.3 349.1,62.0 350.7,61.4 352.2,60.8 353.7,60.3 355.3,60.0 356.8,60.0 358.3,60.0 359.9,59.9 361.4,59.6 362.9,59.1 364.4,58.4 366.0,57.9 367.5,57.6 369.0,57.6 370.6,57.6 372.1,57.5 373.6,57.2 375.2,56.7 376.7,56.0 378.2,55.5 379.8,55.2 381.3,55.2 382.8,55.2 384.4,55.2 385.9,54.8 387.4,54.3 388.9,53.7 390.5,53.1 392.0,52.8 393.5,52.8 395.1,52.8 396.6,52.8 398.1,52.5 399.7,51.9 401.2,51.3 430.0,45.5 430.0,46.3 401.2,52.1 399.7,52.7 398.1,53.3 396.6,53.6 395.1,53.6 393.5,53.6 392.0,53.6 390.5,53.9 388.9,54.5 387.4,55.1 385.9,55.6 384.4,56.0 382.8,56.0 381.3,56.0 379.8,56.0 378.2,56.3 376.7,56.8 375.2,57.5 373.6,58.0 372.1,58.3 370.6,58.4 369.0,58.4 367.5,58.4 366.0,58.7 364.4,59.2 362.9,59.9 361.4,60.4 359.9,60.7 358.3,60.8 356.8,60.8 355.3,60.8 353.7,61.1 352.2,61.6 350.7,62.2 349.1,62.8 347.6,63.1 346.1,63.2 344.5,63.2 343.0,63.2 341.5,63.5 339.9,64.0 338.4,64.6 336.9,65.2 335.3,65.5 333.8,65.6 332.3,65.6 330.8,65.6 329.2,65.8 327.7,66.3 326.2,67.0 324.6,67.6 323.1,67.9 321.6,68.0 320.0,68.0 318.5,68.0 317.0,68.2 315.4,68.7 313.9,69.3 312.4,69.5 310.8,69.5 309.3,69.3 307.8,68.9 306.3,68.5 304.7,68.4 303.2,68.5 301.7,68.7 300.1,68.9 298.6,69.0 297.1,68.7 295.5,68.3 294.0,67.9" fill="#3e7bd5"/>
<polygon points="294.0,67.7 295.5,68.1 297.1,68.5 298.6,68.7 300.1,68.7 301.7,68.5 303.2,68.2 304.7,68.1 306.3,68.3 307.8,68.6 309.3,69.0 310.8,69.3 312.4,69.2 313.9,69.0 315.4,68.4 317.0,67.9 318.5,67.7 320.0,67.7 321.6,67.7 323.1,67.6 324.6,67.3 326.2,66.7 327.7,66.0 329.2,65.5 330.8,65.3 332.3,65.3 333.8,65.3 335.3,65.2 336.9,64.9 338.4,64.3 339.9,63.7 341.5,63.2 343.0,62.9 344.5,62.9 346.1,62.9 347.6,62.8 349.1,62.5 350.7,61.9 352.2,61.3 353.7,60.8 355.3,60.5 356.8,60.5 358.3,60.5 359.9,60.4 361.4,60.1 362.9,59.6 364.4,58.9 366.0,58.4 367.5,58.1 369.0,58.1 370.6,58.1 372.1,58.0 373.6,57.7 375.2,57.2 376.7,56.5 378.2,56.0 379.8,55.7 381.3,55.7 382.8,55.7 384.4,55.7 385.9,55.3 387.4,54.8 388.9,54.2 390.5,53.6 392.0,53.3 393.5,53.3 395.1,53.3 396.6,53.3 398.1,53.0 399.7,52.4 401.2,51.8 430.0,46.0 430.0,46.8 401.2,52.6 399.7,53.2 398.1,53.8 396.6,54.1 395.1,54.1 393.5,54.1 392.0,54.1 390.5,54.4 388.9,55.0 387.4,55.6 385.9,56.1 384.4,56.5 382.8,56.5 381.3,56.5 379.8,56.5 378.2,56.8 376.7,57.3 375.2,58.0 373.6,58.5 372.1,58.8 370.6,58.9 369.0,58.9 367.5,58.9 366.0,59.2 364.4,59.7 362.9,60.4 361.4,60.9 359.9,61.2 358.3,61.3 356.8,61.3 355.3,61.3 353.7,61.6 352.2,62.1 350.7,62.7 349.1,63.3 347.6,63.6 346.1,63.7 344.5,63.7 343.0,63.7 341.5,64.0 339.9,64.5 338.4,65.1 336.9,65.7 335.3,66.0 333.8,66.1 332.3,66.1 330.8,66.1 329.2,66.3 327.7,66.8 326.2,67.5 324.6,68.1 323.1,68.4 321.6,68.5 320.0,68.5 318.5,68.5 317.0,68.7 315.4,69.2 313.9,69.8 312.4,70.0 310.8,70.0 309.3,69.7 307.8,69.3 306.3,68.9 304.7,68.8 303.2,68.9 301.7,69.1 300.1,69.3 298.6,69.3 297.1,69.1 295.5,68.7 294.0,68.3" fill="#3f78d3"/>
<polygon points="294.0,68.1 295.5,68.4 297.1,68.9 298.6,69.1 300.1,69.1 301.7,68.9 303.2,68.6 304.7,68.5 306.3,68.7 307.8,69.1 309.3,69.5 310.8,69.7 312.4,69.7 313.9,69.5 315.4,68.9 317.0,68.4 318.5,68.2 320.0,68.2 321.6,68.2 323.1,68.1 324.6,67.8 326.2,67.2 327.7,66.5 329.2,66.0 330.8,65.8 332.3,65.8 333.8,65.8 335.3,65.7 336.9,65.4 338.4,64.8 339.9,64.2 341.5,63.7 343.0,63.4 344.5,63.4 346.1,63.4 347.6,63.3 349.1,63.0 350.7,62.4 352.2,61.8 353.7,61.3 355.3,61.0 356.8,61.0 358.3,61.0 359.9,60.9 361.4,60.6 362.9,60.1 364.4,59.4 366.0,58.9 367.5,58.6 369.0,58.6 370.6,58.6 372.1,58.5 373.6,58.2 375.2,57.7 376.7,57.0 378.2,56.5 379.8,56.2 381.3,56.2 382.8,56.2 384.4,56.2 385.9,55.8 387.4,55.3 388.9,54.7 390.5,54.1 392.0,53.8 393.5,53.8 395.1,53.8 396.6,53.8 398.1,53.5 399.7,52.9 401.2,52.3 430.0,46.5 430.0,47.3 401.2,53.1 399.7,53.7 398.1,54.3 396.6,54.6 395.1,54.6 393.5,54.6 392.0,54.6 390.5,54.9 388.9,55.5 387.4,56.1 385.9,56.6 384.4,57.0 382.8,57.0 381.3,57.0 379.8,57.0 378.2,57.3 376.7,57.8 375.2,58.5 373.6,59.0 372.1,59.3 370.6,59.4 369.0,59.4 367.5,59.4 366.0,59.7 364.4,60.2 362.9,60.9 361.4,61.4 359.9,61.7 358.3,61.8 356.8,61.8 355.3,61.8 353.7,62.1 352.2,62.6 350.7,63.2 349.1,63.8 347.6,64.1 346.1,64.2 344.5,64.2 343.0,64.2 341.5,64.5 339.9,65.0 338.4,65.6 336.9,66.2 335.3,66.5 333.8,66.6 332.3,66.6 330.8,66.6 329.2,66.8 327.7,67.3 326.2,68.0 324.6,68.6 323.1,68.9 321.6,69.0 320.0,69.0 318.5,69.0 317.0,69.2 315.4,69.7 313.9,70.3 312.4,70.5 310.8,70.5 309.3,70.2 307.8,69.8 306.3,69.4 304.7,69.2 303.2,69.3 301.7,69.5 300.1,69.7 298.6,69.7 297.1,69.4 295.5,69.0 294.0,68.6" fill="#4076d2"/>
<polygon points="294.0,68.4 295.5,68.8 297.1,69.2 298.6,69.5 300.1,69.5 301.7,69.3 303.2,69.0 304.7,68.9 306.3,69.1 307.8,69.5 309.3,69.9 310.8,70.2 312.4,70.2 313.9,70.0 315.4,69.4 317.0,68.9 318.5,68.7 320.0,68.7 321.6,68.7 323.1,68.6 324.6,68.3 326.2,67.7 327.7,67.0 329.2,66.5 330.8,66.3 332.3,66.3 333.8,66.3 335.3,66.2 336.9,65.9 338.4,65.3 339.9,64.7 341.5,64.2 343.0,63.9 344.5,63.9 346.1,63.9 347.6,63.8 349.1,63.5 350.7,62.9 352.2,62.3 353.7,61.8 355.3,61.5 356.8,61.5 358.3,61.5 359.9,61.4 361.4,61.1 362.9,60.6 364.4,59.9 366.0,59.4 367.5,59.1 369.0,59.1 370.6,59.1 372.1,59.0 373.6,58.7 375.2,58.2 376.7,57.5 378.2,57.0 379.8,56.7 381.3,56.7 382.8,56.7 384.4,56.7 385.9,56.3 387.4,55.8 388.9,55.2 390.5,54.6 392.0,54.3 393.5,54.3 395.1,54.3 396.6,54.3 398.1,54.0 399.7,53.4 401.2,52.8 430.0,47.0 430.0,47.8 401.2,53.6 399.7,54.2 398.1,54.8 396.6,55.1 395.1,55.1 393.5,55.1 392.0,55.1 390.5,55.4 388.9,56.0 387.4,56.6 385.9,57.1 384.4,57.5 382.8,57.5 381.3,57.5 379.8,57.5 378.2,57.8 376.7,58.3 375.2,59.0 373.6,59.5 372.1,59.8 370.6,59.9 369.0,59.9 367.5,59.9 366.0,60.2 364.4,60.7 362.9,61.4 361.4,61.9 359.9,62.2 358.3,62.3 356.8,62.3 355.3,62.3 353.7,62.6 352.2,63.1 350.7,63.7 349.1,64.3 347.6,64.6 346.1,64.7 344.5,64.7 343.0,64.7 341.5,65.0 339.9,65.5 338.4,66.1 336.9,66.7 335.3,67.0 333.8,67.1 332.3,67.1 330.8,67.1 329.2,67.3 327.7,67.8 326.2,68.5 324.6,69.1 323.1,69.4 321.6,69.5 320.0,69.5 318.5,69.5 317.0,69.7 315.4,70.2 313.9,70.8 312.4,71.0 310.8,71.0 309.3,70.7 307.8,70.2 306.3,69.8 304.7,69.6 303.2,69.7 301.7,69.9 300.1,70.1 298.6,70.1 297.1,69.8 295.5,69.3 294.0,68.9" fill="#4173d1"/>
<polygon points="294.0,68.7 295.5,69.1 297.1,69.6 298.6,69.8 300.1,69.9 301.7,69.7 303.2,69.4 304.7,69.4 306.3,69.6 307.8,70.0 309.3,70.4 310.8,70.7 312.4,70.7 313.9,70.5 315.4,69.9 317.0,69.4 318.5,69.2 320.0,69.2 321.6,69.2 323.1,69.1 324.6,68.8 326.2,68.2 327.7,67.5 329.2,67.0 330.8,66.8 332.3,66.8 333.8,66.8 335.3,66.7 336.9,66.4 338.4,65.8 339.9,65.2 341.5,64.7 343.0,64.4 344.5,64.4 346.1,64.4 347.6,64.3 349.1,64.0 350.7,63.4 352.2,62.8 353.7,62.3 355.3,62.0 356.8,62.0 358.3,62.0 359.9,61.9 361.4,61.6 362.9,61.1 364.4,60.4 366.0,59.9 367.5,59.6 369.0,59.6 370.6,59.6 372.1,59.5 373.6,59.2 375.2,58.7 376.7,58.0 378.2,57.5 379.8,57.2 381.3,57.2 382.8,57.2 384.4,57.2 385.9,56.8 387.4,56.3 388.9,55.7 390.5,55.1 392.0,54.8 393.5,54.8 395.1,54.8 396.6,54.8 398.1,54.5 399.7,53.9 401.2,53.3 430.0,47.5 430.0,48.3 401.2,54.1 399.7,54.7 398.1,55.3 396.6,55.6 395.1,55.6 393.5,55.6 392.0,55.6 390.5,55.9 388.9,56.5 387.4,57.1 385.9,57.6 384.4,58.0 382.8,58.0 381.3,58.0 379.8,58.0 378.2,58.3 376.7,58.8 375.2,59.5 373.6,60.0 372.1,60.3 370.6,60.4 369.0,60.4 367.5,60.4 366.0,60.7 364.4,61.2 362.9,61.9 361.4,62.4 359.9,62.7 358.3,62.8 356.8,62.8 355.3,62.8 353.7,63.1 352.2,63.6 350.7,64.2 349.1,64.8 347.6,65.1 346.1,65.2 344.5,65.2 343.0,65.2 341.5,65.5 339.9,66.0 338.4,66.6 336.9,67.2 335.3,67.5 333.8,67.6 332.3,67.6 330.8,67.6 329.2,67.8 327.7,68.3 326.2,69.0 324.6,69.6 323.1,69.9 321.6,70.0 320.0,70.0 318.5,70.0 317.0,70.2 315.4,70.7 313.9,71.3 312.4,71.5 310.8,71.4 309.3,71.1 307.8,70.7 306.3,70.3 304.7,70.0 303.2,70.1 301.7,70.3 300.1,70.5 298.6,70.4 297.1,70.1 295.5,69.7 294.0,69.3" fill="#446ecc"/>
<polygon points="294.0,69.1 295.5,69.5 297.1,69.9 298.6,70.2 300.1,70.2 301.7,70.1 303.2,69.8 304.7,69.8 306.3,70.0 307.8,70.4 309.3,70.9 310.8,71.2 312.4,71.2 313.9,71.0 315.4,70.4 317.0,69.9 318.5,69.7 320.0,69.7 321.6,69.7 323.1,69.6 324.6,69.3 326.2,68.7 327.7,68.0 329.2,67.5 330.8,67.3 332.3,67.3 333.8,67.3 335.3,67.2 336.9,66.9 338.4,66.3 339.9,65.7 341.5,65.2 343.0,64.9 344.5,64.9 346.1,64.9 347.6,64.8 349.1,64.5 350.7,63.9 352.2,63.3 353.7,62.8 355.3,62.5 356.8,62.5 358.3,62.5 359.9,62.4 361.4,62.1 362.9,61.6 364.4,60.9 366.0,60.4 367.5,60.1 369.0,60.1 370.6,60.1 372.1,60.0 373.6,59.7 375.2,59.2 376.7,58.5 378.2,58.0 379.8,57.7 381.3,57.7 382.8,57.7 384.4,57.7 385.9,57.3 387.4,56.8 388.9,56.2 390.5,55.6 392.0,55.3 393.5,55.3 395.1,55.3 396.6,55.3 398.1,55.0 399.7,54.4 401.2,53.8 430.0,48.0 430.0,48.8 401.2,54.6 399.7,55.2 398.1,55.8 396.6,56.1 395.1,56.1 393.5,56.1 392.0,56.1 390.5,56.4 388.9,57.0 387.4,57.6 385.9,58.1 384.4,58.5 382.8,58.5 381.3,58.5 379.8,58.5 378.2,58.8 376.7,59.3 375.2,60.0 373.6,60.5 372.1,60.8 370.6,60.9 369.0,60.9 367.5,60.9 366.0,61.2 364.4,61.7 362.9,62.4 361.4,62.9 359.9,63.2 358.3,63.3 356.8,63.3 355.3,63.3 353.7,63.6 352.2,64.1 350.7,64.7 349.1,65.3 347.6,65.6 346.1,65.7 344.5,65.7 343.0,65.7 341.5,66.0 339.9,66.5 338.4,67.1 336.9,67.7 335.3,68.0 333.8,68.1 332.3,68.1 330.8,68.1 329.2,68.3 327.7,68.8 326.2,69.5 324.6,70.1 323.1,70.4 321.6,70.5 320.0,70.5 318.5,70.5 317.0,70.7 315.4,71.2 313.9,71.8 312.4,72.0 310.8,71.9 309.3,71.6 307.8,71.1 306.3,70.7 304.7,70.5 303.2,70.5 301.7,70.7 300.1,70.9 298.6,70.8 297.1,70.5 295.5,70.0 294.0,69.6" fill="#4664c4"/>
<polygon points="294.0,69.4 295.5,69.8 297.1,70.3 298.6,70.6 300.1,70.6 301.7,70.5 303.2,70.3 304.7,70.2 306.3,70.4 307.8,70.9 309.3,71.3 310.8,71.6 312.4,71.7 313.9,71.5 315.4,70.9 317.0,70.4 318.5,70.2 320.0,70.2 321.6,70.2 323.1,70.1 324.6,69.8 326.2,69.2 327.7,68.5 329.2,68.0 330.8,67.8 332.3,67.8 333.8,67.8 335.3,67.7 336.9,67.4 338.4,66.8 339.9,66.2 341.5,65.7 343.0,65.4 344.5,65.4 346.1,65.4 347.6,65.3 349.1,65.0 350.7,64.4 352.2,63.8 353.7,63.3 355.3,63.0 356.8,63.0 358.3,63.0 359.9,62.9 361.4,62.6 362.9,62.1 364.4,61.4 366.0,60.9 367.5,60.6 369.0,60.6 370.6,60.6 372.1,60.5 373.6,60.2 375.2,59.7 376.7,59.0 378.2,58.5 379.8,58.2 381.3,58.2 382.8,58.2 384.4,58.2 385.9,57.8 387.4,57.3 388.9,56.7 390.5,56.1 392.0,55.8 393.5,55.8 395.1,55.8 396.6,55.8 398.1,55.5 399.7,54.9 401.2,54.3 430.0,48.5 430.0,49.3 401.2,55.1 399.7,55.7 398.1,56.3 396.6,56.6 395.1,56.6 393.5,56.6 392.0,56.6 390.5,56.9 388.9,57.5 387.4,58.1 385.9,58.6 384.4,59.0 382.8,59.0 381.3,59.0 379.8,59.0 378.2,59.3 376.7,59.8 375.2,60.5 373.6,61.0 372.1,61.3 370.6,61.4 369.0,61.4 367.5,61.4 366.0,61.7 364.4,62.2 362.9,62.9 361.4,63.4 359.9,63.7 358.3,63.8 356.8,63.8 355.3,63.8 353.7,64.1 352.2,64.6 350.7,65.2 349.1,65.8 347.6,66.1 346.1,66.2 344.5,66.2 343.0,66.2 341.5,66.5 339.9,67.0 338.4,67.6 336.9,68.2 335.3,68.5 333.8,68.6 332.3,68.6 330.8,68.6 329.2,68.8 327.7,69.3 326.2,70.0 324.6,70.6 323.1,70.9 321.6,71.0 320.0,71.0 318.5,71.0 317.0,71.2 315.4,71.7 313.9,72.3 312.4,72.5 310.8,72.4 309.3,72.1 307.8,71.6 306.3,71.1 304.7,70.9 303.2,70.9 301.7,71.1 300.1,71.2 298.6,71.2 297.1,70.8 295.5,70.4 294.0,69.9" fill="#485fbf"/>
<polygon points="294.0,69.7 295.5,70.2 297.1,70.6 298.6,70.9 300.1,71.0 301.7,70.9 303.2,70.7 304.7,70.6 306.3,70.9 307.8,71.3 309.3,71.8 310.8,72.1 312.4,72.2 313.9,72.0 315.4,71.4 317.0,70.9 318.5,70.7 320.0,70.7 321.6,70.7 323.1,70.6 324.6,70.3 326.2,69.7 327.7,69.0 329.2,68.5 330.8,68.3 332.3,68.3 333.8,68.3 335.3,68.2 336.9,67.9 338.4,67.3 339.9,66.7 341.5,66.2 343.0,65.9 344.5,65.9 346.1,65.9 347.6,65.8 349.1,65.5 350.7,64.9 352.2,64.3 353.7,63.8 355.3,63.5 356.8,63.5 358.3,63.5 359.9,63.4 361.4,63.1 362.9,62.6 364.4,61.9 366.0,61.4 367.5,61.1 369.0,61.1 370.6,61.1 372.1,61.0 373.6,60.7 375.2,60.2 376.7,59.5 378.2,59.0 379.8,58.7 381.3,58.7 382.8,58.7 384.4,58.7 385.9,58.3 387.4,57.8 388.9,57.2 390.5,56.6 392.0,56.3 393.5,56.3 395.1,56.3 396.6,56.3 398.1,56.0 399.7,55.4 401.2,54.8 430.0,49.0 430.0,49.8 401.2,55.6 399.7,56.2 398.1,56.8 396.6,57.1 395.1,57.1 393.5,57.1 392.0,57.1 390.5,57.4 388.9,58.0 387.4,58.6 385.9,59.1 384.4,59.5 382.8,59.5 381.3,59.5 379.8,59.5 378.2,59.8 376.7,60.3 375.2,61.0 373.6,61.5 372.1,61.8 370.6,61.9 369.0,61.9 367.5,61.9 366.0,62.2 364.4,62.7 362.9,63.4 361.4,63.9 359.9,64.2 358.3,64.3 356.8,64.3 355.3,64.3 353.7,64.6 352.2,65.1 350.7,65.7 349.1,66.3 347.6,66.6 346.1,66.7 344.5,66.7 343.0,66.7 341.5,67.0 339.9,67.5 338.4,68.1 336.9,68.7 335.3,69.0 333.8,69.1 332.3,69.1 330.8,69.1 329.2,69.3 327.7,69.8 326.2,70.5 324.6,71.1 323.1,71.4 321.6,71.5 320.0,71.5 318.5,71.5 317.0,71.7 315.4,72.2 313.9,72.8 312.4,72.9 310.8,72.9 309.3,72.5 307.8,72.0 306.3,71.6 304.7,71.3 303.2,71.3 301.7,71.5 300.1,71.6 298.6,71.5 297.1,71.2 295.5,70.7 294.0,70.2" fill="#485dbc"/>
<polygon points="294.0,70.0 295.5,70.5 297.1,71.0 298.6,71.3 300.1,71.4 301.7,71.2 303.2,71.1 304.7,71.1 306.3,71.3 307.8,71.7 309.3,72.2 310.8,72.6 312.4,72.7 313.9,72.5 315.4,71.9 317.0,71.4 318.5,71.2 320.0,71.2 321.6,71.2 323.1,71.1 324.6,70.8 326.2,70.2 327.7,69.5 329.2,69.0 330.8,68.8 332.3,68.8 333.8,68.8 335.3,68.7 336.9,68.4 338.4,67.8 339.9,67.2 341.5,66.7 343.0,66.4 344.5,66.4 346.1,66.4 347.6,66.3 349.1,66.0 350.7,65.4 352.2,64.8 353.7,64.3 355.3,64.0 356.8,64.0 358.3,64.0 359.9,63.9 361.4,63.6 362.9,63.1 364.4,62.4 366.0,61.9 367.5,61.6 369.0,61.6 370.6,61.6 372.1,61.5 373.6,61.2 375.2,60.7 376.7,60.0 378.2,59.5 379.8,59.2 381.3,59.2 382.8,59.2 384.4,59.2 385.9,58.8 387.4,58.3 388.9,57.7 390.5,57.1 392.0,56.8 393.5,56.8 395.1,56.8 396.6,56.8 398.1,56.5 399.7,55.9 401.2,55.3 430.0,49.5 430.0,50.3 401.2,56.1 399.7,56.7 398.1,57.3 396.6,57.6 395.1,57.6 393.5,57.6 392.0,57.6 390.5,57.9 388.9,58.5 387.4,59.1 385.9,59.6 384.4,60.0 382.8,60.0 381.3,60.0 379.8,60.0 378.2,60.3 376.7,60.8 375.2,61.5 373.6,62.0 372.1,62.3 370.6,62.4 369.0,62.4 367.5,62.4 366.0,62.7 364.4,63.2 362.9,63.9 361.4,64.4 359.9,64.7 358.3,64.8 356.8,64.8 355.3,64.8 353.7,65.1 352.2,65.6 350.7,66.2 349.1,66.8 347.6,67.1 346.1,67.2 344.5,67.2 343.0,67.2 341.5,67.5 339.9,68.0 338.4,68.6 336.9,69.2 335.3,69.5 333.8,69.6 332.3,69.6 330.8,69.6 329.2,69.8 327.7,70.3 326.2,71.0 324.6,71.6 323.1,71.9 321.6,72.0 320.0,72.0 318.5,72.0 317.0,72.2 315.4,72.7 313.9,73.3 312.4,73.4 310.8,73.3 309.3,73.0 307.8,72.5 306.3,72.0 304.7,71.7 303.2,71.7 301.7,71.9 300.1,72.0 298.6,71.9 297.1,71.6 295.5,71.1 294.0,70.6" fill="#475aba"/>
<polygon points="294.0,70.4 295.5,70.8 297.1,71.3 298.6,71.7 300.1,71.8 301.7,71.6 303.2,71.5 304.7,71.5 306.3,71.7 307.8,72.2 309.3,72.7 310.8,73.0 312.4,73.1 313.9,73.0 315.4,72.4 317.0,71.9 318.5,71.7 320.0,71.7 321.6,71.7 323.1,71.6 324.6,71.3 326.2,70.7 327.7,70.0 329.2,69.5 330.8,69.3 332.3,69.3 333.8,69.3 335.3,69.2 336.9,68.9 338.4,68.3 339.9,67.7 341.5,67.2 343.0,66.9 344.5,66.9 346.1,66.9 347.6,66.8 349.1,66.5 350.7,65.9 352.2,65.3 353.7,64.8 355.3,64.5 356.8,64.5 358.3,64.5 359.9,64.4 361.4,64.1 362.9,63.6 364.4,62.9 366.0,62.4 367.5,62.1 369.0,62.1 370.6,62.1 372.1,62.0 373.6,61.7 375.2,61.2 376.7,60.5 378.2,60.0 379.8,59.7 381.3,59.7 382.8,59.7 384.4,59.7 385.9,59.3 387.4,58.8 388.9,58.2 390.5,57.6 392.0,57.3 393.5,57.3 395.1,57.3 396.6,57.3 398.1,57.0 399.7,56.4 401.2,55.8 430.0,50.0 430.0,50.8 401.2,56.6 399.7,57.2 398.1,57.8 396.6,58.1 395.1,58.1 393.5,58.1 392.0,58.1 390.5,58.4 388.9,59.0 387.4,59.6 385.9,60.1 384.4,60.5 382.8,60.5 381.3,60.5 379.8,60.5 378.2,60.8 376.7,61.3 375.2,62.0 373.6,62.5 372.1,62.8 370.6,62.9 369.0,62.9 367.5,62.9 366.0,63.2 364.4,63.7 362.9,64.4 361.4,64.9 359.9,65.2 358.3,65.3 356.8,65.3 355.3,65.3 353.7,65.6 352.2,66.1 350.7,66.7 349.1,67.3 347.6,67.6 346.1,67.7 344.5,67.7 343.0,67.7 341.5,68.0 339.9,68.5 338.4,69.1 336.9,69.7 335.3,70.0 333.8,70.1 332.3,70.1 330.8,70.1 329.2,70.3 327.7,70.8 326.2,71.5 324.6,72.1 323.1,72.4 321.6,72.5 320.0,72.5 318.5,72.5 317.0,72.7 315.4,73.2 313.9,73.8 312.4,73.9 310.8,73.8 309.3,73.4 307.8,72.9 306.3,72.4 304.7,72.1 303.2,72.1 301.7,72.3 300.1,72.4 298.6,72.3 297.1,71.9 295.5,71.4 294.0,70.9" fill="#4758b7"/>
<polygon points="294.0,70.7 295.5,71.2 297.1,71.7 298.6,72.1 300.1,72.1 301.7,72.0 303.2,71.9 304.7,71.9 306.3,72.2 307.8,72.6 309.3,73.2 310.8,73.5 312.4,73.6 313.9,73.5 315.4,72.9 317.0,72.4 318.5,72.2 320.0,72.2 321.6,72.2 323.1,72.1 324.6,71.8 326.2,71.2 327.7,70.5 329.2,70.0 330.8,69.8 332.3,69.8 333.8,69.8 335.3,69.7 336.9,69.4 338.4,68.8 339.9,68.2 341.5,67.7 343.0,67.4 344.5,67.4 346.1,67.4 347.6,67.3 349.1,67.0 350.7,66.4 352.2,65.8 353.7,65.3 355.3,65.0 356.8,65.0 358.3,65.0 359.9,64.9 361.4,64.6 362.9,64.1 364.4,63.4 366.0,62.9 367.5,62.6 369.0,62.6 370.6,62.6 372.1,62.5 373.6,62.2 375.2,61.7 376.7,61.0 378.2,60.5 379.8,60.2 381.3,60.2 382.8,60.2 384.4,60.2 385.9,59.8 387.4,59.3 388.9,58.7 390.5,58.1 392.0,57.8 393.5,57.8 395.1,57.8 396.6,57.8 398.1,57.5 399.7,56.9 401.2,56.3 430.0,50.5 430.0,51.3 401.2,57.1 399.7,57.7 398.1,58.3 396.6,58.6 395.1,58.6 393.5,58.6 392.0,58.6 390.5,58.9 388.9,59.5 387.4,60.1 385.9,60.6 384.4,61.0 382.8,61.0 381.3,61.0 379.8,61.0 378.2,61.3 376.7,61.8 375.2,62.5 373.6,63.0 372.1,63.3 370.6,63.4 369.0,63.4 367.5,63.4 366.0,63.7 364.4,64.2 362.9,64.9 361.4,65.4 359.9,65.7 358.3,65.8 356.8,65.8 355.3,65.8 353.7,66.1 352.2,66.6 350.7,67.2 349.1,67.8 347.6,68.1 346.1,68.2 344.5,68.2 343.0,68.2 341.5,68.5 339.9,69.0 338.4,69.6 336.9,70.2 335.3,70.5 333.8,70.6 332.3,70.6 330.8,70.6 329.2,70.8 327.7,71.3 326.2,72.0 324.6,72.6 323.1,72.9 321.6,73.0 320.0,73.0 318.5,73.0 317.0,73.2 315.4,73.7 313.9,74.3 312.4,74.4 310.8,74.3 309.3,73.9 307.8,73.4 306.3,72.9 304.7,72.6 303.2,72.5 301.7,72.7 300.1,72.8 298.6,72.6 297.1,72.3 295.5,71.7 294.0,71.2" fill="#4756b4"/>
<polygon points="294.0,71.0 295.5,71.5 297.1,72.1 298.6,72.4 300.1,72.5 301.7,72.4 303.2,72.3 304.7,72.3 306.3,72.6 307.8,73.1 309.3,73.6 310.8,74.0 312.4,74.1 313.9,74.0 315.4,73.4 317.0,72.9 318.5,72.7 320.0,72.7 321.6,72.7 323.1,72.6 324.6,72.3 326.2,71.7 327.7,71.0 329.2,70.5 330.8,70.3 332.3,70.3 333.8,70.3 335.3,70.2 336.9,69.9 338.4,69.3 339.9,68.7 341.5,68.2 343.0,67.9 344.5,67.9 346.1,67.9 347.6,67.8 349.1,67.5 350.7,66.9 352.2,66.3 353.7,65.8 355.3,65.5 356.8,65.5 358.3,65.5 359.9,65.4 361.4,65.1 362.9,64.6 364.4,63.9 366.0,63.4 367.5,63.1 369.0,63.1 370.6,63.1 372.1,63.0 373.6,62.7 375.2,62.2 376.7,61.5 378.2,61.0 379.8,60.7 381.3,60.7 382.8,60.7 384.4,60.7 385.9,60.3 387.4,59.8 388.9,59.2 390.5,58.6 392.0,58.3 393.5,58.3 395.1,58.3 396.6,58.3 398.1,58.0 399.7,57.4 401.2,56.8 430.0,51.0 430.0,51.8 401.2,57.6 399.7,58.2 398.1,58.8 396.6,59.1 395.1,59.1 393.5,59.1 392.0,59.1 390.5,59.4 388.9,60.0 387.4,60.6 385.9,61.1 384.4,61.5 382.8,61.5 381.3,61.5 379.8,61.5 378.2,61.8 376.7,62.3 375.2,63.0 373.6,63.5 372.1,63.8 370.6,63.9 369.0,63.9 367.5,63.9 366.0,64.2 364.4,64.7 362.9,65.4 361.4,65.9 359.9,66.2 358.3,66.3 356.8,66.3 355.3,66.3 353.7,66.6 352.2,67.1 350.7,67.7 349.1,68.3 347.6,68.6 346.1,68.7 344.5,68.7 343.0,68.7 341.5,69.0 339.9,69.5 338.4,70.1 336.9,70.7 335.3,71.0 333.8,71.1 332.3,71.1 330.8,71.1 329.2,71.3 327.7,71.8 326.2,72.5 324.6,73.1 323.1,73.4 321.6,73.5 320.0,73.5 318.5,73.5 317.0,73.7 315.4,74.2 313.9,74.8 312.4,74.9 310.8,74.7 309.3,74.4 307.8,73.8 306.3,73.3 304.7,73.0 303.2,72.9 301.7,73.1 300.1,73.1 298.6,73.0 297.1,72.6 295.5,72.1 294.0,71.6" fill="#4653b2"/>
<polygon points="294.0,71.4 295.5,71.9 297.1,72.4 298.6,72.8 300.1,72.9 301.7,72.8 303.2,72.7 304.7,72.7 306.3,73.0 307.8,73.5 309.3,74.1 310.8,74.5 312.4,74.6 313.9,74.5 315.4,73.9 317.0,73.4 318.5,73.2 320.0,73.2 321.6,73.2 323.1,73.1 324.6,72.8 326.2,72.2 327.7,71.5 329.2,71.0 330.8,70.8 332.3,70.8 333.8,70.8 335.3,70.7 336.9,70.4 338.4,69.8 339.9,69.2 341.5,68.7 343.0,68.4 344.5,68.4 346.1,68.4 347.6,68.3 349.1,68.0 350.7,67.4 352.2,66.8 353.7,66.3 355.3,66.0 356.8,66.0 358.3,66.0 359.9,65.9 361.4,65.6 362.9,65.1 364.4,64.4 366.0,63.9 367.5,63.6 369.0,63.6 370.6,63.6 372.1,63.5 373.6,63.2 375.2,62.7 376.7,62.0 378.2,61.5 379.8,61.2 381.3,61.2 382.8,61.2 384.4,61.2 385.9,60.8 387.4,60.3 388.9,59.7 390.5,59.1 392.0,58.8 393.5,58.8 395.1,58.8 396.6,58.8 398.1,58.5 399.7,57.9 401.2,57.3 430.0,51.5 430.0,52.3 401.2,58.1 399.7,58.7 398.1,59.3 396.6,59.6 395.1,59.6 393.5,59.6 392.0,59.6 390.5,59.9 388.9,60.5 387.4,61.1 385.9,61.6 384.4,62.0 382.8,62.0 381.3,62.0 379.8,62.0 378.2,62.3 376.7,62.8 375.2,63.5 373.6,64.0 372.1,64.3 370.6,64.4 369.0,64.4 367.5,64.4 366.0,64.7 364.4,65.2 362.9,65.9 361.4,66.4 359.9,66.7 358.3,66.8 356.8,66.8 355.3,66.8 353.7,67.1 352.2,67.6 350.7,68.2 349.1,68.8 347.6,69.1 346.1,69.2 344.5,69.2 343.0,69.2 341.5,69.5 339.9,70.0 338.4,70.6 336.9,71.2 335.3,71.5 333.8,71.6 332.3,71.6 330.8,71.6 329.2,71.8 327.7,72.3 326.2,73.0 324.6,73.6 323.1,73.9 321.6,74.0 320.0,74.0 318.5,74.0 317.0,74.2 315.4,74.7 313.9,75.3 312.4,75.4 310.8,75.2 309.3,74.8 307.8,74.2 306.3,73.7 304.7,73.4 303.2,73.4 301.7,73.5 300.1,73.5 298.6,73.4 297.1,73.0 295.5,72.4 294.0,71.9" fill="#4651af"/>
<polygon points="294.0,71.7 295.5,72.2 297.1,72.8 298.6,73.2 300.1,73.3 301.7,73.2 303.2,73.1 304.7,73.2 306.3,73.5 307.8,74.0 309.3,74.5 310.8,74.9 312.4,75.1 313.9,75.0 315.4,74.4 317.0,73.9 318.5,73.7 320.0,73.7 321.6,73.7 323.1,73.6 324.6,73.3 326.2,72.7 327.7,72.0 329.2,71.5 330.8,71.3 332.3,71.3 333.8,71.3 335.3,71.2 336.9,70.9 338.4,70.3 339.9,69.7 341.5,69.2 343.0,68.9 344.5,68.9 346.1,68.9 347.6,68.8 349.1,68.5 350.7,67.9 352.2,67.3 353.7,66.8 355.3,66.5 356.8,66.5 358.3,66.5 359.9,66.4 361.4,66.1 362.9,65.6 364.4,64.9 366.0,64.4 367.5,64.1 369.0,64.1 370.6,64.1 372.1,64.0 373.6,63.7 375.2,63.2 376.7,62.5 378.2,62.0 379.8,61.7 381.3,61.7 382.8,61.7 384.4,61.7 385.9,61.3 387.4,60.8 388.9,60.2 390.5,59.6 392.0,59.3 393.5,59.3 395.1,59.3 396.6,59.3 398.1,59.0 399.7,58.4 401.2,57.8 430.0,52.0 430.0,52.8 401.2,58.6 399.7,59.2 398.1,59.8 396.6,60.1 395.1,60.1 393.5,60.1 392.0,60.1 390.5,60.4 388.9,61.0 387.4,61.6 385.9,62.1 384.4,62.5 382.8,62.5 381.3,62.5 379.8,62.5 378.2,62.8 376.7,63.3 375.2,64.0 373.6,64.5 372.1,64.8 370.6,64.9 369.0,64.9 367.5,64.9 366.0,65.2 364.4,65.7 362.9,66.4 361.4,66.9 359.9,67.2 358.3,67.3 356.8,67.3 355.3,67.3 353.7,67.6 352.2,68.1 350.7,68.7 349.1,69.3 347.6,69.6 346.1,69.7 344.5,69.7 343.0,69.7 341.5,70.0 339.9,70.5 338.4,71.1 336.9,71.7 335.3,72.0 333.8,72.1 332.3,72.1 330.8,72.1 329.2,72.3 327.7,72.8 326.2,73.5 324.6,74.1 323.1,74.4 321.6,74.5 320.0,74.5 318.5,74.5 317.0,74.7 315.4,75.2 313.9,75.8 312.4,75.9 310.8,75.7 309.3,75.3 307.8,74.7 306.3,74.2 304.7,73.8 303.2,73.8 301.7,73.9 300.1,73.9 298.6,73.8 297.1,73.3 295.5,72.8 294.0,72.2" fill="#464fad"/>
<polygon points="294.0,72.0 295.5,72.6 297.1,73.1 298.6,73.5 300.1,73.7 301.7,73.6 303.2,73.5 304.7,73.6 306.3,73.9 307.8,74.4 309.3,75.0 310.8,75.4 312.4,75.6 313.9,75.5 315.4,74.9 317.0,74.4 318.5,74.2 320.0,74.2 321.6,74.2 323.1,74.1 324.6,73.8 326.2,73.2 327.7,72.5 329.2,72.0 330.8,71.8 332.3,71.8 333.8,71.8 335.3,71.7 336.9,71.4 338.4,70.8 339.9,70.2 341.5,69.7 343.0,69.4 344.5,69.4 346.1,69.4 347.6,69.3 349.1,69.0 350.7,68.4 352.2,67.8 353.7,67.3 355.3,67.0 356.8,67.0 358.3,67.0 359.9,66.9 361.4,66.6 362.9,66.1 364.4,65.4 366.0,64.9 367.5,64.6 369.0,64.6 370.6,64.6 372.1,64.5 373.6,64.2 375.2,63.7 376.7,63.0 378.2,62.5 379.8,62.2 381.3,62.2 382.8,62.2 384.4,62.2 385.9,61.8 387.4,61.3 388.9,60.7 390.5,60.1 392.0,59.8 393.5,59.8 395.1,59.8 396.6,59.8 398.1,59.5 399.7,58.9 401.2,58.3 430.0,52.5 430.0,53.3 401.2,59.1 399.7,59.7 398.1,60.3 396.6,60.6 395.1,60.6 393.5,60.6 392.0,60.6 390.5,60.9 388.9,61.5 387.4,62.1 385.9,62.6 384.4,63.0 382.8,63.0 381.3,63.0 379.8,63.0 378.2,63.3 376.7,63.8 375.2,64.5 373.6,65.0 372.1,65.3 370.6,65.4 369.0,65.4 367.5,65.4 366.0,65.7 364.4,66.2 362.9,66.9 361.4,67.4 359.9,67.7 358.3,67.8 356.8,67.8 355.3,67.8 353.7,68.1 352.2,68.6 350.7,69.2 349.1,69.8 347.6,70.1 346.1,70.2 344.5,70.2 343.0,70.2 341.5,70.5 339.9,71.0 338.4,71.6 336.9,72.2 335.3,72.5 333.8,72.6 332.3,72.6 330.8,72.6 329.2,72.8 327.7,73.3 326.2,74.0 324.6,74.6 323.1,74.9 321.6,75.0 320.0,75.0 318.5,75.0 317.0,75.2 315.4,75.7 313.9,76.3 312.4,76.3 310.8,76.2 309.3,75.7 307.8,75.1 306.3,74.6 304.7,74.3 303.2,74.2 301.7,74.2 300.1,74.3 298.6,74.1 297.1,73.7 295.5,73.1 294.0,72.6" fill="#454caa"/>
<polygon points="294.0,72.4 295.5,72.9 297.1,73.5 298.6,73.9 300.1,74.1 301.7,74.0 303.2,73.9 304.7,74.0 306.3,74.3 307.8,74.9 309.3,75.5 310.8,75.9 312.4,76.1 313.9,76.0 315.4,75.4 317.0,74.9 318.5,74.7 320.0,74.7 321.6,74.7 323.1,74.6 324.6,74.3 326.2,73.7 327.7,73.0 329.2,72.5 330.8,72.3 332.3,72.3 333.8,72.3 335.3,72.2 336.9,71.9 338.4,71.3 339.9,70.7 341.5,70.2 343.0,69.9 344.5,69.9 346.1,69.9 347.6,69.8 349.1,69.5 350.7,68.9 352.2,68.3 353.7,67.8 355.3,67.5 356.8,67.5 358.3,67.5 359.9,67.4 361.4,67.1 362.9,66.6 364.4,65.9 366.0,65.4 367.5,65.1 369.0,65.1 370.6,65.1 372.1,65.0 373.6,64.7 375.2,64.2 376.7,63.5 378.2,63.0 379.8,62.7 381.3,62.7 382.8,62.7 384.4,62.7 385.9,62.3 387.4,61.8 388.9,61.2 390.5,60.6 392.0,60.3 393.5,60.3 395.1,60.3 396.6,60.3 398.1,60.0 399.7,59.4 401.2,58.8 430.0,53.0 430.0,53.8 401.2,59.6 399.7,60.2 398.1,60.8 396.6,61.1 395.1,61.1 393.5,61.1 392.0,61.1 390.5,61.4 388.9,62.0 387.4,62.6 385.9,63.1 384.4,63.5 382.8,63.5 381.3,63.5 379.8,63.5 378.2,63.8 376.7,64.3 375.2,65.0 373.6,65.5 372.1,65.8 370.6,65.9 369.0,65.9 367.5,65.9 366.0,66.2 364.4,66.7 362.9,67.4 361.4,67.9 359.9,68.2 358.3,68.3 356.8,68.3 355.3,68.3 353.7,68.6 352.2,69.1 350.7,69.7 349.1,70.3 347.6,70.6 346.1,70.7 344.5,70.7 343.0,70.7 341.5,71.0 339.9,71.5 338.4,72.1 336.9,72.7 335.3,73.0 333.8,73.1 332.3,73.1 330.8,73.1 329.2,73.3 327.7,73.8 326.2,74.5 324.6,75.1 323.1,75.4 321.6,75.5 320.0,75.5 318.5,75.5 317.0,75.7 315.4,76.2 313.9,76.8 312.4,76.8 310.8,76.6 309.3,76.2 307.8,75.6 306.3,75.0 304.7,74.7 303.2,74.6 301.7,74.6 300.1,74.7 298.6,74.5 297.1,74.1 295.5,73.5 294.0,72.9" fill="#444aa8"/>
<polygon points="294.0,72.7 295.5,73.2 297.1,73.8 298.6,74.3 300.1,74.4 301.7,74.4 303.2,74.3 304.7,74.4 306.3,74.8 307.8,75.3 309.3,75.9 310.8,76.4 312.4,76.5 313.9,76.5 315.4,75.9 317.0,75.4 318.5,75.2 320.0,75.2 321.6,75.2 323.1,75.1 324.6,74.8 326.2,74.2 327.7,73.5 329.2,73.0 330.8,72.8 332.3,72.8 333.8,72.8 335.3,72.7 336.9,72.4 338.4,71.8 339.9,71.2 341.5,70.7 343.0,70.4 344.5,70.4 346.1,70.4 347.6,70.3 349.1,70.0 350.7,69.4 352.2,68.8 353.7,68.3 355.3,68.0 356.8,68.0 358.3,68.0 359.9,67.9 361.4,67.6 362.9,67.1 364.4,66.4 366.0,65.9 367.5,65.6 369.0,65.6 370.6,65.6 372.1,65.5 373.6,65.2 375.2,64.7 376.7,64.0 378.2,63.5 379.8,63.2 381.3,63.2 382.8,63.2 384.4,63.2 385.9,62.8 387.4,62.3 388.9,61.7 390.5,61.1 392.0,60.8 393.5,60.8 395.1,60.8 396.6,60.8 398.1,60.5 399.7,59.9 401.2,59.3 430.0,53.5 430.0,54.3 401.2,60.1 399.7,60.7 398.1,61.3 396.6,61.6 395.1,61.6 393.5,61.6 392.0,61.6 390.5,61.9 388.9,62.5 387.4,63.1 385.9,63.6 384.4,64.0 382.8,64.0 381.3,64.0 379.8,64.0 378.2,64.3 376.7,64.8 375.2,65.5 373.6,66.0 372.1,66.3 370.6,66.4 369.0,66.4 367.5,66.4 366.0,66.7 364.4,67.2 362.9,67.9 361.4,68.4 359.9,68.7 358.3,68.8 356.8,68.8 355.3,68.8 353.7,69.1 352.2,69.6 350.7,70.2 349.1,70.8 347.6,71.1 346.1,71.2 344.5,71.2 343.0,71.2 341.5,71.5 339.9,72.0 338.4,72.6 336.9,73.2 335.3,73.5 333.8,73.6 332.3,73.6 330.8,73.6 329.2,73.8 327.7,74.3 326.2,75.0 324.6,75.6 323.1,75.9 321.6,76.0 320.0,76.0 318.5,76.0 317.0,76.2 315.4,76.7 313.9,77.3 312.4,77.3 310.8,77.1 309.3,76.7 307.8,76.0 306.3,75.5 304.7,75.1 303.2,75.0 301.7,75.0 300.1,75.1 298.6,74.9 297.1,74.4 295.5,73.8 294.0,73.2" fill="#4347a6"/>
<polygon points="294.0,73.0 295.5,73.6 297.1,74.2 298.6,74.6 300.1,74.8 301.7,74.8 303.2,74.7 304.7,74.8 306.3,75.2 307.8,75.8 309.3,76.4 310.8,76.8 312.4,77.0 313.9,77.0 315.4,76.4 317.0,75.9 318.5,75.7 320.0,75.7 321.6,75.7 323.1,75.6 324.6,75.3 326.2,74.7 327.7,74.0 329.2,73.5 330.8,73.3 332.3,73.3 333.8,73.3 335.3,73.2 336.9,72.9 338.4,72.3 339.9,71.7 341.5,71.2 343.0,70.9 344.5,70.9 346.1,70.9 347.6,70.8 349.1,70.5 350.7,69.9 352.2,69.3 353.7,68.8 355.3,68.5 356.8,68.5 358.3,68.5 359.9,68.4 361.4,68.1 362.9,67.6 364.4,66.9 366.0,66.4 367.5,66.1 369.0,66.1 370.6,66.1 372.1,66.0 373.6,65.7 375.2,65.2 376.7,64.5 378.2,64.0 379.8,63.7 381.3,63.7 382.8,63.7 384.4,63.7 385.9,63.3 387.4,62.8 388.9,62.2 390.5,61.6 392.0,61.3 393.5,61.3 395.1,61.3 396.6,61.3 398.1,61.0 399.7,60.4 401.2,59.8 430.0,54.0 430.0,54.8 401.2,60.6 399.7,61.2 398.1,61.8 396.6,62.1 395.1,62.1 393.5,62.1 392.0,62.1 390.5,62.4 388.9,63.0 387.4,63.6 385.9,64.1 384.4,64.5 382.8,64.5 381.3,64.5 379.8,64.5 378.2,64.8 376.7,65.3 375.2,66.0 373.6,66.5 372.1,66.8 370.6,66.9 369.0,66.9 367.5,66.9 366.0,67.2 364.4,67.7 362.9,68.4 361.4,68.9 359.9,69.2 358.3,69.3 356.8,69.3 355.3,69.3 353.7,69.6 352.2,70.1 350.7,70.7 349.1,71.3 347.6,71.6 346.1,71.7 344.5,71.7 343.0,71.7 341.5,72.0 339.9,72.5 338.4,73.1 336.9,73.7 335.3,74.0 333.8,74.1 332.3,74.1 330.8,74.1 329.2,74.3 327.7,74.8 326.2,75.5 324.6,76.1 323.1,76.4 321.6,76.5 320.0,76.5 318.5,76.5 317.0,76.7 315.4,77.2 313.9,77.8 312.4,77.8 310.8,77.6 309.3,77.1 307.8,76.5 306.3,75.9 304.7,75.5 303.2,75.4 301.7,75.4 300.1,75.4 298.6,75.2 297.1,74.8 295.5,74.1 294.0,73.5" fill="#4345a3"/>
<polygon points="294.0,73.3 295.5,73.9 297.1,74.6 298.6,75.0 300.1,75.2 301.7,75.2 303.2,75.2 304.7,75.3 306.3,75.6 307.8,76.2 309.3,76.8 310.8,77.3 312.4,77.5 313.9,77.5 315.4,76.9 317.0,76.4 318.5,76.2 320.0,76.2 321.6,76.2 323.1,76.1 324.6,75.8 326.2,75.2 327.7,74.5 329.2,74.0 330.8,73.8 332.3,73.8 333.8,73.8 335.3,73.7 336.9,73.4 338.4,72.8 339.9,72.2 341.5,71.7 343.0,71.4 344.5,71.4 346.1,71.4 347.6,71.3 349.1,71.0 350.7,70.4 352.2,69.8 353.7,69.3 355.3,69.0 356.8,69.0 358.3,69.0 359.9,68.9 361.4,68.6 362.9,68.1 364.4,67.4 366.0,66.9 367.5,66.6 369.0,66.6 370.6,66.6 372.1,66.5 373.6,66.2 375.2,65.7 376.7,65.0 378.2,64.5 379.8,64.2 381.3,64.2 382.8,64.2 384.4,64.2 385.9,63.8 387.4,63.3 388.9,62.7 390.5,62.1 392.0,61.8 393.5,61.8 395.1,61.8 396.6,61.8 398.1,61.5 399.7,60.9 401.2,60.3 430.0,54.5 430.0,55.3 401.2,61.1 399.7,61.7 398.1,62.3 396.6,62.6 395.1,62.6 393.5,62.6 392.0,62.6 390.5,62.9 388.9,63.5 387.4,64.1 385.9,64.6 384.4,65.0 382.8,65.0 381.3,65.0 379.8,65.0 378.2,65.3 376.7,65.8 375.2,66.5 373.6,67.0 372.1,67.3 370.6,67.4 369.0,67.4 367.5,67.4 366.0,67.7 364.4,68.2 362.9,68.9 361.4,69.4 359.9,69.7 358.3,69.8 356.8,69.8 355.3,69.8 353.7,70.1 352.2,70.6 350.7,71.2 349.1,71.8 347.6,72.1 346.1,72.2 344.5,72.2 343.0,72.2 341.5,72.5 339.9,73.0 338.4,73.6 336.9,74.2 335.3,74.5 333.8,74.6 332.3,74.6 330.8,74.6 329.2,74.8 327.7,75.3 326.2,76.0 324.6,76.6 323.1,76.9 321.6,77.0 320.0,77.0 318.5,77.0 317.0,77.2 315.4,77.7 313.9,78.3 312.4,78.3 310.8,78.1 309.3,77.6 307.8,76.9 306.3,76.3 304.7,75.9 303.2,75.8 301.7,75.8 300.1,75.8 298.6,75.6 297.1,75.1 295.5,74.5 294.0,73.9" fill="#4242a1"/>
<polygon points="294.0,73.7 295.5,74.3 297.1,74.9 298.6,75.4 300.1,75.6 301.7,75.6 303.2,75.6 304.7,75.7 306.3,76.1 307.8,76.7 309.3,77.3 310.8,77.8 312.4,78.0 313.9,78.0 315.4,77.4 317.0,76.9 318.5,76.7 320.0,76.7 321.6,76.7 323.1,76.6 324.6,76.3 326.2,75.7 327.7,75.0 329.2,74.5 330.8,74.3 332.3,74.3 333.8,74.3 335.3,74.2 336.9,73.9 338.4,73.3 339.9,72.7 341.5,72.2 343.0,71.9 344.5,71.9 346.1,71.9 347.6,71.8 349.1,71.5 350.7,70.9 352.2,70.3 353.7,69.8 355.3,69.5 356.8,69.5 358.3,69.5 359.9,69.4 361.4,69.1 362.9,68.6 364.4,67.9 366.0,67.4 367.5,67.1 369.0,67.1 370.6,67.1 372.1,67.0 373.6,66.7 375.2,66.2 376.7,65.5 378.2,65.0 379.8,64.7 381.3,64.7 382.8,64.7 384.4,64.7 385.9,64.3 387.4,63.8 388.9,63.2 390.5,62.6 392.0,62.3 393.5,62.3 395.1,62.3 396.6,62.3 398.1,62.0 399.7,61.4 401.2,60.8 430.0,55.0 430.0,55.8 401.2,61.6 399.7,62.2 398.1,62.8 396.6,63.1 395.1,63.1 393.5,63.1 392.0,63.1 390.5,63.4 388.9,64.0 387.4,64.6 385.9,65.1 384.4,65.5 382.8,65.5 381.3,65.5 379.8,65.5 378.2,65.8 376.7,66.3 375.2,67.0 373.6,67.5 372.1,67.8 370.6,67.9 369.0,67.9 367.5,67.9 366.0,68.2 364.4,68.7 362.9,69.4 361.4,69.9 359.9,70.2 358.3,70.3 356.8,70.3 355.3,70.3 353.7,70.6 352.2,71.1 350.7,71.7 349.1,72.3 347.6,72.6 346.1,72.7 344.5,72.7 343.0,72.7 341.5,73.0 339.9,73.5 338.4,74.1 336.9,74.7 335.3,75.0 333.8,75.1 332.3,75.1 330.8,75.1 329.2,75.3 327.7,75.8 326.2,76.5 324.6,77.1 323.1,77.4 321.6,77.5 320.0,77.5 318.5,77.5 317.0,77.7 315.4,78.2 313.9,78.8 312.4,78.8 310.8,78.5 309.3,78.0 307.8,77.4 306.3,76.8 304.7,76.4 303.2,76.2 301.7,76.2 300.1,76.2 298.6,76.0 297.1,75.5 295.5,74.8 294.0,74.2" fill="#41409f"/>
<polygon points="294.0,74.0 295.5,74.6 297.1,75.3 298.6,75.7 300.1,76.0 301.7,76.0 303.2,76.0 304.7,76.1 306.3,76.5 307.8,77.1 309.3,77.8 310.8,78.2 312.4,78.5 313.9,78.5 315.4,77.9 317.0,77.4 318.5,77.2 320.0,77.2 321.6,77.2 323.1,77.1 324.6,76.8 326.2,76.2 327.7,75.5 329.2,75.0 330.8,74.8 332.3,74.8 333.8,74.8 335.3,74.7 336.9,74.4 338.4,73.8 339.9,73.2 341.5,72.7 343.0,72.4 344.5,72.4 346.1,72.4 347.6,72.3 349.1,72.0 350.7,71.4 352.2,70.8 353.7,70.3 355.3,70.0 356.8,70.0 358.3,70.0 359.9,69.9 361.4,69.6 362.9,69.1 364.4,68.4 366.0,67.9 367.5,67.6 369.0,67.6 370.6,67.6 372.1,67.5 373.6,67.2 375.2,66.7 376.7,66.0 378.2,65.5 379.8,65.2 381.3,65.2 382.8,65.2 384.4,65.2 385.9,64.8 387.4,64.3 388.9,63.7 390.5,63.1 392.0,62.8 393.5,62.8 395.1,62.8 396.6,62.8 398.1,62.5 399.7,61.9 401.2,61.3 430.0,55.5 430.0,56.3 401.2,62.1 399.7,62.7 398.1,63.3 396.6,63.6 395.1,63.6 393.5,63.6 392.0,63.6 390.5,63.9 388.9,64.5 387.4,65.1 385.9,65.6 384.4,66.0 382.8,66.0 381.3,66.0 379.8,66.0 378.2,66.3 376.7,66.8 375.2,67.5 373.6,68.0 372.1,68.3 370.6,68.4 369.0,68.4 367.5,68.4 366.0,68.7 364.4,69.2 362.9,69.9 361.4,70.4 359.9,70.7 358.3,70.8 356.8,70.8 355.3,70.8 353.7,71.1 352.2,71.6 350.7,72.2 349.1,72.8 347.6,73.1 346.1,73.2 344.5,73.2 343.0,73.2 341.5,73.5 339.9,74.0 338.4,74.6 336.9,75.2 335.3,75.5 333.8,75.6 332.3,75.6 330.8,75.6 329.2,75.8 327.7,76.3 326.2,77.0 324.6,77.6 323.1,77.9 321.6,78.0 320.0,78.0 318.5,78.0 317.0,78.2 315.4,78.7 313.9,79.3 312.4,79.3 310.8,79.0 309.3,78.5 307.8,77.8 306.3,77.2 304.7,76.8 303.2,76.6 301.7,76.6 300.1,76.6 298.6,76.3 297.1,75.8 295.5,75.2 294.0,74.5" fill="#403d9c"/>
</g>
<text x="297.80" y="7.60" font-size="7.6" font-family="Liberation Sans, sans-serif" fill="#111" font-weight="bold" textLength="100.50" lengthAdjust="spacingAndGlyphs" >Short-time Fourier Transform</text>
<text x="264.60" y="32.80" font-size="6.5" font-family="Liberation Sans, sans-serif" fill="#2a2a2a" text-anchor="end" >100</text>
<text x="264.60" y="48.10" font-size="6.5" font-family="Liberation Sans, sans-serif" fill="#2a2a2a" text-anchor="end" >50</text>
<text x="264.60" y="63.50" font-size="6.5" font-family="Liberation Sans, sans-serif" fill="#2a2a2a" text-anchor="end" >0</text>
<text x="264.60" y="78.60" font-size="6.5" font-family="Liberation Sans, sans-serif" fill="#2a2a2a" text-anchor="end" >−50</text>
<text x="261.00" y="87.60" font-size="6.5" font-family="Liberation Sans, sans-serif" fill="#2a2a2a" text-anchor="middle" >1</text>
<text x="273.40" y="98.80" font-size="6.5" font-family="Liberation Sans, sans-serif" fill="#2a2a2a" text-anchor="middle" >0.5</text>
<text x="288.00" y="109.60" font-size="6.5" font-family="Liberation Sans, sans-serif" fill="#2a2a2a" text-anchor="middle" >0</text>
<text x="297.00" y="121.60" font-size="6.5" font-family="Liberation Sans, sans-serif" fill="#2a2a2a" text-anchor="middle" >−0.5</text>
<text x="341.60" y="131.30" font-size="6.5" font-family="Liberation Sans, sans-serif" fill="#2a2a2a" text-anchor="middle" >200</text>
<text x="360.80" y="128.30" font-size="6.5" font-family="Liberation Sans, sans-serif" fill="#2a2a2a" text-anchor="middle" >400</text>
<text x="380.00" y="124.30" font-size="6.5" font-family="Liberation Sans, sans-serif" fill="#2a2a2a" text-anchor="middle" >600</text>
<text x="398.80" y="120.60" font-size="6.5" font-family="Liberation Sans, sans-serif" fill="#2a2a2a" text-anchor="middle" >800</text>
<text x="419.50" y="115.90" font-size="6.5" font-family="Liberation Sans, sans-serif" fill="#2a2a2a" text-anchor="middle" >1000</text>
<text x="437.50" y="112.60" font-size="6.5" font-family="Liberation Sans, sans-serif" fill="#2a2a2a" text-anchor="middle" >1200</text>
<text x="386.70" y="137.40" font-size="7.4" font-family="Liberation Sans, sans-serif" fill="#2a2a2a" text-anchor="middle" >Samples</text>
<text x="224.50" y="149.80" font-size="7.4" font-family="Liberation Sans, sans-serif" fill="#2a2a2a" textLength="139.50" lengthAdjust="spacingAndGlyphs" >Normalized Frequency (×π radians/sample)</text>
<linearGradient id="cbh" x1="0" y1="1" x2="0" y2="0">
<stop offset="0.000" stop-color="#3f3a9b"/>
<stop offset="0.083" stop-color="#404db2"/>
<stop offset="0.167" stop-color="#3b63c3"/>
<stop offset="0.250" stop-color="#317fd0"/>
<stop offset="0.333" stop-color="#2a9ad8"/>
<stop offset="0.417" stop-color="#27aed0"/>
<stop offset="0.500" stop-color="#38b8b2"/>
<stop offset="0.583" stop-color="#64c08c"/>
<stop offset="0.667" stop-color="#9cc862"/>
<stop offset="0.750" stop-color="#cfc347"/>
<stop offset="0.833" stop-color="#f0ba3e"/>
<stop offset="0.917" stop-color="#f6ca3a"/>
<stop offset="1.000" stop-color="#f0ea3c"/>
</linearGradient>
<rect x="438.4" y="9.8" width="6.3" height="114.2" fill="url(#cbh)"/>
<text x="446.90" y="126.30" font-size="6.5" font-family="Liberation Sans, sans-serif" fill="#2a2a2a" >30</text>
<text x="446.90" y="107.30" font-size="6.5" font-family="Liberation Sans, sans-serif" fill="#2a2a2a" >40</text>
<text x="446.90" y="88.30" font-size="6.5" font-family="Liberation Sans, sans-serif" fill="#2a2a2a" >50</text>
<text x="446.90" y="69.30" font-size="6.5" font-family="Liberation Sans, sans-serif" fill="#2a2a2a" >60</text>
<text x="446.90" y="50.30" font-size="6.5" font-family="Liberation Sans, sans-serif" fill="#2a2a2a" >70</text>
<text x="446.90" y="31.30" font-size="6.5" font-family="Liberation Sans, sans-serif" fill="#2a2a2a" >80</text>
<text x="459.60" y="68.00" font-size="6.2" font-family="Liberation Sans, sans-serif" fill="#2a2a2a" text-anchor="middle" textLength="38.00" lengthAdjust="spacingAndGlyphs" transform="rotate(-90 459.60 68.00)" >Magnitude (dB)</text>
<text x="290" y="164.5" font-size="11.6" font-family="Liberation Serif, serif" fill="#1a1a1a" textLength="116.8" lengthAdjust="spacingAndGlyphs"><tspan font-weight="bold">(h)</tspan> Transient PQD STFT</text>
<path d="M284.8,215.9 L402.3,208.6 L426.8,241.4 M284.8,241.3 L402.3,234.0 L426.8,266.8 M284.8,266.7 L402.3,259.4 L426.8,292.2 M284.8,292.1 L402.3,284.8 L426.8,317.6 M310.9,297.0 v-84.5 M310.9,297.0 L335.4,329.8 M337.0,295.4 v-84.5 M337.0,295.4 L361.5,328.2 M363.1,293.7 v-84.5 M363.1,293.7 L387.6,326.5 M389.2,292.1 v-84.5 M389.2,292.1 L413.7,324.9 M426.8,324.1 v-84.5 M284.8,298.6 L402.3,291.3 M420.7,315.9 v-84.5 M290.9,306.8 L408.4,299.5 M414.6,307.7 v-84.5 M297.1,315.0 L414.6,307.7 M408.4,299.5 v-84.5 M303.2,323.2 L420.7,315.9 M402.3,291.3 v-84.5" stroke="#f5f5f5" stroke-width="0.6" fill="none"/>
<path d="M284.8,214.10000000000002 L284.8,298.6 L309.3,331.4 L426.8,324.1" stroke="#b0b0b0" stroke-width="0.7" fill="none"/>
<polygon points="284.6,256.5 286.0,255.0 287.2,257.0 288.6,255.2 290.0,256.8 291.5,254.8 293.0,256.0 294.5,254.6 296.4,255.5 296.4,266.0 295.2,270.0 294.3,264.5 293.0,267.0 291.6,263.5 290.0,266.5 288.8,263.0 287.4,264.5 286.0,262.0 284.6,263.0" fill="#3e40a2"/>
<clipPath id="cj"><path d="M296.3,240.0 L297.1,240.9 L297.9,242.0 L298.7,242.7 L299.5,242.4 L300.3,241.5 L301.1,240.3 L301.9,239.6 L302.7,239.8 L303.6,240.6 L304.4,241.7 L305.2,242.4 L306.0,242.2 L306.8,241.2 L307.6,240.1 L308.4,239.4 L309.2,239.5 L310.0,240.4 L310.8,241.5 L311.6,242.1 L312.4,241.9 L313.2,241.0 L314.0,239.8 L314.8,239.1 L315.6,239.2 L316.5,240.1 L317.3,241.2 L318.1,241.9 L318.9,241.7 L319.7,240.8 L320.5,239.6 L321.3,238.8 L322.1,238.9 L322.9,239.8 L323.7,240.9 L324.5,241.6 L325.3,241.4 L326.1,240.5 L326.9,239.4 L327.7,238.6 L328.5,238.7 L329.4,239.5 L330.2,240.6 L331.0,241.3 L331.8,241.2 L332.6,240.3 L333.4,239.1 L334.2,238.3 L335.0,238.4 L335.8,239.2 L336.6,240.3 L337.4,241.0 L338.2,240.9 L339.0,240.0 L339.8,238.9 L340.6,238.1 L341.4,238.1 L342.3,238.9 L343.1,240.0 L343.9,240.8 L344.7,240.7 L345.5,239.8 L346.3,238.6 L347.1,237.8 L347.9,237.8 L348.7,238.6 L349.5,239.7 L350.3,240.5 L351.1,240.4 L351.9,239.6 L352.7,238.4 L353.5,237.6 L354.3,237.6 L355.1,238.3 L356.0,239.5 L356.8,240.2 L357.6,240.2 L358.4,239.3 L359.2,238.2 L360.0,237.3 L360.8,237.3 L361.6,238.1 L362.4,239.2 L363.2,240.0 L364.0,239.9 L364.8,239.1 L365.6,237.9 L366.4,237.1 L367.2,237.0 L368.0,237.8 L368.9,238.9 L369.7,239.7 L370.5,239.7 L371.3,238.9 L372.1,237.7 L372.9,236.8 L373.7,236.7 L374.5,237.5 L375.3,238.6 L376.1,239.4 L376.9,239.4 L377.7,238.6 L378.5,237.4 L379.3,236.6 L380.1,236.5 L380.9,237.2 L381.8,238.3 L382.6,239.1 L383.4,239.2 L384.2,238.4 L385.0,237.2 L385.8,236.3 L386.6,236.2 L387.4,236.9 L388.2,238.0 L389.0,238.9 L389.8,238.9 L390.6,238.1 L391.4,237.0 L392.2,236.1 L393.0,235.9 L393.8,236.6 L394.7,237.7 L395.5,238.6 L396.3,238.7 L397.1,237.9 L397.9,236.7 L398.7,235.8 L399.5,235.7 L400.3,236.3 L401.1,237.4 L401.9,238.3 L402.7,238.4 L403.5,237.7 L404.3,236.5 L405.1,235.6 L405.9,235.4 L406.7,236.1 L407.6,237.2 L408.4,238.0 L409.2,238.1 L410.0,237.4 L410.8,236.2 L411.6,235.3 L412.4,235.1 L413.2,235.8 L414.0,236.9 L414.6,246.0 L415.0,255.0 L416.3,270.0 L418.0,285.0 L420.0,293.0 L422.0,301.0 L424.0,310.0 L426.0,318.5 L426.0,320.0 L425.2,318.7 L424.4,317.5 L423.6,316.8 L422.8,316.6 L421.9,316.9 L421.1,317.8 L420.3,319.0 L419.5,320.3 L418.7,319.0 L417.9,317.9 L417.1,317.1 L416.3,316.9 L415.5,317.3 L414.6,318.2 L413.8,319.4 L413.0,320.6 L412.2,319.3 L411.4,318.2 L410.6,317.5 L409.8,317.3 L409.0,317.7 L408.1,318.6 L407.3,319.8 L406.5,320.9 L405.7,319.6 L404.9,318.5 L404.1,317.8 L403.3,317.7 L402.5,318.1 L401.7,319.0 L400.8,320.3 L400.0,321.2 L399.2,319.9 L398.4,318.8 L397.6,318.2 L397.4,324.5 L396.6,319.0 L394.5,310.0 L392.0,301.0 L390.0,293.0 L388.0,286.5 L386.0,290.0 L384.5,286.0 L382.0,289.0 L380.0,285.5 L378.0,288.0 L376.0,287.0 L375.0,295.2 L374.0,286.0 L371.0,284.0 L369.0,280.5 L367.0,279.0 L365.0,281.5 L363.2,285.5 L362.5,280.0 L360.0,278.5 L357.0,279.5 L354.5,278.0 L352.0,281.0 L350.5,279.0 L349.2,285.0 L348.0,281.0 L346.0,283.5 L344.0,282.0 L342.0,286.0 L340.0,284.5 L338.5,288.5 L337.0,285.5 L335.0,288.0 L333.0,287.0 L331.5,292.5 L330.0,288.0 L328.0,290.5 L326.0,289.0 L324.5,293.8 L323.0,289.5 L321.0,291.5 L319.0,290.0 L317.6,294.0 L316.0,290.5 L314.0,292.0 L312.5,290.5 L311.2,293.5 L309.5,291.0 L307.9,289.9 L304.0,281.5 L300.0,273.0 L296.3,265.0 Z"/></clipPath>
<path d="M297.1,245.8 L297.1,245.8 L297.9,245.8 L298.7,245.8 L299.5,245.8 L300.3,245.8 L301.1,245.8 L301.9,245.8 L302.7,245.8 L303.6,245.8 L304.4,245.8 L305.2,245.8 L306.0,245.8 L306.8,245.8 L307.6,245.8 L308.4,245.8 L309.2,245.8 L310.0,245.8 L310.8,245.8 L311.6,245.8 L312.4,245.8 L313.2,245.8 L314.0,245.8 L314.8,245.8 L315.6,245.8 L316.5,245.8 L317.3,245.8 L318.1,245.8 L318.9,245.8 L319.7,245.8 L320.5,245.8 L321.3,245.8 L322.1,245.8 L322.9,245.8 L323.7,245.8 L324.5,245.8 L325.3,245.8 L326.1,245.8 L326.9,245.8 L327.7,245.8 L328.5,245.8 L329.4,245.8 L330.2,245.8 L331.0,245.8 L331.8,245.8 L332.6,245.8 L333.4,245.8 L334.2,245.8 L335.0,245.8 L335.8,245.8 L336.6,245.8 L337.4,245.8 L338.2,245.8 L339.0,245.8 L339.8,245.8 L340.6,245.8 L341.4,245.8 L342.3,245.8 L343.1,245.8 L343.9,245.8 L344.7,245.8 L345.5,245.8 L346.3,245.8 L347.1,245.8 L347.9,245.8 L348.7,245.8 L349.5,245.8 L350.3,245.8 L351.1,245.8 L351.9,245.8 L352.7,245.8 L353.5,245.8 L354.3,245.8 L355.1,245.8 L356.0,245.8 L356.8,245.8 L357.6,245.8 L358.4,245.8 L359.2,245.8 L360.0,245.8 L360.8,245.8 L361.6,245.8 L362.4,245.8 L363.2,245.8 L364.0,245.8 L364.8,245.8 L365.6,245.8 L366.4,245.8 L367.2,245.8 L368.0,245.8 L368.9,245.8 L369.7,245.8 L370.5,245.8 L371.3,245.8 L372.1,245.8 L372.9,245.8 L373.7,245.8 L374.5,245.8 L375.3,245.8 L376.1,245.8 L376.9,245.8 L377.7,245.8 L378.5,245.8 L379.3,245.8 L380.1,245.8 L380.9,245.8 L381.8,245.8 L382.6,245.8 L383.4,245.8 L384.2,245.8 L385.0,245.8 L385.8,245.8 L386.6,245.8 L387.4,245.8 L388.2,245.8 L389.0,245.8 L389.8,245.8 L390.6,245.8 L391.4,245.8 L392.2,245.8 L393.0,245.8 L393.8,245.8 L394.7,245.8 L395.5,245.8 L396.3,245.8 L397.1,245.8 L397.9,245.8 L398.7,245.8 L399.5,245.8 L400.3,245.8 L401.1,245.8 L401.9,245.8 L402.7,245.8 L403.5,245.8 L404.3,245.8 L405.1,245.8 L405.9,245.8 L406.7,245.8 L407.6,245.8 L408.4,245.8 L409.2,245.8 L410.0,245.8 L410.8,245.8 L411.6,245.8 L412.4,245.8 L413.2,245.8 L414.0,245.8 L415.0,255.0 L416.3,270.0 L418.0,285.0 L420.0,293.0 L422.0,301.0 L424.0,310.0 L426.0,318.5 L426.0,320.0 L425.2,318.7 L424.4,317.5 L423.6,316.8 L422.8,316.6 L421.9,316.9 L421.1,317.8 L420.3,319.0 L419.5,320.3 L418.7,319.0 L417.9,317.9 L417.1,317.1 L416.3,316.9 L415.5,317.3 L414.6,318.2 L413.8,319.4 L413.0,320.6 L412.2,319.3 L411.4,318.2 L410.6,317.5 L409.8,317.3 L409.0,317.7 L408.1,318.6 L407.3,319.8 L406.5,320.9 L405.7,319.6 L404.9,318.5 L404.1,317.8 L403.3,317.7 L402.5,318.1 L401.7,319.0 L400.8,320.3 L400.0,321.2 L399.2,319.9 L398.4,318.8 L397.6,318.2 L397.4,324.5 L396.6,319.0 L394.5,310.0 L392.0,301.0 L390.0,293.0 L388.0,286.5 L386.0,290.0 L384.5,286.0 L382.0,289.0 L380.0,285.5 L378.0,288.0 L376.0,287.0 L375.0,295.2 L374.0,286.0 L371.0,284.0 L369.0,280.5 L367.0,279.0 L365.0,281.5 L363.2,285.5 L362.5,280.0 L360.0,278.5 L357.0,279.5 L354.5,278.0 L352.0,281.0 L350.5,279.0 L349.2,285.0 L348.0,281.0 L346.0,283.5 L344.0,282.0 L342.0,286.0 L340.0,284.5 L338.5,288.5 L337.0,285.5 L335.0,288.0 L333.0,287.0 L331.5,292.5 L330.0,288.0 L328.0,290.5 L326.0,289.0 L324.5,293.8 L323.0,289.5 L321.0,291.5 L319.0,290.0 L317.6,294.0 L316.0,290.5 L314.0,292.0 L312.5,290.5 L311.2,293.5 L309.5,291.0 L307.9,289.9 L304.0,281.5 L300.0,273.0 L297.1,265.0 Z" fill="#403c9b"/>
<g clip-path="url(#cj)">
<polygon points="296.3,239.6 414.0,234.8 430.0,234.2 430.0,235.0 414.0,235.6 296.3,240.4" fill="#f8e32c"/>
<polygon points="296.3,240.1 414.0,235.3 430.0,234.7 430.0,235.5 414.0,236.1 296.3,240.9" fill="#f7e02d"/>
<polygon points="296.3,240.6 414.0,235.8 430.0,235.2 430.0,236.0 414.0,236.6 296.3,241.4" fill="#f6dd2d"/>
<polygon points="296.3,241.1 414.0,236.3 430.0,235.7 430.0,236.5 414.0,237.1 296.3,241.9" fill="#f5da2e"/>
<polygon points="296.3,241.6 414.0,236.8 430.0,236.2 430.0,237.0 414.0,237.6 296.3,242.4" fill="#f5d72f"/>
<polygon points="296.3,242.1 414.0,237.3 430.0,236.7 430.0,237.5 414.0,238.1 296.3,242.9" fill="#f4d42f"/>
<polygon points="296.3,242.6 414.0,237.8 430.0,237.2 430.0,238.0 414.0,238.6 296.3,243.4" fill="#f3d130"/>
<polygon points="296.3,243.1 414.0,238.3 430.0,237.7 430.0,238.5 414.0,239.1 296.3,243.9" fill="#9fcc45"/>
<polygon points="296.3,243.6 414.0,238.8 430.0,238.2 430.0,239.0 414.0,239.6 296.3,244.4" fill="#92cc49"/>
<polygon points="296.3,244.1 414.0,239.3 430.0,238.7 430.0,239.5 414.0,240.1 296.3,244.9" fill="#90cb4a"/>
<polygon points="296.3,244.6 414.0,239.8 430.0,239.2 430.0,240.0 414.0,240.6 296.3,245.4" fill="#8fcb4c"/>
<polygon points="296.3,245.1 414.0,240.3 430.0,239.7 430.0,240.5 414.0,241.1 296.3,245.9" fill="#8dca4d"/>
<polygon points="296.3,245.6 414.0,240.8 430.0,240.2 430.0,241.0 414.0,241.6 296.3,246.4" fill="#8cca4e"/>
<polygon points="296.3,246.1 414.0,241.3 430.0,240.7 430.0,241.5 414.0,242.1 296.3,246.9" fill="#8ac94f"/>
<polygon points="296.3,246.6 414.0,241.8 430.0,241.2 430.0,242.0 414.0,242.6 296.3,247.4" fill="#89c950"/>
<polygon points="296.3,247.1 414.0,242.3 430.0,241.7 430.0,242.5 414.0,243.1 296.3,247.9" fill="#87c852"/>
<polygon points="296.3,247.6 414.0,242.8 430.0,242.2 430.0,243.0 414.0,243.6 296.3,248.4" fill="#86c853"/>
<polygon points="296.3,248.1 414.0,243.3 430.0,242.7 430.0,243.5 414.0,244.1 296.3,248.9" fill="#84c854"/>
<polygon points="296.3,248.6 414.0,243.8 430.0,243.2 430.0,244.0 414.0,244.6 296.3,249.4" fill="#82c755"/>
<polygon points="296.3,249.1 414.0,244.3 430.0,243.7 430.0,244.5 414.0,245.1 296.3,249.9" fill="#81c756"/>
<polygon points="296.3,249.6 414.0,244.8 430.0,244.2 430.0,245.0 414.0,245.6 296.3,250.4" fill="#7fc658"/>
<polygon points="296.3,250.1 414.0,245.3 430.0,244.7 430.0,245.5 414.0,246.1 296.3,250.9" fill="#47bda1"/>
<polygon points="296.3,250.6 414.0,245.8 430.0,245.2 430.0,246.0 414.0,246.6 296.3,251.4" fill="#1fb5d6"/>
<polygon points="296.3,251.1 414.0,246.3 430.0,245.7 430.0,246.5 414.0,247.1 296.3,251.9" fill="#20b4d7"/>
<polygon points="296.3,251.6 414.0,246.8 430.0,246.2 430.0,247.0 414.0,247.6 296.3,252.4" fill="#20b3d7"/>
<polygon points="296.3,252.1 414.0,247.3 430.0,246.7 430.0,247.5 414.0,248.1 296.3,252.9" fill="#21b2d7"/>
<polygon points="296.3,252.6 414.0,247.8 430.0,247.2 430.0,248.0 414.0,248.6 296.3,253.4" fill="#21b1d8"/>
<polygon points="296.3,253.1 414.0,248.3 430.0,247.7 430.0,248.5 414.0,249.1 296.3,253.9" fill="#22b0d8"/>
<polygon points="296.3,253.6 414.0,248.8 430.0,248.2 430.0,249.0 414.0,249.6 296.3,254.4" fill="#22afd9"/>
<polygon points="296.3,254.1 414.0,249.3 430.0,248.7 430.0,249.5 414.0,250.1 296.3,254.9" fill="#23aed9"/>
<polygon points="296.3,254.6 414.0,249.8 430.0,249.2 430.0,250.0 414.0,250.6 296.3,255.4" fill="#23add9"/>
<polygon points="296.3,255.1 414.0,250.3 430.0,249.7 430.0,250.5 414.0,251.1 296.3,255.9" fill="#23acda"/>
<polygon points="296.3,255.6 414.0,250.8 430.0,250.2 430.0,251.0 414.0,251.6 296.3,256.4" fill="#24abda"/>
<polygon points="296.3,256.1 414.0,251.3 430.0,250.7 430.0,251.5 414.0,252.1 296.3,256.9" fill="#24aadb"/>
<polygon points="296.3,256.6 414.0,251.8 430.0,251.2 430.0,252.0 414.0,252.6 296.3,257.4" fill="#25a8db"/>
<polygon points="296.3,257.1 414.0,252.3 430.0,251.7 430.0,252.5 414.0,253.1 296.3,257.9" fill="#25a7db"/>
<polygon points="296.3,257.6 414.0,252.8 430.0,252.2 430.0,253.0 414.0,253.6 296.3,258.4" fill="#26a6dc"/>
<polygon points="296.3,258.1 414.0,253.3 430.0,252.7 430.0,253.5 414.0,254.1 296.3,258.9" fill="#2a98d9"/>
<polygon points="296.3,258.6 414.0,253.8 430.0,253.2 430.0,254.0 414.0,254.6 296.3,259.4" fill="#2f86d6"/>
<polygon points="296.3,259.1 414.0,254.3 430.0,253.7 430.0,254.5 414.0,255.1 296.3,259.9" fill="#3182d3"/>
<polygon points="296.3,259.6 414.0,254.8 430.0,254.2 430.0,255.0 414.0,255.6 296.3,260.4" fill="#327ed1"/>
<polygon points="296.3,260.1 414.0,255.3 430.0,254.7 430.0,255.5 414.0,256.1 296.3,260.9" fill="#347ace"/>
<polygon points="296.3,260.6 414.0,255.8 430.0,255.2 430.0,256.0 414.0,256.6 296.3,261.4" fill="#3577cb"/>
<polygon points="296.3,261.1 414.0,256.3 430.0,255.7 430.0,256.5 414.0,257.1 296.3,261.9" fill="#3773c9"/>
<polygon points="296.3,261.6 414.0,256.8 430.0,256.2 430.0,257.0 414.0,257.6 296.3,262.4" fill="#396fc6"/>
<polygon points="296.3,262.1 414.0,257.3 430.0,256.7 430.0,257.5 414.0,258.1 296.3,262.9" fill="#3a6cc4"/>
<polygon points="296.3,262.6 414.0,257.8 430.0,257.2 430.0,258.0 414.0,258.6 296.3,263.4" fill="#3a69c2"/>
<polygon points="296.3,263.1 414.0,258.3 430.0,257.7 430.0,258.5 414.0,259.1 296.3,263.9" fill="#3a66c0"/>
<polygon points="296.3,263.6 414.0,258.8 430.0,258.2 430.0,259.0 414.0,259.6 296.3,264.4" fill="#3b64be"/>
<polygon points="296.3,264.1 414.0,259.3 430.0,258.7 430.0,259.5 414.0,260.1 296.3,264.9" fill="#3b61bc"/>
<polygon points="296.3,264.6 414.0,259.8 430.0,259.2 430.0,260.0 414.0,260.6 296.3,265.4" fill="#3b5eba"/>
<polygon points="296.3,265.1 414.0,260.3 430.0,259.7 430.0,260.5 414.0,261.1 296.3,265.9" fill="#3b5cb8"/>
<polygon points="296.3,265.6 414.0,260.8 430.0,260.2 430.0,261.0 414.0,261.6 296.3,266.4" fill="#3c59b7"/>
<polygon points="296.3,266.1 414.0,261.3 430.0,260.7 430.0,261.5 414.0,262.1 296.3,266.9" fill="#3c56b5"/>
<polygon points="296.3,266.6 414.0,261.8 430.0,261.2 430.0,262.0 414.0,262.6 296.3,267.4" fill="#3c54b3"/>
<polygon points="296.3,267.1 414.0,262.3 430.0,261.7 430.0,262.5 414.0,263.1 296.3,267.9" fill="#3c53b2"/>
<polygon points="296.3,267.6 414.0,262.8 430.0,262.2 430.0,263.0 414.0,263.6 296.3,268.4" fill="#3c51b0"/>
<polygon points="296.3,268.1 414.0,263.3 430.0,262.7 430.0,263.5 414.0,264.1 296.3,268.9" fill="#3c50af"/>
<polygon points="296.3,268.6 414.0,263.8 430.0,263.2 430.0,264.0 414.0,264.6 296.3,269.4" fill="#3c4fae"/>
<polygon points="296.3,269.1 414.0,264.3 430.0,263.7 430.0,264.5 414.0,265.1 296.3,269.9" fill="#3d4ead"/>
<polygon points="296.3,269.6 414.0,264.8 430.0,264.2 430.0,265.0 414.0,265.6 296.3,270.4" fill="#3d4dac"/>
<polygon points="296.3,270.1 414.0,265.3 430.0,264.7 430.0,265.5 414.0,266.1 296.3,270.9" fill="#3d4baa"/>
<polygon points="296.3,270.6 414.0,265.8 430.0,265.2 430.0,266.0 414.0,266.6 296.3,271.4" fill="#3d4aa9"/>
<polygon points="296.3,271.1 414.0,266.3 430.0,265.7 430.0,266.5 414.0,267.1 296.3,271.9" fill="#3d49a8"/>
<polygon points="296.3,271.6 414.0,266.8 430.0,266.2 430.0,267.0 414.0,267.6 296.3,272.4" fill="#3d48a7"/>
<polygon points="296.3,272.1 414.0,267.3 430.0,266.7 430.0,267.5 414.0,268.1 296.3,272.9" fill="#3d47a6"/>
<polygon points="296.3,272.6 414.0,267.8 430.0,267.2 430.0,268.0 414.0,268.6 296.3,273.4" fill="#3d46a5"/>
<polygon points="296.3,273.1 414.0,268.3 430.0,267.7 430.0,268.5 414.0,269.1 296.3,273.9" fill="#3e45a4"/>
<polygon points="296.3,273.6 414.0,268.8 430.0,268.2 430.0,269.0 414.0,269.6 296.3,274.4" fill="#3e44a3"/>
<polygon points="296.3,274.1 414.0,269.3 430.0,268.7 430.0,269.5 414.0,270.1 296.3,274.9" fill="#3e44a3"/>
<polygon points="296.3,274.6 414.0,269.8 430.0,269.2 430.0,270.0 414.0,270.6 296.3,275.4" fill="#3e43a2"/>
<polygon points="296.3,275.1 414.0,270.3 430.0,269.7 430.0,270.5 414.0,271.1 296.3,275.9" fill="#3f42a1"/>
<polygon points="296.3,275.6 414.0,270.8 430.0,270.2 430.0,271.0 414.0,271.6 296.3,276.4" fill="#3f41a0"/>
<polygon points="296.3,276.1 414.0,271.3 430.0,270.7 430.0,271.5 414.0,272.1 296.3,276.9" fill="#3f409f"/>
<polygon points="296.3,276.6 414.0,271.8 430.0,271.2 430.0,272.0 414.0,272.6 296.3,277.4" fill="#3f3f9e"/>
<polygon points="296.3,277.1 414.0,272.3 430.0,271.7 430.0,272.5 414.0,273.1 296.3,277.9" fill="#3f3e9d"/>
<polygon points="296.3,277.6 414.0,272.8 430.0,272.2 430.0,273.0 414.0,273.6 296.3,278.4" fill="#403e9d"/>
<polygon points="296.3,278.1 414.0,273.3 430.0,272.7 430.0,273.5 414.0,274.1 296.3,278.9" fill="#403d9c"/>
<polygon points="296.3,278.6 414.0,273.8 430.0,273.2 430.0,274.0 414.0,274.6 296.3,279.4" fill="#403d9c"/>
</g>
<g clip-path="url(#cj)">
<linearGradient id="gj2" x1="0" y1="0" x2="1" y2="0"><stop offset="0" stop-color="#fff" stop-opacity="0"/><stop offset="0.4" stop-color="#fff" stop-opacity="1"/><stop offset="1" stop-color="#fff" stop-opacity="1"/></linearGradient>
<linearGradient id="gj4" x1="0" y1="0" x2="0" y2="1"><stop offset="0" stop-color="#403c9b" stop-opacity="0"/><stop offset="0.13" stop-color="#403c9b" stop-opacity="1"/><stop offset="1" stop-color="#403c9b" stop-opacity="1"/></linearGradient>
<mask id="mj" maskUnits="userSpaceOnUse" x="370" y="250" width="62" height="82"><rect x="372" y="250" width="60" height="82" fill="url(#gj2)"/></mask>
<g mask="url(#mj)"><rect x="372" y="256.5" width="60" height="75" fill="url(#gj4)"/></g>
<linearGradient id="gj3" x1="0" y1="0" x2="0" y2="1"><stop offset="0" stop-color="#403c9b" stop-opacity="0"/><stop offset="1" stop-color="#403c9b" stop-opacity="0.9"/></linearGradient>
<rect x="296" y="266" width="100" height="30" fill="url(#gj3)"/>
<path d="M293.0,251.6 l8.6,18.7 M299.5,250.3 l11.6,25.1 M305.9,252.1 l14.2,30.9 M312.4,252.9 l10.6,23.1 M318.9,250.7 l8.3,18.1 M325.4,253.2 l10.4,22.7 M331.8,253.4 l10.9,23.7 M338.3,254.0 l13.1,28.6 M344.8,253.6 l9.7,21.2 M351.2,250.8 l11.4,24.8 M357.7,254.4 l10.0,21.6 M364.2,254.2 l15.2,33.0 M370.6,253.2 l15.6,33.9 M377.1,250.1 l11.2,24.3 M383.6,250.6 l9.4,20.5 M390.1,252.7 l14.7,31.9" stroke="#2c318c" stroke-width="2.0" opacity="0.22" fill="none"/>
<path d="M295.1,258.9 l5.1,11.2 M301.6,255.2 l7.8,16.9 M308.0,255.7 l6.2,13.6 M314.5,260.9 l4.9,10.7 M321.0,256.9 l10.6,23.1 M327.5,258.3 l5.1,11.0 M333.9,256.9 l8.9,19.4 M340.4,256.5 l8.8,19.2 M346.9,260.9 l5.5,11.9 M353.3,255.2 l9.5,20.7 M359.8,259.2 l9.0,19.5 M366.3,257.8 l9.5,20.6 M372.7,259.9 l6.7,14.6 M379.2,256.0 l5.5,11.9 M385.7,257.3 l11.0,23.9 M392.2,259.9 l11.0,23.8" stroke="#49a0e0" stroke-width="1.7" opacity="0.22" fill="none"/>
<path d="M297.3,262.3 l5.7,12.4 M303.8,258.6 l4.2,9.1 M310.2,263.0 l8.9,19.4 M316.7,264.9 l5.3,11.5 M323.2,259.4 l6.9,15.0 M329.7,258.5 l4.8,10.5 M336.1,261.6 l5.3,11.6 M342.6,262.2 l8.5,18.5 M349.1,261.3 l7.9,17.1 M355.5,264.1 l6.8,14.9 M362.0,262.6 l6.2,13.5 M368.5,258.5 l7.6,16.4 M374.9,261.1 l7.4,16.0 M381.4,258.5 l7.9,17.2 M387.9,258.6 l6.2,13.4 M394.4,260.2 l6.0,13.0" stroke="#33359a" stroke-width="1.5" opacity="0.22" fill="none"/>
</g>
<text x="306.00" y="210.00" font-size="7.6" font-family="Liberation Sans, sans-serif" fill="#111" font-weight="bold" textLength="100.50" lengthAdjust="spacingAndGlyphs" >Short-time Fourier Transform</text>
<text x="281.40" y="218.10" font-size="6.5" font-family="Liberation Sans, sans-serif" fill="#2a2a2a" text-anchor="end" >100</text>
<text x="281.40" y="244.90" font-size="6.5" font-family="Liberation Sans, sans-serif" fill="#2a2a2a" text-anchor="end" >50</text>
<text x="281.40" y="269.00" font-size="6.5" font-family="Liberation Sans, sans-serif" fill="#2a2a2a" text-anchor="end" >0</text>
<text x="281.40" y="294.40" font-size="6.5" font-family="Liberation Sans, sans-serif" fill="#2a2a2a" text-anchor="end" >−50</text>
<text x="277.50" y="306.30" font-size="6.5" font-family="Liberation Sans, sans-serif" fill="#2a2a2a" text-anchor="middle" >1</text>
<text x="280.90" y="314.30" font-size="6.5" font-family="Liberation Sans, sans-serif" fill="#2a2a2a" text-anchor="middle" >0.5</text>
<text x="289.40" y="322.60" font-size="6.5" font-family="Liberation Sans, sans-serif" fill="#2a2a2a" text-anchor="middle" >0</text>
<text x="292.50" y="330.80" font-size="6.5" font-family="Liberation Sans, sans-serif" fill="#2a2a2a" text-anchor="middle" >−0.5</text>
<text x="339.00" y="341.20" font-size="6.5" font-family="Liberation Sans, sans-serif" fill="#2a2a2a" text-anchor="middle" >500</text>
<text x="366.80" y="339.30" font-size="6.5" font-family="Liberation Sans, sans-serif" fill="#2a2a2a" text-anchor="middle" >1000</text>
<text x="392.40" y="338.10" font-size="6.5" font-family="Liberation Sans, sans-serif" fill="#2a2a2a" text-anchor="middle" >1500</text>
<text x="417.70" y="336.80" font-size="6.5" font-family="Liberation Sans, sans-serif" fill="#2a2a2a" text-anchor="middle" >2000</text>
<text x="377.10" y="348.10" font-size="7.2" font-family="Liberation Sans, sans-serif" fill="#2a2a2a" text-anchor="middle" >Samples</text>
<text x="227.90" y="356.40" font-size="7.2" font-family="Liberation Sans, sans-serif" fill="#2a2a2a" textLength="134.70" lengthAdjust="spacingAndGlyphs" >Normalized Frequency (×π radians/sample)</text>
<linearGradient id="cbj" x1="0" y1="1" x2="0" y2="0">
<stop offset="0.000" stop-color="#3f3a9b"/>
<stop offset="0.083" stop-color="#404db2"/>
<stop offset="0.167" stop-color="#3b63c3"/>
<stop offset="0.250" stop-color="#317fd0"/>
<stop offset="0.333" stop-color="#2a9ad8"/>
<stop offset="0.417" stop-color="#27aed0"/>
<stop offset="0.500" stop-color="#38b8b2"/>
<stop offset="0.583" stop-color="#64c08c"/>
<stop offset="0.667" stop-color="#9cc862"/>
<stop offset="0.750" stop-color="#cfc347"/>
<stop offset="0.833" stop-color="#f0ba3e"/>
<stop offset="0.917" stop-color="#f6ca3a"/>
<stop offset="1.000" stop-color="#f0ea3c"/>
</linearGradient>
<rect x="436.6" y="212.1" width="5.7" height="119.1" fill="url(#cbj)"/>
<text x="444.50" y="333.90" font-size="6.5" font-family="Liberation Sans, sans-serif" fill="#2a2a2a" >30</text>
<text x="444.50" y="313.90" font-size="6.5" font-family="Liberation Sans, sans-serif" fill="#2a2a2a" >40</text>
<text x="444.50" y="293.90" font-size="6.5" font-family="Liberation Sans, sans-serif" fill="#2a2a2a" >50</text>
<text x="444.50" y="273.90" font-size="6.5" font-family="Liberation Sans, sans-serif" fill="#2a2a2a" >60</text>
<text x="444.50" y="253.90" font-size="6.5" font-family="Liberation Sans, sans-serif" fill="#2a2a2a" >70</text>
<text x="444.50" y="233.90" font-size="6.5" font-family="Liberation Sans, sans-serif" fill="#2a2a2a" >80</text>
<text x="457.80" y="271.50" font-size="6.2" font-family="Liberation Sans, sans-serif" fill="#2a2a2a" text-anchor="middle" textLength="41.00" lengthAdjust="spacingAndGlyphs" transform="rotate(-90 457.80 271.50)" >Magnitude (dB)</text>
<text x="299" y="371.8" font-size="11.6" font-family="Liberation Serif, serif" fill="#1a1a1a" textLength="99.3" lengthAdjust="spacingAndGlyphs"><tspan font-weight="bold">(j)</tspan> Notch PQD STFT</text>
<path d="M291.6,393.4 L407.2,392.7 L423.6,405.1 M291.6,412.3 L407.2,411.6 L423.6,424.0 M291.6,431.2 L407.2,430.5 L423.6,442.9 M291.6,450.1 L407.2,449.4 L423.6,461.8 M291.6,469.0 L407.2,468.3 L423.6,480.7 M291.6,487.9 L407.2,487.2 L423.6,499.6 M316.7,490.6 v-99 M316.7,490.6 L333.1,503.0 M341.9,490.5 v-99 M341.9,490.5 L358.3,502.9 M367.0,490.3 v-99 M367.0,490.3 L383.4,502.7 M392.1,490.2 v-99 M392.1,490.2 L408.5,502.6 M423.6,502.5 v-99 M291.6,490.8 L407.2,490.1 M419.5,499.4 v-99 M295.7,493.9 L411.3,493.2 M415.4,496.3 v-99 M299.8,497.0 L415.4,496.3 M411.3,493.2 v-99 M303.9,500.1 L419.5,499.4 M407.2,490.1 v-99" stroke="#f5f5f5" stroke-width="0.6" fill="none"/>
<path d="M291.6,391.8 L291.6,490.8 L308.0,503.2 L423.6,502.5" stroke="#b0b0b0" stroke-width="0.7" fill="none"/>
<clipPath id="cl"><path d="M291.4,450.6 L299.6,450.0 L300.2,436.0 L300.8,427.1 L302.5,430.0 L304.2,433.0 L304.2,431.4 L305.0,430.9 L305.8,431.3 L306.6,432.3 L307.4,433.4 L308.2,433.9 L309.0,433.5 L309.8,432.5 L310.6,431.4 L311.4,430.9 L312.2,431.3 L312.9,432.3 L313.7,433.4 L314.5,433.9 L315.3,433.5 L316.1,432.5 L316.9,431.4 L317.7,430.9 L318.5,431.3 L319.3,432.3 L320.1,433.4 L320.9,433.9 L321.7,433.5 L322.5,432.4 L323.3,431.4 L324.1,430.9 L324.9,431.3 L325.7,432.4 L326.5,433.4 L327.3,433.9 L328.1,433.5 L328.8,432.4 L329.6,431.4 L330.4,430.9 L331.2,431.3 L332.0,432.4 L332.8,433.4 L333.6,433.9 L334.4,433.5 L335.2,432.4 L336.0,431.4 L336.8,430.9 L337.6,431.3 L338.4,432.4 L339.2,433.5 L340.0,433.9 L340.8,433.5 L341.6,432.4 L342.4,431.3 L343.2,430.9 L344.0,431.3 L344.7,432.4 L345.5,433.5 L346.3,433.9 L347.1,433.5 L347.9,432.4 L348.7,431.3 L349.5,430.9 L350.3,431.4 L351.1,432.4 L351.9,433.5 L352.7,433.9 L353.5,433.4 L354.3,432.4 L355.1,431.3 L355.9,430.9 L356.7,431.4 L357.5,432.4 L358.3,433.5 L359.1,433.9 L359.9,433.4 L360.6,432.4 L361.4,431.3 L362.2,430.9 L363.0,431.4 L363.8,432.4 L364.6,433.5 L365.4,433.9 L366.2,433.4 L367.0,432.3 L367.8,431.3 L368.6,430.9 L370.2,428.0 L372.4,417.5 L374.5,417.2 L376.3,418.8 L378.2,420.0 L379.4,412.0 L379.7,406.8 L379.7,407.3 L380.5,407.6 L381.3,407.3 L382.1,406.6 L382.9,406.0 L383.6,405.7 L384.4,406.0 L385.2,406.7 L386.0,407.3 L386.8,407.6 L387.6,407.3 L388.4,406.6 L389.2,406.0 L390.0,405.7 L390.7,406.0 L391.5,406.7 L392.3,407.3 L393.1,407.6 L393.9,407.3 L394.7,406.6 L395.5,406.0 L396.3,405.7 L397.0,406.0 L397.8,406.7 L398.6,407.3 L399.4,407.6 L400.2,407.3 L401.0,406.6 L401.8,406.0 L402.6,405.7 L403.4,406.0 L404.1,406.7 L404.9,407.3 L405.7,407.6 L406.5,407.3 L407.3,406.6 L408.1,406.0 L408.9,405.7 L409.7,406.0 L410.5,406.7 L411.2,407.3 L412.0,407.6 L412.8,407.3 L413.6,406.6 L414.4,406.0 L414.4,414.0 L415.1,424.0 L416.2,432.0 L417.7,439.5 L419.6,447.5 L421.6,455.0 L422.9,461.5 L422.9,463.6 L422.0,462.5 L421.2,461.6 L420.3,461.0 L419.5,460.8 L418.6,461.0 L417.8,461.6 L416.9,462.5 L416.1,463.6 L415.2,462.5 L414.4,461.6 L413.5,461.0 L412.7,460.8 L411.8,461.0 L411.0,461.6 L410.1,462.5 L409.3,463.6 L408.4,462.5 L407.6,461.6 L406.8,461.0 L405.9,460.8 L405.0,461.0 L404.2,461.6 L403.3,462.5 L402.5,463.6 L401.6,462.5 L400.8,461.6 L399.9,461.0 L399.1,460.8 L398.2,461.0 L397.4,461.6 L396.6,462.5 L395.7,463.6 L393.5,458.0 L391.5,453.0 L389.3,450.0 L387.4,449.0 L386.0,449.5 L385.2,452.0 L384.0,452.0 L384.0,487.6 L384.0,489.8 L383.6,489.8 L383.2,489.2 L382.8,488.2 L382.4,487.1 L382.0,486.1 L381.6,485.2 L381.2,484.4 L380.8,483.8 L380.4,483.5 L380.0,483.4 L379.6,483.6 L379.2,484.0 L378.8,484.6 L378.4,485.4 L378.0,486.3 L377.6,487.4 L377.2,488.4 L376.8,489.4 L376.4,489.8 L376.0,489.8 L375.6,489.8 L375.2,489.6 L374.8,488.8 L374.4,488.2 L374.0,487.7 L373.6,487.6 L373.2,487.8 L372.8,488.2 L372.4,488.9 L372.0,489.7 L371.6,489.8 L371.2,489.8 L370.8,489.8 L370.4,489.3 L370.0,488.3 L369.6,487.2 L369.2,486.2 L368.8,485.3 L368.4,484.5 L368.0,483.9 L367.6,483.5 L367.2,483.4 L366.8,483.5 L366.4,483.9 L366.0,484.5 L365.6,485.3 L365.2,486.2 L364.8,487.2 L364.4,488.3 L364.0,489.3 L363.6,489.8 L363.2,489.8 L362.8,489.8 L362.4,489.7 L362.0,488.9 L361.6,488.2 L361.2,487.8 L360.8,487.6 L360.4,487.7 L360.0,488.2 L359.6,488.8 L359.2,489.6 L358.8,489.8 L358.4,489.8 L358.0,489.8 L357.6,489.4 L357.2,488.4 L356.8,487.4 L356.4,486.3 L356.0,485.4 L355.6,484.6 L355.2,484.0 L354.8,483.6 L354.4,483.4 L354.0,483.5 L353.6,483.8 L353.2,484.4 L352.8,485.2 L352.4,486.1 L352.0,487.1 L351.6,488.2 L351.2,489.2 L350.8,489.8 L350.4,489.8 L350.0,489.8 L349.6,489.8 L349.2,489.0 L348.8,488.3 L348.4,487.8 L348.0,487.6 L347.6,487.7 L347.2,488.1 L346.8,488.7 L346.4,489.5 L346.0,489.8 L345.6,489.8 L345.2,489.8 L344.8,489.5 L344.4,488.6 L344.0,487.5 L343.6,486.5 L343.2,485.5 L342.8,484.7 L342.4,484.0 L342.0,483.6 L341.6,483.4 L341.2,483.5 L340.8,483.8 L340.4,484.3 L340.0,485.1 L339.6,486.0 L339.2,487.0 L338.8,488.0 L338.4,489.1 L338.0,489.8 L337.6,489.8 L337.2,489.8 L336.8,489.8 L336.4,489.1 L336.0,488.4 L335.6,487.9 L335.2,487.6 L334.8,487.7 L334.4,488.0 L334.0,488.6 L333.6,489.4 L333.2,489.8 L332.8,489.8 L332.4,489.8 L332.0,489.6 L331.6,488.7 L331.2,487.6 L330.8,486.6 L330.4,485.6 L330.0,484.8 L329.6,484.1 L329.2,483.6 L328.8,483.4 L328.4,483.4 L328.0,483.7 L327.6,484.2 L327.2,485.0 L326.8,485.8 L326.4,486.8 L326.0,487.9 L325.6,488.9 L325.2,489.8 L324.8,489.8 L324.4,489.8 L324.0,489.8 L323.6,489.2 L323.2,488.5 L322.8,487.9 L322.4,487.6 L322.0,487.6 L321.6,488.0 L321.2,488.5 L320.8,489.3 L320.4,489.8 L320.0,489.8 L319.6,489.8 L319.2,489.7 L318.8,488.8 L318.4,487.8 L318.0,486.7 L317.6,485.7 L317.2,484.9 L316.8,484.2 L316.4,483.7 L316.0,483.4 L315.6,483.4 L315.2,483.7 L314.8,484.2 L314.4,484.9 L314.0,485.7 L313.6,486.7 L313.2,487.8 L312.8,488.8 L312.4,489.7 L312.0,489.8 L311.6,489.8 L311.2,489.8 L310.8,489.3 L310.4,488.5 L310.0,488.0 L309.6,487.6 L309.2,487.6 L308.8,487.9 L308.7,489.5 L308.7,477.0 L308.6,477.6 L307.9,476.2 L307.3,475.0 L306.6,474.2 L306.0,473.8 L305.3,473.9 L304.7,474.5 L304.0,475.5 L303.4,476.6 L302.7,475.2 L302.1,474.0 L301.4,473.2 L300.8,472.8 L300.1,473.0 L299.4,473.5 L298.8,474.5 L298.1,475.6 L297.5,474.2 L296.8,473.1 L296.2,472.2 L295.5,471.8 L294.9,472.0 L294.2,472.6 L293.6,473.5 L292.9,474.6 L292.3,473.3 L291.6,472.1 Z"/></clipPath>
<path d="M291.4,450.6 L299.6,450.0 L300.2,436.0 L300.8,427.1 L302.5,430.0 L304.2,433.0 L304.2,431.4 L305.0,430.9 L305.8,431.3 L306.6,432.3 L307.4,433.4 L308.2,433.9 L309.0,433.5 L309.8,432.5 L310.6,431.4 L311.4,430.9 L312.2,431.3 L312.9,432.3 L313.7,433.4 L314.5,433.9 L315.3,433.5 L316.1,432.5 L316.9,431.4 L317.7,430.9 L318.5,431.3 L319.3,432.3 L320.1,433.4 L320.9,433.9 L321.7,433.5 L322.5,432.4 L323.3,431.4 L324.1,430.9 L324.9,431.3 L325.7,432.4 L326.5,433.4 L327.3,433.9 L328.1,433.5 L328.8,432.4 L329.6,431.4 L330.4,430.9 L331.2,431.3 L332.0,432.4 L332.8,433.4 L333.6,433.9 L334.4,433.5 L335.2,432.4 L336.0,431.4 L336.8,430.9 L337.6,431.3 L338.4,432.4 L339.2,433.5 L340.0,433.9 L340.8,433.5 L341.6,432.4 L342.4,431.3 L343.2,430.9 L344.0,431.3 L344.7,432.4 L345.5,433.5 L346.3,433.9 L347.1,433.5 L347.9,432.4 L348.7,431.3 L349.5,430.9 L350.3,431.4 L351.1,432.4 L351.9,433.5 L352.7,433.9 L353.5,433.4 L354.3,432.4 L355.1,431.3 L355.9,430.9 L356.7,431.4 L357.5,432.4 L358.3,433.5 L359.1,433.9 L359.9,433.4 L360.6,432.4 L361.4,431.3 L362.2,430.9 L363.0,431.4 L363.8,432.4 L364.6,433.5 L365.4,433.9 L366.2,433.4 L367.0,432.3 L367.8,431.3 L368.6,430.9 L370.2,428.0 L372.4,417.5 L374.5,417.2 L376.3,418.8 L378.2,420.0 L379.4,412.0 L380.4,410.5 L380.4,410.3 L380.5,410.6 L381.3,410.3 L382.1,409.6 L382.9,409.0 L383.6,408.7 L384.4,409.0 L385.2,409.7 L386.0,410.3 L386.8,410.6 L387.6,410.3 L388.4,409.6 L389.2,409.0 L390.0,408.7 L390.7,409.0 L391.5,409.7 L392.3,410.3 L393.1,410.6 L393.9,410.3 L394.7,409.6 L395.5,409.0 L396.3,408.7 L397.0,409.0 L397.8,409.7 L398.6,410.3 L399.4,410.6 L400.2,410.3 L401.0,409.6 L401.8,409.0 L402.6,408.7 L403.4,409.0 L404.1,409.7 L404.9,410.3 L405.7,410.6 L406.5,410.3 L407.3,409.6 L408.1,409.0 L408.9,408.7 L409.7,409.0 L410.5,409.7 L411.2,410.3 L412.0,410.6 L412.8,410.3 L413.6,409.6 L413.8,409.0 L414.0,414.0 L415.1,424.0 L416.2,432.0 L417.7,439.5 L419.6,447.5 L421.6,455.0 L422.9,461.5 L422.9,463.6 L422.0,462.5 L421.2,461.6 L420.3,461.0 L419.5,460.8 L418.6,461.0 L417.8,461.6 L416.9,462.5 L416.1,463.6 L415.2,462.5 L414.4,461.6 L413.5,461.0 L412.7,460.8 L411.8,461.0 L411.0,461.6 L410.1,462.5 L409.3,463.6 L408.4,462.5 L407.6,461.6 L406.8,461.0 L405.9,460.8 L405.0,461.0 L404.2,461.6 L403.3,462.5 L402.5,463.6 L401.6,462.5 L400.8,461.6 L399.9,461.0 L399.1,460.8 L398.2,461.0 L397.4,461.6 L396.6,462.5 L395.7,463.6 L393.5,458.0 L391.5,453.0 L389.3,450.0 L387.4,449.0 L386.0,449.5 L385.2,452.0 L384.0,452.0 L384.0,487.6 L384.0,489.8 L383.6,489.8 L383.2,489.2 L382.8,488.2 L382.4,487.1 L382.0,486.1 L381.6,485.2 L381.2,484.4 L380.8,483.8 L380.4,483.5 L380.0,483.4 L379.6,483.6 L379.2,484.0 L378.8,484.6 L378.4,485.4 L378.0,486.3 L377.6,487.4 L377.2,488.4 L376.8,489.4 L376.4,489.8 L376.0,489.8 L375.6,489.8 L375.2,489.6 L374.8,488.8 L374.4,488.2 L374.0,487.7 L373.6,487.6 L373.2,487.8 L372.8,488.2 L372.4,488.9 L372.0,489.7 L371.6,489.8 L371.2,489.8 L370.8,489.8 L370.4,489.3 L370.0,488.3 L369.6,487.2 L369.2,486.2 L368.8,485.3 L368.4,484.5 L368.0,483.9 L367.6,483.5 L367.2,483.4 L366.8,483.5 L366.4,483.9 L366.0,484.5 L365.6,485.3 L365.2,486.2 L364.8,487.2 L364.4,488.3 L364.0,489.3 L363.6,489.8 L363.2,489.8 L362.8,489.8 L362.4,489.7 L362.0,488.9 L361.6,488.2 L361.2,487.8 L360.8,487.6 L360.4,487.7 L360.0,488.2 L359.6,488.8 L359.2,489.6 L358.8,489.8 L358.4,489.8 L358.0,489.8 L357.6,489.4 L357.2,488.4 L356.8,487.4 L356.4,486.3 L356.0,485.4 L355.6,484.6 L355.2,484.0 L354.8,483.6 L354.4,483.4 L354.0,483.5 L353.6,483.8 L353.2,484.4 L352.8,485.2 L352.4,486.1 L352.0,487.1 L351.6,488.2 L351.2,489.2 L350.8,489.8 L350.4,489.8 L350.0,489.8 L349.6,489.8 L349.2,489.0 L348.8,488.3 L348.4,487.8 L348.0,487.6 L347.6,487.7 L347.2,488.1 L346.8,488.7 L346.4,489.5 L346.0,489.8 L345.6,489.8 L345.2,489.8 L344.8,489.5 L344.4,488.6 L344.0,487.5 L343.6,486.5 L343.2,485.5 L342.8,484.7 L342.4,484.0 L342.0,483.6 L341.6,483.4 L341.2,483.5 L340.8,483.8 L340.4,484.3 L340.0,485.1 L339.6,486.0 L339.2,487.0 L338.8,488.0 L338.4,489.1 L338.0,489.8 L337.6,489.8 L337.2,489.8 L336.8,489.8 L336.4,489.1 L336.0,488.4 L335.6,487.9 L335.2,487.6 L334.8,487.7 L334.4,488.0 L334.0,488.6 L333.6,489.4 L333.2,489.8 L332.8,489.8 L332.4,489.8 L332.0,489.6 L331.6,488.7 L331.2,487.6 L330.8,486.6 L330.4,485.6 L330.0,484.8 L329.6,484.1 L329.2,483.6 L328.8,483.4 L328.4,483.4 L328.0,483.7 L327.6,484.2 L327.2,485.0 L326.8,485.8 L326.4,486.8 L326.0,487.9 L325.6,488.9 L325.2,489.8 L324.8,489.8 L324.4,489.8 L324.0,489.8 L323.6,489.2 L323.2,488.5 L322.8,487.9 L322.4,487.6 L322.0,487.6 L321.6,488.0 L321.2,488.5 L320.8,489.3 L320.4,489.8 L320.0,489.8 L319.6,489.8 L319.2,489.7 L318.8,488.8 L318.4,487.8 L318.0,486.7 L317.6,485.7 L317.2,484.9 L316.8,484.2 L316.4,483.7 L316.0,483.4 L315.6,483.4 L315.2,483.7 L314.8,484.2 L314.4,484.9 L314.0,485.7 L313.6,486.7 L313.2,487.8 L312.8,488.8 L312.4,489.7 L312.0,489.8 L311.6,489.8 L311.2,489.8 L310.8,489.3 L310.4,488.5 L310.0,488.0 L309.6,487.6 L309.2,487.6 L308.8,487.9 L308.7,489.5 L308.7,477.0 L308.6,477.6 L307.9,476.2 L307.3,475.0 L306.6,474.2 L306.0,473.8 L305.3,473.9 L304.7,474.5 L304.0,475.5 L303.4,476.6 L302.7,475.2 L302.1,474.0 L301.4,473.2 L300.8,472.8 L300.1,473.0 L299.4,473.5 L298.8,474.5 L298.1,475.6 L297.5,474.2 L296.8,473.1 L296.2,472.2 L295.5,471.8 L294.9,472.0 L294.2,472.6 L293.6,473.5 L292.9,474.6 L292.3,473.3 L291.6,472.1 Z" fill="#403c9b"/>
<clipPath id="cl2"><polygon points="379.2,400 420,400 426,470 392,470 379.2,424"/></clipPath>
<g clip-path="url(#cl2)">
<g clip-path="url(#cl)">
<polygon points="370.0,406.6 379.7,406.4 380.5,406.6 381.3,406.4 382.1,405.9 382.9,405.5 383.6,405.3 384.4,405.5 385.2,406.0 386.0,406.4 386.8,406.6 387.6,406.4 388.4,405.9 389.2,405.5 390.0,405.3 390.7,405.5 391.5,406.0 392.3,406.4 393.1,406.6 393.9,406.4 394.7,405.9 395.5,405.5 396.3,405.3 397.0,405.5 397.8,406.0 398.6,406.4 399.4,406.6 400.2,406.4 401.0,405.9 401.8,405.5 402.6,405.3 403.4,405.5 404.1,406.0 404.9,406.4 405.7,406.6 406.5,406.4 407.3,405.9 408.1,405.5 408.9,405.3 409.7,405.5 410.5,406.0 411.2,406.4 412.0,406.6 412.8,406.4 413.6,405.9 414.4,405.5 430.0,406.6 430.0,407.4 414.4,406.3 413.6,406.7 412.8,407.2 412.0,407.4 411.2,407.2 410.5,406.8 409.7,406.3 408.9,406.1 408.1,406.3 407.3,406.7 406.5,407.2 405.7,407.4 404.9,407.2 404.1,406.8 403.4,406.3 402.6,406.1 401.8,406.3 401.0,406.7 400.2,407.2 399.4,407.4 398.6,407.2 397.8,406.8 397.0,406.3 396.3,406.1 395.5,406.3 394.7,406.7 393.9,407.2 393.1,407.4 392.3,407.2 391.5,406.8 390.7,406.3 390.0,406.1 389.2,406.3 388.4,406.7 387.6,407.2 386.8,407.4 386.0,407.2 385.2,406.8 384.4,406.3 383.6,406.1 382.9,406.3 382.1,406.7 381.3,407.2 380.5,407.4 379.7,407.2 370.0,407.4" fill="#f7e22c"/>
<polygon points="370.0,407.1 379.7,406.9 380.5,407.1 381.3,406.9 382.1,406.4 382.9,406.0 383.6,405.8 384.4,406.0 385.2,406.5 386.0,406.9 386.8,407.1 387.6,406.9 388.4,406.4 389.2,406.0 390.0,405.8 390.7,406.0 391.5,406.5 392.3,406.9 393.1,407.1 393.9,406.9 394.7,406.4 395.5,406.0 396.3,405.8 397.0,406.0 397.8,406.5 398.6,406.9 399.4,407.1 400.2,406.9 401.0,406.4 401.8,406.0 402.6,405.8 403.4,406.0 404.1,406.5 404.9,406.9 405.7,407.1 406.5,406.9 407.3,406.4 408.1,406.0 408.9,405.8 409.7,406.0 410.5,406.5 411.2,406.9 412.0,407.1 412.8,406.9 413.6,406.4 414.4,406.0 430.0,407.1 430.0,407.9 414.4,406.8 413.6,407.2 412.8,407.7 412.0,407.9 411.2,407.7 410.5,407.3 409.7,406.8 408.9,406.6 408.1,406.8 407.3,407.2 406.5,407.7 405.7,407.9 404.9,407.7 404.1,407.3 403.4,406.8 402.6,406.6 401.8,406.8 401.0,407.2 400.2,407.7 399.4,407.9 398.6,407.7 397.8,407.3 397.0,406.8 396.3,406.6 395.5,406.8 394.7,407.2 393.9,407.7 393.1,407.9 392.3,407.7 391.5,407.3 390.7,406.8 390.0,406.6 389.2,406.8 388.4,407.2 387.6,407.7 386.8,407.9 386.0,407.7 385.2,407.3 384.4,406.8 383.6,406.6 382.9,406.8 382.1,407.2 381.3,407.7 380.5,407.9 379.7,407.7 370.0,407.9" fill="#f6dd2d"/>
<polygon points="370.0,407.6 379.7,407.4 380.5,407.6 381.3,407.4 382.1,406.9 382.9,406.5 383.6,406.3 384.4,406.5 385.2,407.0 386.0,407.4 386.8,407.6 387.6,407.4 388.4,406.9 389.2,406.5 390.0,406.3 390.7,406.5 391.5,407.0 392.3,407.4 393.1,407.6 393.9,407.4 394.7,406.9 395.5,406.5 396.3,406.3 397.0,406.5 397.8,407.0 398.6,407.4 399.4,407.6 400.2,407.4 401.0,406.9 401.8,406.5 402.6,406.3 403.4,406.5 404.1,407.0 404.9,407.4 405.7,407.6 406.5,407.4 407.3,406.9 408.1,406.5 408.9,406.3 409.7,406.5 410.5,407.0 411.2,407.4 412.0,407.6 412.8,407.4 413.6,406.9 414.4,406.5 430.0,407.6 430.0,408.4 414.4,407.3 413.6,407.7 412.8,408.2 412.0,408.4 411.2,408.2 410.5,407.8 409.7,407.3 408.9,407.1 408.1,407.3 407.3,407.7 406.5,408.2 405.7,408.4 404.9,408.2 404.1,407.8 403.4,407.3 402.6,407.1 401.8,407.3 401.0,407.7 400.2,408.2 399.4,408.4 398.6,408.2 397.8,407.8 397.0,407.3 396.3,407.1 395.5,407.3 394.7,407.7 393.9,408.2 393.1,408.4 392.3,408.2 391.5,407.8 390.7,407.3 390.0,407.1 389.2,407.3 388.4,407.7 387.6,408.2 386.8,408.4 386.0,408.2 385.2,407.8 384.4,407.3 383.6,407.1 382.9,407.3 382.1,407.7 381.3,408.2 380.5,408.4 379.7,408.2 370.0,408.4" fill="#f5d92e"/>
<polygon points="370.0,408.1 379.7,407.9 380.5,408.1 381.3,407.9 382.1,407.4 382.9,407.0 383.6,406.8 384.4,407.0 385.2,407.5 386.0,407.9 386.8,408.1 387.6,407.9 388.4,407.4 389.2,407.0 390.0,406.8 390.7,407.0 391.5,407.5 392.3,407.9 393.1,408.1 393.9,407.9 394.7,407.4 395.5,407.0 396.3,406.8 397.0,407.0 397.8,407.5 398.6,407.9 399.4,408.1 400.2,407.9 401.0,407.4 401.8,407.0 402.6,406.8 403.4,407.0 404.1,407.5 404.9,407.9 405.7,408.1 406.5,407.9 407.3,407.4 408.1,407.0 408.9,406.8 409.7,407.0 410.5,407.5 411.2,407.9 412.0,408.1 412.8,407.9 413.6,407.4 414.4,407.0 430.0,408.1 430.0,408.9 414.4,407.8 413.6,408.2 412.8,408.7 412.0,408.9 411.2,408.7 410.5,408.3 409.7,407.8 408.9,407.6 408.1,407.8 407.3,408.2 406.5,408.7 405.7,408.9 404.9,408.7 404.1,408.3 403.4,407.8 402.6,407.6 401.8,407.8 401.0,408.2 400.2,408.7 399.4,408.9 398.6,408.7 397.8,408.3 397.0,407.8 396.3,407.6 395.5,407.8 394.7,408.2 393.9,408.7 393.1,408.9 392.3,408.7 391.5,408.3 390.7,407.8 390.0,407.6 389.2,407.8 388.4,408.2 387.6,408.7 386.8,408.9 386.0,408.7 385.2,408.3 384.4,407.8 383.6,407.6 382.9,407.8 382.1,408.2 381.3,408.7 380.5,408.9 379.7,408.7 370.0,408.9" fill="#f4d52f"/>
<polygon points="370.0,408.6 379.7,408.4 380.5,408.6 381.3,408.4 382.1,407.9 382.9,407.5 383.6,407.3 384.4,407.5 385.2,408.0 386.0,408.4 386.8,408.6 387.6,408.4 388.4,407.9 389.2,407.5 390.0,407.3 390.7,407.5 391.5,408.0 392.3,408.4 393.1,408.6 393.9,408.4 394.7,407.9 395.5,407.5 396.3,407.3 397.0,407.5 397.8,408.0 398.6,408.4 399.4,408.6 400.2,408.4 401.0,407.9 401.8,407.5 402.6,407.3 403.4,407.5 404.1,408.0 404.9,408.4 405.7,408.6 406.5,408.4 407.3,407.9 408.1,407.5 408.9,407.3 409.7,407.5 410.5,408.0 411.2,408.4 412.0,408.6 412.8,408.4 413.6,407.9 414.4,407.5 430.0,408.6 430.0,409.4 414.4,408.3 413.6,408.7 412.8,409.2 412.0,409.4 411.2,409.2 410.5,408.8 409.7,408.3 408.9,408.1 408.1,408.3 407.3,408.7 406.5,409.2 405.7,409.4 404.9,409.2 404.1,408.8 403.4,408.3 402.6,408.1 401.8,408.3 401.0,408.7 400.2,409.2 399.4,409.4 398.6,409.2 397.8,408.8 397.0,408.3 396.3,408.1 395.5,408.3 394.7,408.7 393.9,409.2 393.1,409.4 392.3,409.2 391.5,408.8 390.7,408.3 390.0,408.1 389.2,408.3 388.4,408.7 387.6,409.2 386.8,409.4 386.0,409.2 385.2,408.8 384.4,408.3 383.6,408.1 382.9,408.3 382.1,408.7 381.3,409.2 380.5,409.4 379.7,409.2 370.0,409.4" fill="#f3d030"/>
<polygon points="370.0,409.1 379.7,408.9 380.5,409.1 381.3,408.9 382.1,408.4 382.9,408.0 383.6,407.8 384.4,408.0 385.2,408.5 386.0,408.9 386.8,409.1 387.6,408.9 388.4,408.4 389.2,408.0 390.0,407.8 390.7,408.0 391.5,408.5 392.3,408.9 393.1,409.1 393.9,408.9 394.7,408.4 395.5,408.0 396.3,407.8 397.0,408.0 397.8,408.5 398.6,408.9 399.4,409.1 400.2,408.9 401.0,408.4 401.8,408.0 402.6,407.8 403.4,408.0 404.1,408.5 404.9,408.9 405.7,409.1 406.5,408.9 407.3,408.4 408.1,408.0 408.9,407.8 409.7,408.0 410.5,408.5 411.2,408.9 412.0,409.1 412.8,408.9 413.6,408.4 414.4,408.0 430.0,409.1 430.0,409.9 414.4,408.8 413.6,409.2 412.8,409.7 412.0,409.9 411.2,409.7 410.5,409.3 409.7,408.8 408.9,408.6 408.1,408.8 407.3,409.2 406.5,409.7 405.7,409.9 404.9,409.7 404.1,409.3 403.4,408.8 402.6,408.6 401.8,408.8 401.0,409.2 400.2,409.7 399.4,409.9 398.6,409.7 397.8,409.3 397.0,408.8 396.3,408.6 395.5,408.8 394.7,409.2 393.9,409.7 393.1,409.9 392.3,409.7 391.5,409.3 390.7,408.8 390.0,408.6 389.2,408.8 388.4,409.2 387.6,409.7 386.8,409.9 386.0,409.7 385.2,409.3 384.4,408.8 383.6,408.6 382.9,408.8 382.1,409.2 381.3,409.7 380.5,409.9 379.7,409.7 370.0,409.9" fill="#93cc48"/>
<polygon points="370.0,409.6 379.7,409.4 380.5,409.6 381.3,409.4 382.1,408.9 382.9,408.5 383.6,408.3 384.4,408.5 385.2,409.0 386.0,409.4 386.8,409.6 387.6,409.4 388.4,408.9 389.2,408.5 390.0,408.3 390.7,408.5 391.5,409.0 392.3,409.4 393.1,409.6 393.9,409.4 394.7,408.9 395.5,408.5 396.3,408.3 397.0,408.5 397.8,409.0 398.6,409.4 399.4,409.6 400.2,409.4 401.0,408.9 401.8,408.5 402.6,408.3 403.4,408.5 404.1,409.0 404.9,409.4 405.7,409.6 406.5,409.4 407.3,408.9 408.1,408.5 408.9,408.3 409.7,408.5 410.5,409.0 411.2,409.4 412.0,409.6 412.8,409.4 413.6,408.9 414.4,408.5 430.0,409.6 430.0,410.4 414.4,409.3 413.6,409.7 412.8,410.2 412.0,410.4 411.2,410.2 410.5,409.8 409.7,409.3 408.9,409.1 408.1,409.3 407.3,409.7 406.5,410.2 405.7,410.4 404.9,410.2 404.1,409.8 403.4,409.3 402.6,409.1 401.8,409.3 401.0,409.7 400.2,410.2 399.4,410.4 398.6,410.2 397.8,409.8 397.0,409.3 396.3,409.1 395.5,409.3 394.7,409.7 393.9,410.2 393.1,410.4 392.3,410.2 391.5,409.8 390.7,409.3 390.0,409.1 389.2,409.3 388.4,409.7 387.6,410.2 386.8,410.4 386.0,410.2 385.2,409.8 384.4,409.3 383.6,409.1 382.9,409.3 382.1,409.7 381.3,410.2 380.5,410.4 379.7,410.2 370.0,410.4" fill="#90cb4a"/>
<polygon points="370.0,410.1 379.7,409.9 380.5,410.1 381.3,409.9 382.1,409.4 382.9,409.0 383.6,408.8 384.4,409.0 385.2,409.5 386.0,409.9 386.8,410.1 387.6,409.9 388.4,409.4 389.2,409.0 390.0,408.8 390.7,409.0 391.5,409.5 392.3,409.9 393.1,410.1 393.9,409.9 394.7,409.4 395.5,409.0 396.3,408.8 397.0,409.0 397.8,409.5 398.6,409.9 399.4,410.1 400.2,409.9 401.0,409.4 401.8,409.0 402.6,408.8 403.4,409.0 404.1,409.5 404.9,409.9 405.7,410.1 406.5,409.9 407.3,409.4 408.1,409.0 408.9,408.8 409.7,409.0 410.5,409.5 411.2,409.9 412.0,410.1 412.8,409.9 413.6,409.4 414.4,409.0 430.0,410.1 430.0,410.9 414.4,409.8 413.6,410.2 412.8,410.7 412.0,410.9 411.2,410.7 410.5,410.3 409.7,409.8 408.9,409.6 408.1,409.8 407.3,410.2 406.5,410.7 405.7,410.9 404.9,410.7 404.1,410.3 403.4,409.8 402.6,409.6 401.8,409.8 401.0,410.2 400.2,410.7 399.4,410.9 398.6,410.7 397.8,410.3 397.0,409.8 396.3,409.6 395.5,409.8 394.7,410.2 393.9,410.7 393.1,410.9 392.3,410.7 391.5,410.3 390.7,409.8 390.0,409.6 389.2,409.8 388.4,410.2 387.6,410.7 386.8,410.9 386.0,410.7 385.2,410.3 384.4,409.8 383.6,409.6 382.9,409.8 382.1,410.2 381.3,410.7 380.5,410.9 379.7,410.7 370.0,410.9" fill="#8eca4c"/>
<polygon points="370.0,410.6 379.7,410.4 380.5,410.6 381.3,410.4 382.1,409.9 382.9,409.5 383.6,409.3 384.4,409.5 385.2,410.0 386.0,410.4 386.8,410.6 387.6,410.4 388.4,409.9 389.2,409.5 390.0,409.3 390.7,409.5 391.5,410.0 392.3,410.4 393.1,410.6 393.9,410.4 394.7,409.9 395.5,409.5 396.3,409.3 397.0,409.5 397.8,410.0 398.6,410.4 399.4,410.6 400.2,410.4 401.0,409.9 401.8,409.5 402.6,409.3 403.4,409.5 404.1,410.0 404.9,410.4 405.7,410.6 406.5,410.4 407.3,409.9 408.1,409.5 408.9,409.3 409.7,409.5 410.5,410.0 411.2,410.4 412.0,410.6 412.8,410.4 413.6,409.9 414.4,409.5 430.0,410.6 430.0,411.4 414.4,410.3 413.6,410.7 412.8,411.2 412.0,411.4 411.2,411.2 410.5,410.8 409.7,410.3 408.9,410.1 408.1,410.3 407.3,410.7 406.5,411.2 405.7,411.4 404.9,411.2 404.1,410.8 403.4,410.3 402.6,410.1 401.8,410.3 401.0,410.7 400.2,411.2 399.4,411.4 398.6,411.2 397.8,410.8 397.0,410.3 396.3,410.1 395.5,410.3 394.7,410.7 393.9,411.2 393.1,411.4 392.3,411.2 391.5,410.8 390.7,410.3 390.0,410.1 389.2,410.3 388.4,410.7 387.6,411.2 386.8,411.4 386.0,411.2 385.2,410.8 384.4,410.3 383.6,410.1 382.9,410.3 382.1,410.7 381.3,411.2 380.5,411.4 379.7,411.2 370.0,411.4" fill="#8bca4e"/>
<polygon points="370.0,411.1 379.7,410.9 380.5,411.1 381.3,410.9 382.1,410.4 382.9,410.0 383.6,409.8 384.4,410.0 385.2,410.5 386.0,410.9 386.8,411.1 387.6,410.9 388.4,410.4 389.2,410.0 390.0,409.8 390.7,410.0 391.5,410.5 392.3,410.9 393.1,411.1 393.9,410.9 394.7,410.4 395.5,410.0 396.3,409.8 397.0,410.0 397.8,410.5 398.6,410.9 399.4,411.1 400.2,410.9 401.0,410.4 401.8,410.0 402.6,409.8 403.4,410.0 404.1,410.5 404.9,410.9 405.7,411.1 406.5,410.9 407.3,410.4 408.1,410.0 408.9,409.8 409.7,410.0 410.5,410.5 411.2,410.9 412.0,411.1 412.8,410.9 413.6,410.4 414.4,410.0 430.0,411.1 430.0,411.9 414.4,410.8 413.6,411.2 412.8,411.7 412.0,411.9 411.2,411.7 410.5,411.3 409.7,410.8 408.9,410.6 408.1,410.8 407.3,411.2 406.5,411.7 405.7,411.9 404.9,411.7 404.1,411.3 403.4,410.8 402.6,410.6 401.8,410.8 401.0,411.2 400.2,411.7 399.4,411.9 398.6,411.7 397.8,411.3 397.0,410.8 396.3,410.6 395.5,410.8 394.7,411.2 393.9,411.7 393.1,411.9 392.3,411.7 391.5,411.3 390.7,410.8 390.0,410.6 389.2,410.8 388.4,411.2 387.6,411.7 386.8,411.9 386.0,411.7 385.2,411.3 384.4,410.8 383.6,410.6 382.9,410.8 382.1,411.2 381.3,411.7 380.5,411.9 379.7,411.7 370.0,411.9" fill="#88c950"/>
<polygon points="370.0,411.6 379.7,411.4 380.5,411.6 381.3,411.4 382.1,410.9 382.9,410.5 383.6,410.3 384.4,410.5 385.2,411.0 386.0,411.4 386.8,411.6 387.6,411.4 388.4,410.9 389.2,410.5 390.0,410.3 390.7,410.5 391.5,411.0 392.3,411.4 393.1,411.6 393.9,411.4 394.7,410.9 395.5,410.5 396.3,410.3 397.0,410.5 397.8,411.0 398.6,411.4 399.4,411.6 400.2,411.4 401.0,410.9 401.8,410.5 402.6,410.3 403.4,410.5 404.1,411.0 404.9,411.4 405.7,411.6 406.5,411.4 407.3,410.9 408.1,410.5 408.9,410.3 409.7,410.5 410.5,411.0 411.2,411.4 412.0,411.6 412.8,411.4 413.6,410.9 414.4,410.5 430.0,411.6 430.0,412.4 414.4,411.3 413.6,411.7 412.8,412.2 412.0,412.4 411.2,412.2 410.5,411.8 409.7,411.3 408.9,411.1 408.1,411.3 407.3,411.7 406.5,412.2 405.7,412.4 404.9,412.2 404.1,411.8 403.4,411.3 402.6,411.1 401.8,411.3 401.0,411.7 400.2,412.2 399.4,412.4 398.6,412.2 397.8,411.8 397.0,411.3 396.3,411.1 395.5,411.3 394.7,411.7 393.9,412.2 393.1,412.4 392.3,412.2 391.5,411.8 390.7,411.3 390.0,411.1 389.2,411.3 388.4,411.7 387.6,412.2 386.8,412.4 386.0,412.2 385.2,411.8 384.4,411.3 383.6,411.1 382.9,411.3 382.1,411.7 381.3,412.2 380.5,412.4 379.7,412.2 370.0,412.4" fill="#86c852"/>
<polygon points="370.0,412.1 379.7,411.9 380.5,412.1 381.3,411.9 382.1,411.4 382.9,411.0 383.6,410.8 384.4,411.0 385.2,411.5 386.0,411.9 386.8,412.1 387.6,411.9 388.4,411.4 389.2,411.0 390.0,410.8 390.7,411.0 391.5,411.5 392.3,411.9 393.1,412.1 393.9,411.9 394.7,411.4 395.5,411.0 396.3,410.8 397.0,411.0 397.8,411.5 398.6,411.9 399.4,412.1 400.2,411.9 401.0,411.4 401.8,411.0 402.6,410.8 403.4,411.0 404.1,411.5 404.9,411.9 405.7,412.1 406.5,411.9 407.3,411.4 408.1,411.0 408.9,410.8 409.7,411.0 410.5,411.5 411.2,411.9 412.0,412.1 412.8,411.9 413.6,411.4 414.4,411.0 430.0,412.1 430.0,412.9 414.4,411.8 413.6,412.2 412.8,412.7 412.0,412.9 411.2,412.7 410.5,412.3 409.7,411.8 408.9,411.6 408.1,411.8 407.3,412.2 406.5,412.7 405.7,412.9 404.9,412.7 404.1,412.3 403.4,411.8 402.6,411.6 401.8,411.8 401.0,412.2 400.2,412.7 399.4,412.9 398.6,412.7 397.8,412.3 397.0,411.8 396.3,411.6 395.5,411.8 394.7,412.2 393.9,412.7 393.1,412.9 392.3,412.7 391.5,412.3 390.7,411.8 390.0,411.6 389.2,411.8 388.4,412.2 387.6,412.7 386.8,412.9 386.0,412.7 385.2,412.3 384.4,411.8 383.6,411.6 382.9,411.8 382.1,412.2 381.3,412.7 380.5,412.9 379.7,412.7 370.0,412.9" fill="#83c755"/>
<polygon points="370.0,412.6 379.7,412.4 380.5,412.6 381.3,412.4 382.1,411.9 382.9,411.5 383.6,411.3 384.4,411.5 385.2,412.0 386.0,412.4 386.8,412.6 387.6,412.4 388.4,411.9 389.2,411.5 390.0,411.3 390.7,411.5 391.5,412.0 392.3,412.4 393.1,412.6 393.9,412.4 394.7,411.9 395.5,411.5 396.3,411.3 397.0,411.5 397.8,412.0 398.6,412.4 399.4,412.6 400.2,412.4 401.0,411.9 401.8,411.5 402.6,411.3 403.4,411.5 404.1,412.0 404.9,412.4 405.7,412.6 406.5,412.4 407.3,411.9 408.1,411.5 408.9,411.3 409.7,411.5 410.5,412.0 411.2,412.4 412.0,412.6 412.8,412.4 413.6,411.9 414.4,411.5 430.0,412.6 430.0,413.4 414.4,412.3 413.6,412.7 412.8,413.2 412.0,413.4 411.2,413.2 410.5,412.8 409.7,412.3 408.9,412.1 408.1,412.3 407.3,412.7 406.5,413.2 405.7,413.4 404.9,413.2 404.1,412.8 403.4,412.3 402.6,412.1 401.8,412.3 401.0,412.7 400.2,413.2 399.4,413.4 398.6,413.2 397.8,412.8 397.0,412.3 396.3,412.1 395.5,412.3 394.7,412.7 393.9,413.2 393.1,413.4 392.3,413.2 391.5,412.8 390.7,412.3 390.0,412.1 389.2,412.3 388.4,412.7 387.6,413.2 386.8,413.4 386.0,413.2 385.2,412.8 384.4,412.3 383.6,412.1 382.9,412.3 382.1,412.7 381.3,413.2 380.5,413.4 379.7,413.2 370.0,413.4" fill="#81c757"/>
<polygon points="370.0,413.1 379.7,412.9 380.5,413.1 381.3,412.9 382.1,412.4 382.9,412.0 383.6,411.8 384.4,412.0 385.2,412.5 386.0,412.9 386.8,413.1 387.6,412.9 388.4,412.4 389.2,412.0 390.0,411.8 390.7,412.0 391.5,412.5 392.3,412.9 393.1,413.1 393.9,412.9 394.7,412.4 395.5,412.0 396.3,411.8 397.0,412.0 397.8,412.5 398.6,412.9 399.4,413.1 400.2,412.9 401.0,412.4 401.8,412.0 402.6,411.8 403.4,412.0 404.1,412.5 404.9,412.9 405.7,413.1 406.5,412.9 407.3,412.4 408.1,412.0 408.9,411.8 409.7,412.0 410.5,412.5 411.2,412.9 412.0,413.1 412.8,412.9 413.6,412.4 414.4,412.0 430.0,413.1 430.0,413.9 414.4,412.8 413.6,413.2 412.8,413.7 412.0,413.9 411.2,413.7 410.5,413.3 409.7,412.8 408.9,412.6 408.1,412.8 407.3,413.2 406.5,413.7 405.7,413.9 404.9,413.7 404.1,413.3 403.4,412.8 402.6,412.6 401.8,412.8 401.0,413.2 400.2,413.7 399.4,413.9 398.6,413.7 397.8,413.3 397.0,412.8 396.3,412.6 395.5,412.8 394.7,413.2 393.9,413.7 393.1,413.9 392.3,413.7 391.5,413.3 390.7,412.8 390.0,412.6 389.2,412.8 388.4,413.2 387.6,413.7 386.8,413.9 386.0,413.7 385.2,413.3 384.4,412.8 383.6,412.6 382.9,412.8 382.1,413.2 381.3,413.7 380.5,413.9 379.7,413.7 370.0,413.9" fill="#67c278"/>
<polygon points="370.0,413.6 379.7,413.4 380.5,413.6 381.3,413.4 382.1,412.9 382.9,412.5 383.6,412.3 384.4,412.5 385.2,413.0 386.0,413.4 386.8,413.6 387.6,413.4 388.4,412.9 389.2,412.5 390.0,412.3 390.7,412.5 391.5,413.0 392.3,413.4 393.1,413.6 393.9,413.4 394.7,412.9 395.5,412.5 396.3,412.3 397.0,412.5 397.8,413.0 398.6,413.4 399.4,413.6 400.2,413.4 401.0,412.9 401.8,412.5 402.6,412.3 403.4,412.5 404.1,413.0 404.9,413.4 405.7,413.6 406.5,413.4 407.3,412.9 408.1,412.5 408.9,412.3 409.7,412.5 410.5,413.0 411.2,413.4 412.0,413.6 412.8,413.4 413.6,412.9 414.4,412.5 430.0,413.6 430.0,414.4 414.4,413.3 413.6,413.7 412.8,414.2 412.0,414.4 411.2,414.2 410.5,413.8 409.7,413.3 408.9,413.1 408.1,413.3 407.3,413.7 406.5,414.2 405.7,414.4 404.9,414.2 404.1,413.8 403.4,413.3 402.6,413.1 401.8,413.3 401.0,413.7 400.2,414.2 399.4,414.4 398.6,414.2 397.8,413.8 397.0,413.3 396.3,413.1 395.5,413.3 394.7,413.7 393.9,414.2 393.1,414.4 392.3,414.2 391.5,413.8 390.7,413.3 390.0,413.1 389.2,413.3 388.4,413.7 387.6,414.2 386.8,414.4 386.0,414.2 385.2,413.8 384.4,413.3 383.6,413.1 382.9,413.3 382.1,413.7 381.3,414.2 380.5,414.4 379.7,414.2 370.0,414.4" fill="#1fb6d6"/>
<polygon points="370.0,414.1 379.7,413.9 380.5,414.1 381.3,413.9 382.1,413.4 382.9,413.0 383.6,412.8 384.4,413.0 385.2,413.5 386.0,413.9 386.8,414.1 387.6,413.9 388.4,413.4 389.2,413.0 390.0,412.8 390.7,413.0 391.5,413.5 392.3,413.9 393.1,414.1 393.9,413.9 394.7,413.4 395.5,413.0 396.3,412.8 397.0,413.0 397.8,413.5 398.6,413.9 399.4,414.1 400.2,413.9 401.0,413.4 401.8,413.0 402.6,412.8 403.4,413.0 404.1,413.5 404.9,413.9 405.7,414.1 406.5,413.9 407.3,413.4 408.1,413.0 408.9,412.8 409.7,413.0 410.5,413.5 411.2,413.9 412.0,414.1 412.8,413.9 413.6,413.4 414.4,413.0 430.0,414.1 430.0,414.9 414.4,413.8 413.6,414.2 412.8,414.7 412.0,414.9 411.2,414.7 410.5,414.3 409.7,413.8 408.9,413.6 408.1,413.8 407.3,414.2 406.5,414.7 405.7,414.9 404.9,414.7 404.1,414.3 403.4,413.8 402.6,413.6 401.8,413.8 401.0,414.2 400.2,414.7 399.4,414.9 398.6,414.7 397.8,414.3 397.0,413.8 396.3,413.6 395.5,413.8 394.7,414.2 393.9,414.7 393.1,414.9 392.3,414.7 391.5,414.3 390.7,413.8 390.0,413.6 389.2,413.8 388.4,414.2 387.6,414.7 386.8,414.9 386.0,414.7 385.2,414.3 384.4,413.8 383.6,413.6 382.9,413.8 382.1,414.2 381.3,414.7 380.5,414.9 379.7,414.7 370.0,414.9" fill="#20b4d7"/>
<polygon points="370.0,414.6 379.7,414.4 380.5,414.6 381.3,414.4 382.1,413.9 382.9,413.5 383.6,413.3 384.4,413.5 385.2,414.0 386.0,414.4 386.8,414.6 387.6,414.4 388.4,413.9 389.2,413.5 390.0,413.3 390.7,413.5 391.5,414.0 392.3,414.4 393.1,414.6 393.9,414.4 394.7,413.9 395.5,413.5 396.3,413.3 397.0,413.5 397.8,414.0 398.6,414.4 399.4,414.6 400.2,414.4 401.0,413.9 401.8,413.5 402.6,413.3 403.4,413.5 404.1,414.0 404.9,414.4 405.7,414.6 406.5,414.4 407.3,413.9 408.1,413.5 408.9,413.3 409.7,413.5 410.5,414.0 411.2,414.4 412.0,414.6 412.8,414.4 413.6,413.9 414.4,413.5 430.0,414.6 430.0,415.4 414.4,414.3 413.6,414.7 412.8,415.2 412.0,415.4 411.2,415.2 410.5,414.8 409.7,414.3 408.9,414.1 408.1,414.3 407.3,414.7 406.5,415.2 405.7,415.4 404.9,415.2 404.1,414.8 403.4,414.3 402.6,414.1 401.8,414.3 401.0,414.7 400.2,415.2 399.4,415.4 398.6,415.2 397.8,414.8 397.0,414.3 396.3,414.1 395.5,414.3 394.7,414.7 393.9,415.2 393.1,415.4 392.3,415.2 391.5,414.8 390.7,414.3 390.0,414.1 389.2,414.3 388.4,414.7 387.6,415.2 386.8,415.4 386.0,415.2 385.2,414.8 384.4,414.3 383.6,414.1 382.9,414.3 382.1,414.7 381.3,415.2 380.5,415.4 379.7,415.2 370.0,415.4" fill="#20b3d7"/>
<polygon points="370.0,415.1 379.7,414.9 380.5,415.1 381.3,414.9 382.1,414.4 382.9,414.0 383.6,413.8 384.4,414.0 385.2,414.5 386.0,414.9 386.8,415.1 387.6,414.9 388.4,414.4 389.2,414.0 390.0,413.8 390.7,414.0 391.5,414.5 392.3,414.9 393.1,415.1 393.9,414.9 394.7,414.4 395.5,414.0 396.3,413.8 397.0,414.0 397.8,414.5 398.6,414.9 399.4,415.1 400.2,414.9 401.0,414.4 401.8,414.0 402.6,413.8 403.4,414.0 404.1,414.5 404.9,414.9 405.7,415.1 406.5,414.9 407.3,414.4 408.1,414.0 408.9,413.8 409.7,414.0 410.5,414.5 411.2,414.9 412.0,415.1 412.8,414.9 413.6,414.4 414.4,414.0 430.0,415.1 430.0,415.9 414.4,414.8 413.6,415.2 412.8,415.7 412.0,415.9 411.2,415.7 410.5,415.3 409.7,414.8 408.9,414.6 408.1,414.8 407.3,415.2 406.5,415.7 405.7,415.9 404.9,415.7 404.1,415.3 403.4,414.8 402.6,414.6 401.8,414.8 401.0,415.2 400.2,415.7 399.4,415.9 398.6,415.7 397.8,415.3 397.0,414.8 396.3,414.6 395.5,414.8 394.7,415.2 393.9,415.7 393.1,415.9 392.3,415.7 391.5,415.3 390.7,414.8 390.0,414.6 389.2,414.8 388.4,415.2 387.6,415.7 386.8,415.9 386.0,415.7 385.2,415.3 384.4,414.8 383.6,414.6 382.9,414.8 382.1,415.2 381.3,415.7 380.5,415.9 379.7,415.7 370.0,415.9" fill="#21b2d8"/>
<polygon points="370.0,415.6 379.7,415.4 380.5,415.6 381.3,415.4 382.1,414.9 382.9,414.5 383.6,414.3 384.4,414.5 385.2,415.0 386.0,415.4 386.8,415.6 387.6,415.4 388.4,414.9 389.2,414.5 390.0,414.3 390.7,414.5 391.5,415.0 392.3,415.4 393.1,415.6 393.9,415.4 394.7,414.9 395.5,414.5 396.3,414.3 397.0,414.5 397.8,415.0 398.6,415.4 399.4,415.6 400.2,415.4 401.0,414.9 401.8,414.5 402.6,414.3 403.4,414.5 404.1,415.0 404.9,415.4 405.7,415.6 406.5,415.4 407.3,414.9 408.1,414.5 408.9,414.3 409.7,414.5 410.5,415.0 411.2,415.4 412.0,415.6 412.8,415.4 413.6,414.9 414.4,414.5 430.0,415.6 430.0,416.4 414.4,415.3 413.6,415.7 412.8,416.2 412.0,416.4 411.2,416.2 410.5,415.8 409.7,415.3 408.9,415.1 408.1,415.3 407.3,415.7 406.5,416.2 405.7,416.4 404.9,416.2 404.1,415.8 403.4,415.3 402.6,415.1 401.8,415.3 401.0,415.7 400.2,416.2 399.4,416.4 398.6,416.2 397.8,415.8 397.0,415.3 396.3,415.1 395.5,415.3 394.7,415.7 393.9,416.2 393.1,416.4 392.3,416.2 391.5,415.8 390.7,415.3 390.0,415.1 389.2,415.3 388.4,415.7 387.6,416.2 386.8,416.4 386.0,416.2 385.2,415.8 384.4,415.3 383.6,415.1 382.9,415.3 382.1,415.7 381.3,416.2 380.5,416.4 379.7,416.2 370.0,416.4" fill="#21b0d8"/>
<polygon points="370.0,416.1 379.7,415.9 380.5,416.1 381.3,415.9 382.1,415.4 382.9,415.0 383.6,414.8 384.4,415.0 385.2,415.5 386.0,415.9 386.8,416.1 387.6,415.9 388.4,415.4 389.2,415.0 390.0,414.8 390.7,415.0 391.5,415.5 392.3,415.9 393.1,416.1 393.9,415.9 394.7,415.4 395.5,415.0 396.3,414.8 397.0,415.0 397.8,415.5 398.6,415.9 399.4,416.1 400.2,415.9 401.0,415.4 401.8,415.0 402.6,414.8 403.4,415.0 404.1,415.5 404.9,415.9 405.7,416.1 406.5,415.9 407.3,415.4 408.1,415.0 408.9,414.8 409.7,415.0 410.5,415.5 411.2,415.9 412.0,416.1 412.8,415.9 413.6,415.4 414.4,415.0 430.0,416.1 430.0,416.9 414.4,415.8 413.6,416.2 412.8,416.7 412.0,416.9 411.2,416.7 410.5,416.3 409.7,415.8 408.9,415.6 408.1,415.8 407.3,416.2 406.5,416.7 405.7,416.9 404.9,416.7 404.1,416.3 403.4,415.8 402.6,415.6 401.8,415.8 401.0,416.2 400.2,416.7 399.4,416.9 398.6,416.7 397.8,416.3 397.0,415.8 396.3,415.6 395.5,415.8 394.7,416.2 393.9,416.7 393.1,416.9 392.3,416.7 391.5,416.3 390.7,415.8 390.0,415.6 389.2,415.8 388.4,416.2 387.6,416.7 386.8,416.9 386.0,416.7 385.2,416.3 384.4,415.8 383.6,415.6 382.9,415.8 382.1,416.2 381.3,416.7 380.5,416.9 379.7,416.7 370.0,416.9" fill="#22afd9"/>
<polygon points="370.0,416.6 379.7,416.4 380.5,416.6 381.3,416.4 382.1,415.9 382.9,415.5 383.6,415.3 384.4,415.5 385.2,416.0 386.0,416.4 386.8,416.6 387.6,416.4 388.4,415.9 389.2,415.5 390.0,415.3 390.7,415.5 391.5,416.0 392.3,416.4 393.1,416.6 393.9,416.4 394.7,415.9 395.5,415.5 396.3,415.3 397.0,415.5 397.8,416.0 398.6,416.4 399.4,416.6 400.2,416.4 401.0,415.9 401.8,415.5 402.6,415.3 403.4,415.5 404.1,416.0 404.9,416.4 405.7,416.6 406.5,416.4 407.3,415.9 408.1,415.5 408.9,415.3 409.7,415.5 410.5,416.0 411.2,416.4 412.0,416.6 412.8,416.4 413.6,415.9 414.4,415.5 430.0,416.6 430.0,417.4 414.4,416.3 413.6,416.7 412.8,417.2 412.0,417.4 411.2,417.2 410.5,416.8 409.7,416.3 408.9,416.1 408.1,416.3 407.3,416.7 406.5,417.2 405.7,417.4 404.9,417.2 404.1,416.8 403.4,416.3 402.6,416.1 401.8,416.3 401.0,416.7 400.2,417.2 399.4,417.4 398.6,417.2 397.8,416.8 397.0,416.3 396.3,416.1 395.5,416.3 394.7,416.7 393.9,417.2 393.1,417.4 392.3,417.2 391.5,416.8 390.7,416.3 390.0,416.1 389.2,416.3 388.4,416.7 387.6,417.2 386.8,417.4 386.0,417.2 385.2,416.8 384.4,416.3 383.6,416.1 382.9,416.3 382.1,416.7 381.3,417.2 380.5,417.4 379.7,417.2 370.0,417.4" fill="#23aed9"/>
<polygon points="370.0,417.1 379.7,416.9 380.5,417.1 381.3,416.9 382.1,416.4 382.9,416.0 383.6,415.8 384.4,416.0 385.2,416.5 386.0,416.9 386.8,417.1 387.6,416.9 388.4,416.4 389.2,416.0 390.0,415.8 390.7,416.0 391.5,416.5 392.3,416.9 393.1,417.1 393.9,416.9 394.7,416.4 395.5,416.0 396.3,415.8 397.0,416.0 397.8,416.5 398.6,416.9 399.4,417.1 400.2,416.9 401.0,416.4 401.8,416.0 402.6,415.8 403.4,416.0 404.1,416.5 404.9,416.9 405.7,417.1 406.5,416.9 407.3,416.4 408.1,416.0 408.9,415.8 409.7,416.0 410.5,416.5 411.2,416.9 412.0,417.1 412.8,416.9 413.6,416.4 414.4,416.0 430.0,417.1 430.0,417.9 414.4,416.8 413.6,417.2 412.8,417.7 412.0,417.9 411.2,417.7 410.5,417.3 409.7,416.8 408.9,416.6 408.1,416.8 407.3,417.2 406.5,417.7 405.7,417.9 404.9,417.7 404.1,417.3 403.4,416.8 402.6,416.6 401.8,416.8 401.0,417.2 400.2,417.7 399.4,417.9 398.6,417.7 397.8,417.3 397.0,416.8 396.3,416.6 395.5,416.8 394.7,417.2 393.9,417.7 393.1,417.9 392.3,417.7 391.5,417.3 390.7,416.8 390.0,416.6 389.2,416.8 388.4,417.2 387.6,417.7 386.8,417.9 386.0,417.7 385.2,417.3 384.4,416.8 383.6,416.6 382.9,416.8 382.1,417.2 381.3,417.7 380.5,417.9 379.7,417.7 370.0,417.9" fill="#23acda"/>
<polygon points="370.0,417.6 379.7,417.4 380.5,417.6 381.3,417.4 382.1,416.9 382.9,416.5 383.6,416.3 384.4,416.5 385.2,417.0 386.0,417.4 386.8,417.6 387.6,417.4 388.4,416.9 389.2,416.5 390.0,416.3 390.7,416.5 391.5,417.0 392.3,417.4 393.1,417.6 393.9,417.4 394.7,416.9 395.5,416.5 396.3,416.3 397.0,416.5 397.8,417.0 398.6,417.4 399.4,417.6 400.2,417.4 401.0,416.9 401.8,416.5 402.6,416.3 403.4,416.5 404.1,417.0 404.9,417.4 405.7,417.6 406.5,417.4 407.3,416.9 408.1,416.5 408.9,416.3 409.7,416.5 410.5,417.0 411.2,417.4 412.0,417.6 412.8,417.4 413.6,416.9 414.4,416.5 430.0,417.6 430.0,418.4 414.4,417.3 413.6,417.7 412.8,418.2 412.0,418.4 411.2,418.2 410.5,417.8 409.7,417.3 408.9,417.1 408.1,417.3 407.3,417.7 406.5,418.2 405.7,418.4 404.9,418.2 404.1,417.8 403.4,417.3 402.6,417.1 401.8,417.3 401.0,417.7 400.2,418.2 399.4,418.4 398.6,418.2 397.8,417.8 397.0,417.3 396.3,417.1 395.5,417.3 394.7,417.7 393.9,418.2 393.1,418.4 392.3,418.2 391.5,417.8 390.7,417.3 390.0,417.1 389.2,417.3 388.4,417.7 387.6,418.2 386.8,418.4 386.0,418.2 385.2,417.8 384.4,417.3 383.6,417.1 382.9,417.3 382.1,417.7 381.3,418.2 380.5,418.4 379.7,418.2 370.0,418.4" fill="#24abda"/>
<polygon points="370.0,418.1 379.7,417.9 380.5,418.1 381.3,417.9 382.1,417.4 382.9,417.0 383.6,416.8 384.4,417.0 385.2,417.5 386.0,417.9 386.8,418.1 387.6,417.9 388.4,417.4 389.2,417.0 390.0,416.8 390.7,417.0 391.5,417.5 392.3,417.9 393.1,418.1 393.9,417.9 394.7,417.4 395.5,417.0 396.3,416.8 397.0,417.0 397.8,417.5 398.6,417.9 399.4,418.1 400.2,417.9 401.0,417.4 401.8,417.0 402.6,416.8 403.4,417.0 404.1,417.5 404.9,417.9 405.7,418.1 406.5,417.9 407.3,417.4 408.1,417.0 408.9,416.8 409.7,417.0 410.5,417.5 411.2,417.9 412.0,418.1 412.8,417.9 413.6,417.4 414.4,417.0 430.0,418.1 430.0,418.9 414.4,417.8 413.6,418.2 412.8,418.7 412.0,418.9 411.2,418.7 410.5,418.3 409.7,417.8 408.9,417.6 408.1,417.8 407.3,418.2 406.5,418.7 405.7,418.9 404.9,418.7 404.1,418.3 403.4,417.8 402.6,417.6 401.8,417.8 401.0,418.2 400.2,418.7 399.4,418.9 398.6,418.7 397.8,418.3 397.0,417.8 396.3,417.6 395.5,417.8 394.7,418.2 393.9,418.7 393.1,418.9 392.3,418.7 391.5,418.3 390.7,417.8 390.0,417.6 389.2,417.8 388.4,418.2 387.6,418.7 386.8,418.9 386.0,418.7 385.2,418.3 384.4,417.8 383.6,417.6 382.9,417.8 382.1,418.2 381.3,418.7 380.5,418.9 379.7,418.7 370.0,418.9" fill="#24a9db"/>
<polygon points="370.0,418.6 379.7,418.4 380.5,418.6 381.3,418.4 382.1,417.9 382.9,417.5 383.6,417.3 384.4,417.5 385.2,418.0 386.0,418.4 386.8,418.6 387.6,418.4 388.4,417.9 389.2,417.5 390.0,417.3 390.7,417.5 391.5,418.0 392.3,418.4 393.1,418.6 393.9,418.4 394.7,417.9 395.5,417.5 396.3,417.3 397.0,417.5 397.8,418.0 398.6,418.4 399.4,418.6 400.2,418.4 401.0,417.9 401.8,417.5 402.6,417.3 403.4,417.5 404.1,418.0 404.9,418.4 405.7,418.6 406.5,418.4 407.3,417.9 408.1,417.5 408.9,417.3 409.7,417.5 410.5,418.0 411.2,418.4 412.0,418.6 412.8,418.4 413.6,417.9 414.4,417.5 430.0,418.6 430.0,419.4 414.4,418.3 413.6,418.7 412.8,419.2 412.0,419.4 411.2,419.2 410.5,418.8 409.7,418.3 408.9,418.1 408.1,418.3 407.3,418.7 406.5,419.2 405.7,419.4 404.9,419.2 404.1,418.8 403.4,418.3 402.6,418.1 401.8,418.3 401.0,418.7 400.2,419.2 399.4,419.4 398.6,419.2 397.8,418.8 397.0,418.3 396.3,418.1 395.5,418.3 394.7,418.7 393.9,419.2 393.1,419.4 392.3,419.2 391.5,418.8 390.7,418.3 390.0,418.1 389.2,418.3 388.4,418.7 387.6,419.2 386.8,419.4 386.0,419.2 385.2,418.8 384.4,418.3 383.6,418.1 382.9,418.3 382.1,418.7 381.3,419.2 380.5,419.4 379.7,419.2 370.0,419.4" fill="#25a8db"/>
<polygon points="370.0,419.1 379.7,418.9 380.5,419.1 381.3,418.9 382.1,418.4 382.9,418.0 383.6,417.8 384.4,418.0 385.2,418.5 386.0,418.9 386.8,419.1 387.6,418.9 388.4,418.4 389.2,418.0 390.0,417.8 390.7,418.0 391.5,418.5 392.3,418.9 393.1,419.1 393.9,418.9 394.7,418.4 395.5,418.0 396.3,417.8 397.0,418.0 397.8,418.5 398.6,418.9 399.4,419.1 400.2,418.9 401.0,418.4 401.8,418.0 402.6,417.8 403.4,418.0 404.1,418.5 404.9,418.9 405.7,419.1 406.5,418.9 407.3,418.4 408.1,418.0 408.9,417.8 409.7,418.0 410.5,418.5 411.2,418.9 412.0,419.1 412.8,418.9 413.6,418.4 414.4,418.0 430.0,419.1 430.0,419.9 414.4,418.8 413.6,419.2 412.8,419.7 412.0,419.9 411.2,419.7 410.5,419.3 409.7,418.8 408.9,418.6 408.1,418.8 407.3,419.2 406.5,419.7 405.7,419.9 404.9,419.7 404.1,419.3 403.4,418.8 402.6,418.6 401.8,418.8 401.0,419.2 400.2,419.7 399.4,419.9 398.6,419.7 397.8,419.3 397.0,418.8 396.3,418.6 395.5,418.8 394.7,419.2 393.9,419.7 393.1,419.9 392.3,419.7 391.5,419.3 390.7,418.8 390.0,418.6 389.2,418.8 388.4,419.2 387.6,419.7 386.8,419.9 386.0,419.7 385.2,419.3 384.4,418.8 383.6,418.6 382.9,418.8 382.1,419.2 381.3,419.7 380.5,419.9 379.7,419.7 370.0,419.9" fill="#26a7dc"/>
<polygon points="370.0,419.6 379.7,419.4 380.5,419.6 381.3,419.4 382.1,418.9 382.9,418.5 383.6,418.3 384.4,418.5 385.2,419.0 386.0,419.4 386.8,419.6 387.6,419.4 388.4,418.9 389.2,418.5 390.0,418.3 390.7,418.5 391.5,419.0 392.3,419.4 393.1,419.6 393.9,419.4 394.7,418.9 395.5,418.5 396.3,418.3 397.0,418.5 397.8,419.0 398.6,419.4 399.4,419.6 400.2,419.4 401.0,418.9 401.8,418.5 402.6,418.3 403.4,418.5 404.1,419.0 404.9,419.4 405.7,419.6 406.5,419.4 407.3,418.9 408.1,418.5 408.9,418.3 409.7,418.5 410.5,419.0 411.2,419.4 412.0,419.6 412.8,419.4 413.6,418.9 414.4,418.5 430.0,419.6 430.0,420.4 414.4,419.3 413.6,419.7 412.8,420.2 412.0,420.4 411.2,420.2 410.5,419.8 409.7,419.3 408.9,419.1 408.1,419.3 407.3,419.7 406.5,420.2 405.7,420.4 404.9,420.2 404.1,419.8 403.4,419.3 402.6,419.1 401.8,419.3 401.0,419.7 400.2,420.2 399.4,420.4 398.6,420.2 397.8,419.8 397.0,419.3 396.3,419.1 395.5,419.3 394.7,419.7 393.9,420.2 393.1,420.4 392.3,420.2 391.5,419.8 390.7,419.3 390.0,419.1 389.2,419.3 388.4,419.7 387.6,420.2 386.8,420.4 386.0,420.2 385.2,419.8 384.4,419.3 383.6,419.1 382.9,419.3 382.1,419.7 381.3,420.2 380.5,420.4 379.7,420.2 370.0,420.4" fill="#299cda"/>
<polygon points="370.0,420.1 379.7,419.9 380.5,420.1 381.3,419.9 382.1,419.4 382.9,419.0 383.6,418.8 384.4,419.0 385.2,419.5 386.0,419.9 386.8,420.1 387.6,419.9 388.4,419.4 389.2,419.0 390.0,418.8 390.7,419.0 391.5,419.5 392.3,419.9 393.1,420.1 393.9,419.9 394.7,419.4 395.5,419.0 396.3,418.8 397.0,419.0 397.8,419.5 398.6,419.9 399.4,420.1 400.2,419.9 401.0,419.4 401.8,419.0 402.6,418.8 403.4,419.0 404.1,419.5 404.9,419.9 405.7,420.1 406.5,419.9 407.3,419.4 408.1,419.0 408.9,418.8 409.7,419.0 410.5,419.5 411.2,419.9 412.0,420.1 412.8,419.9 413.6,419.4 414.4,419.0 430.0,420.1 430.0,420.9 414.4,419.8 413.6,420.2 412.8,420.7 412.0,420.9 411.2,420.7 410.5,420.3 409.7,419.8 408.9,419.6 408.1,419.8 407.3,420.2 406.5,420.7 405.7,420.9 404.9,420.7 404.1,420.3 403.4,419.8 402.6,419.6 401.8,419.8 401.0,420.2 400.2,420.7 399.4,420.9 398.6,420.7 397.8,420.3 397.0,419.8 396.3,419.6 395.5,419.8 394.7,420.2 393.9,420.7 393.1,420.9 392.3,420.7 391.5,420.3 390.7,419.8 390.0,419.6 389.2,419.8 388.4,420.2 387.6,420.7 386.8,420.9 386.0,420.7 385.2,420.3 384.4,419.8 383.6,419.6 382.9,419.8 382.1,420.2 381.3,420.7 380.5,420.9 379.7,420.7 370.0,420.9" fill="#2e88d6"/>
<polygon points="370.0,420.6 379.7,420.4 380.5,420.6 381.3,420.4 382.1,419.9 382.9,419.5 383.6,419.3 384.4,419.5 385.2,420.0 386.0,420.4 386.8,420.6 387.6,420.4 388.4,419.9 389.2,419.5 390.0,419.3 390.7,419.5 391.5,420.0 392.3,420.4 393.1,420.6 393.9,420.4 394.7,419.9 395.5,419.5 396.3,419.3 397.0,419.5 397.8,420.0 398.6,420.4 399.4,420.6 400.2,420.4 401.0,419.9 401.8,419.5 402.6,419.3 403.4,419.5 404.1,420.0 404.9,420.4 405.7,420.6 406.5,420.4 407.3,419.9 408.1,419.5 408.9,419.3 409.7,419.5 410.5,420.0 411.2,420.4 412.0,420.6 412.8,420.4 413.6,419.9 414.4,419.5 430.0,420.6 430.0,421.4 414.4,420.3 413.6,420.7 412.8,421.2 412.0,421.4 411.2,421.2 410.5,420.8 409.7,420.3 408.9,420.1 408.1,420.3 407.3,420.7 406.5,421.2 405.7,421.4 404.9,421.2 404.1,420.8 403.4,420.3 402.6,420.1 401.8,420.3 401.0,420.7 400.2,421.2 399.4,421.4 398.6,421.2 397.8,420.8 397.0,420.3 396.3,420.1 395.5,420.3 394.7,420.7 393.9,421.2 393.1,421.4 392.3,421.2 391.5,420.8 390.7,420.3 390.0,420.1 389.2,420.3 388.4,420.7 387.6,421.2 386.8,421.4 386.0,421.2 385.2,420.8 384.4,420.3 383.6,420.1 382.9,420.3 382.1,420.7 381.3,421.2 380.5,421.4 379.7,421.2 370.0,421.4" fill="#3182d3"/>
<polygon points="370.0,421.1 379.7,420.9 380.5,421.1 381.3,420.9 382.1,420.4 382.9,420.0 383.6,419.8 384.4,420.0 385.2,420.5 386.0,420.9 386.8,421.1 387.6,420.9 388.4,420.4 389.2,420.0 390.0,419.8 390.7,420.0 391.5,420.5 392.3,420.9 393.1,421.1 393.9,420.9 394.7,420.4 395.5,420.0 396.3,419.8 397.0,420.0 397.8,420.5 398.6,420.9 399.4,421.1 400.2,420.9 401.0,420.4 401.8,420.0 402.6,419.8 403.4,420.0 404.1,420.5 404.9,420.9 405.7,421.1 406.5,420.9 407.3,420.4 408.1,420.0 408.9,419.8 409.7,420.0 410.5,420.5 411.2,420.9 412.0,421.1 412.8,420.9 413.6,420.4 414.4,420.0 430.0,421.1 430.0,421.9 414.4,420.8 413.6,421.2 412.8,421.7 412.0,421.9 411.2,421.7 410.5,421.3 409.7,420.8 408.9,420.6 408.1,420.8 407.3,421.2 406.5,421.7 405.7,421.9 404.9,421.7 404.1,421.3 403.4,420.8 402.6,420.6 401.8,420.8 401.0,421.2 400.2,421.7 399.4,421.9 398.6,421.7 397.8,421.3 397.0,420.8 396.3,420.6 395.5,420.8 394.7,421.2 393.9,421.7 393.1,421.9 392.3,421.7 391.5,421.3 390.7,420.8 390.0,420.6 389.2,420.8 388.4,421.2 387.6,421.7 386.8,421.9 386.0,421.7 385.2,421.3 384.4,420.8 383.6,420.6 382.9,420.8 382.1,421.2 381.3,421.7 380.5,421.9 379.7,421.7 370.0,421.9" fill="#337dd1"/>
<polygon points="370.0,421.6 379.7,421.4 380.5,421.6 381.3,421.4 382.1,420.9 382.9,420.5 383.6,420.3 384.4,420.5 385.2,421.0 386.0,421.4 386.8,421.6 387.6,421.4 388.4,420.9 389.2,420.5 390.0,420.3 390.7,420.5 391.5,421.0 392.3,421.4 393.1,421.6 393.9,421.4 394.7,420.9 395.5,420.5 396.3,420.3 397.0,420.5 397.8,421.0 398.6,421.4 399.4,421.6 400.2,421.4 401.0,420.9 401.8,420.5 402.6,420.3 403.4,420.5 404.1,421.0 404.9,421.4 405.7,421.6 406.5,421.4 407.3,420.9 408.1,420.5 408.9,420.3 409.7,420.5 410.5,421.0 411.2,421.4 412.0,421.6 412.8,421.4 413.6,420.9 414.4,420.5 430.0,421.6 430.0,422.4 414.4,421.3 413.6,421.7 412.8,422.2 412.0,422.4 411.2,422.2 410.5,421.8 409.7,421.3 408.9,421.1 408.1,421.3 407.3,421.7 406.5,422.2 405.7,422.4 404.9,422.2 404.1,421.8 403.4,421.3 402.6,421.1 401.8,421.3 401.0,421.7 400.2,422.2 399.4,422.4 398.6,422.2 397.8,421.8 397.0,421.3 396.3,421.1 395.5,421.3 394.7,421.7 393.9,422.2 393.1,422.4 392.3,422.2 391.5,421.8 390.7,421.3 390.0,421.1 389.2,421.3 388.4,421.7 387.6,422.2 386.8,422.4 386.0,422.2 385.2,421.8 384.4,421.3 383.6,421.1 382.9,421.3 382.1,421.7 381.3,422.2 380.5,422.4 379.7,422.2 370.0,422.4" fill="#3579ce"/>
<polygon points="370.0,422.1 379.7,421.9 380.5,422.1 381.3,421.9 382.1,421.4 382.9,421.0 383.6,420.8 384.4,421.0 385.2,421.5 386.0,421.9 386.8,422.1 387.6,421.9 388.4,421.4 389.2,421.0 390.0,420.8 390.7,421.0 391.5,421.5 392.3,421.9 393.1,422.1 393.9,421.9 394.7,421.4 395.5,421.0 396.3,420.8 397.0,421.0 397.8,421.5 398.6,421.9 399.4,422.1 400.2,421.9 401.0,421.4 401.8,421.0 402.6,420.8 403.4,421.0 404.1,421.5 404.9,421.9 405.7,422.1 406.5,421.9 407.3,421.4 408.1,421.0 408.9,420.8 409.7,421.0 410.5,421.5 411.2,421.9 412.0,422.1 412.8,421.9 413.6,421.4 414.4,421.0 430.0,422.1 430.0,422.9 414.4,421.8 413.6,422.2 412.8,422.7 412.0,422.9 411.2,422.7 410.5,422.3 409.7,421.8 408.9,421.6 408.1,421.8 407.3,422.2 406.5,422.7 405.7,422.9 404.9,422.7 404.1,422.3 403.4,421.8 402.6,421.6 401.8,421.8 401.0,422.2 400.2,422.7 399.4,422.9 398.6,422.7 397.8,422.3 397.0,421.8 396.3,421.6 395.5,421.8 394.7,422.2 393.9,422.7 393.1,422.9 392.3,422.7 391.5,422.3 390.7,421.8 390.0,421.6 389.2,421.8 388.4,422.2 387.6,422.7 386.8,422.9 386.0,422.7 385.2,422.3 384.4,421.8 383.6,421.6 382.9,421.8 382.1,422.2 381.3,422.7 380.5,422.9 379.7,422.7 370.0,422.9" fill="#3774cb"/>
<polygon points="370.0,422.6 379.7,422.4 380.5,422.6 381.3,422.4 382.1,421.9 382.9,421.5 383.6,421.3 384.4,421.5 385.2,422.0 386.0,422.4 386.8,422.6 387.6,422.4 388.4,421.9 389.2,421.5 390.0,421.3 390.7,421.5 391.5,422.0 392.3,422.4 393.1,422.6 393.9,422.4 394.7,421.9 395.5,421.5 396.3,421.3 397.0,421.5 397.8,422.0 398.6,422.4 399.4,422.6 400.2,422.4 401.0,421.9 401.8,421.5 402.6,421.3 403.4,421.5 404.1,422.0 404.9,422.4 405.7,422.6 406.5,422.4 407.3,421.9 408.1,421.5 408.9,421.3 409.7,421.5 410.5,422.0 411.2,422.4 412.0,422.6 412.8,422.4 413.6,421.9 414.4,421.5 430.0,422.6 430.0,423.4 414.4,422.3 413.6,422.7 412.8,423.2 412.0,423.4 411.2,423.2 410.5,422.8 409.7,422.3 408.9,422.1 408.1,422.3 407.3,422.7 406.5,423.2 405.7,423.4 404.9,423.2 404.1,422.8 403.4,422.3 402.6,422.1 401.8,422.3 401.0,422.7 400.2,423.2 399.4,423.4 398.6,423.2 397.8,422.8 397.0,422.3 396.3,422.1 395.5,422.3 394.7,422.7 393.9,423.2 393.1,423.4 392.3,423.2 391.5,422.8 390.7,422.3 390.0,422.1 389.2,422.3 388.4,422.7 387.6,423.2 386.8,423.4 386.0,423.2 385.2,422.8 384.4,422.3 383.6,422.1 382.9,422.3 382.1,422.7 381.3,423.2 380.5,423.4 379.7,423.2 370.0,423.4" fill="#396fc8"/>
<polygon points="370.0,423.1 379.7,422.9 380.5,423.1 381.3,422.9 382.1,422.4 382.9,422.0 383.6,421.8 384.4,422.0 385.2,422.5 386.0,422.9 386.8,423.1 387.6,422.9 388.4,422.4 389.2,422.0 390.0,421.8 390.7,422.0 391.5,422.5 392.3,422.9 393.1,423.1 393.9,422.9 394.7,422.4 395.5,422.0 396.3,421.8 397.0,422.0 397.8,422.5 398.6,422.9 399.4,423.1 400.2,422.9 401.0,422.4 401.8,422.0 402.6,421.8 403.4,422.0 404.1,422.5 404.9,422.9 405.7,423.1 406.5,422.9 407.3,422.4 408.1,422.0 408.9,421.8 409.7,422.0 410.5,422.5 411.2,422.9 412.0,423.1 412.8,422.9 413.6,422.4 414.4,422.0 430.0,423.1 430.0,423.9 414.4,422.8 413.6,423.2 412.8,423.7 412.0,423.9 411.2,423.7 410.5,423.3 409.7,422.8 408.9,422.6 408.1,422.8 407.3,423.2 406.5,423.7 405.7,423.9 404.9,423.7 404.1,423.3 403.4,422.8 402.6,422.6 401.8,422.8 401.0,423.2 400.2,423.7 399.4,423.9 398.6,423.7 397.8,423.3 397.0,422.8 396.3,422.6 395.5,422.8 394.7,423.2 393.9,423.7 393.1,423.9 392.3,423.7 391.5,423.3 390.7,422.8 390.0,422.6 389.2,422.8 388.4,423.2 387.6,423.7 386.8,423.9 386.0,423.7 385.2,423.3 384.4,422.8 383.6,422.6 382.9,422.8 382.1,423.2 381.3,423.7 380.5,423.9 379.7,423.7 370.0,423.9" fill="#3a6bc5"/>
<polygon points="370.0,423.6 379.7,423.4 380.5,423.6 381.3,423.4 382.1,422.9 382.9,422.5 383.6,422.3 384.4,422.5 385.2,423.0 386.0,423.4 386.8,423.6 387.6,423.4 388.4,422.9 389.2,422.5 390.0,422.3 390.7,422.5 391.5,423.0 392.3,423.4 393.1,423.6 393.9,423.4 394.7,422.9 395.5,422.5 396.3,422.3 397.0,422.5 397.8,423.0 398.6,423.4 399.4,423.6 400.2,423.4 401.0,422.9 401.8,422.5 402.6,422.3 403.4,422.5 404.1,423.0 404.9,423.4 405.7,423.6 406.5,423.4 407.3,422.9 408.1,422.5 408.9,422.3 409.7,422.5 410.5,423.0 411.2,423.4 412.0,423.6 412.8,423.4 413.6,422.9 414.4,422.5 430.0,423.6 430.0,424.4 414.4,423.3 413.6,423.7 412.8,424.2 412.0,424.4 411.2,424.2 410.5,423.8 409.7,423.3 408.9,423.1 408.1,423.3 407.3,423.7 406.5,424.2 405.7,424.4 404.9,424.2 404.1,423.8 403.4,423.3 402.6,423.1 401.8,423.3 401.0,423.7 400.2,424.2 399.4,424.4 398.6,424.2 397.8,423.8 397.0,423.3 396.3,423.1 395.5,423.3 394.7,423.7 393.9,424.2 393.1,424.4 392.3,424.2 391.5,423.8 390.7,423.3 390.0,423.1 389.2,423.3 388.4,423.7 387.6,424.2 386.8,424.4 386.0,424.2 385.2,423.8 384.4,423.3 383.6,423.1 382.9,423.3 382.1,423.7 381.3,424.2 380.5,424.4 379.7,424.2 370.0,424.4" fill="#3b67c2"/>
<polygon points="370.0,424.1 379.7,423.9 380.5,424.1 381.3,423.9 382.1,423.4 382.9,423.0 383.6,422.8 384.4,423.0 385.2,423.5 386.0,423.9 386.8,424.1 387.6,423.9 388.4,423.4 389.2,423.0 390.0,422.8 390.7,423.0 391.5,423.5 392.3,423.9 393.1,424.1 393.9,423.9 394.7,423.4 395.5,423.0 396.3,422.8 397.0,423.0 397.8,423.5 398.6,423.9 399.4,424.1 400.2,423.9 401.0,423.4 401.8,423.0 402.6,422.8 403.4,423.0 404.1,423.5 404.9,423.9 405.7,424.1 406.5,423.9 407.3,423.4 408.1,423.0 408.9,422.8 409.7,423.0 410.5,423.5 411.2,423.9 412.0,424.1 412.8,423.9 413.6,423.4 414.4,423.0 430.0,424.1 430.0,424.9 414.4,423.8 413.6,424.2 412.8,424.7 412.0,424.9 411.2,424.7 410.5,424.3 409.7,423.8 408.9,423.6 408.1,423.8 407.3,424.2 406.5,424.7 405.7,424.9 404.9,424.7 404.1,424.3 403.4,423.8 402.6,423.6 401.8,423.8 401.0,424.2 400.2,424.7 399.4,424.9 398.6,424.7 397.8,424.3 397.0,423.8 396.3,423.6 395.5,423.8 394.7,424.2 393.9,424.7 393.1,424.9 392.3,424.7 391.5,424.3 390.7,423.8 390.0,423.6 389.2,423.8 388.4,424.2 387.6,424.7 386.8,424.9 386.0,424.7 385.2,424.3 384.4,423.8 383.6,423.6 382.9,423.8 382.1,424.2 381.3,424.7 380.5,424.9 379.7,424.7 370.0,424.9" fill="#3b63bf"/>
<polygon points="370.0,424.6 379.7,424.4 380.5,424.6 381.3,424.4 382.1,423.9 382.9,423.5 383.6,423.3 384.4,423.5 385.2,424.0 386.0,424.4 386.8,424.6 387.6,424.4 388.4,423.9 389.2,423.5 390.0,423.3 390.7,423.5 391.5,424.0 392.3,424.4 393.1,424.6 393.9,424.4 394.7,423.9 395.5,423.5 396.3,423.3 397.0,423.5 397.8,424.0 398.6,424.4 399.4,424.6 400.2,424.4 401.0,423.9 401.8,423.5 402.6,423.3 403.4,423.5 404.1,424.0 404.9,424.4 405.7,424.6 406.5,424.4 407.3,423.9 408.1,423.5 408.9,423.3 409.7,423.5 410.5,424.0 411.2,424.4 412.0,424.6 412.8,424.4 413.6,423.9 414.4,423.5 430.0,424.6 430.0,425.4 414.4,424.3 413.6,424.7 412.8,425.2 412.0,425.4 411.2,425.2 410.5,424.8 409.7,424.3 408.9,424.1 408.1,424.3 407.3,424.7 406.5,425.2 405.7,425.4 404.9,425.2 404.1,424.8 403.4,424.3 402.6,424.1 401.8,424.3 401.0,424.7 400.2,425.2 399.4,425.4 398.6,425.2 397.8,424.8 397.0,424.3 396.3,424.1 395.5,424.3 394.7,424.7 393.9,425.2 393.1,425.4 392.3,425.2 391.5,424.8 390.7,424.3 390.0,424.1 389.2,424.3 388.4,424.7 387.6,425.2 386.8,425.4 386.0,425.2 385.2,424.8 384.4,424.3 383.6,424.1 382.9,424.3 382.1,424.7 381.3,425.2 380.5,425.4 379.7,425.2 370.0,425.4" fill="#3c5fbc"/>
<polygon points="370.0,425.1 379.7,424.9 380.5,425.1 381.3,424.9 382.1,424.4 382.9,424.0 383.6,423.8 384.4,424.0 385.2,424.5 386.0,424.9 386.8,425.1 387.6,424.9 388.4,424.4 389.2,424.0 390.0,423.8 390.7,424.0 391.5,424.5 392.3,424.9 393.1,425.1 393.9,424.9 394.7,424.4 395.5,424.0 396.3,423.8 397.0,424.0 397.8,424.5 398.6,424.9 399.4,425.1 400.2,424.9 401.0,424.4 401.8,424.0 402.6,423.8 403.4,424.0 404.1,424.5 404.9,424.9 405.7,425.1 406.5,424.9 407.3,424.4 408.1,424.0 408.9,423.8 409.7,424.0 410.5,424.5 411.2,424.9 412.0,425.1 412.8,424.9 413.6,424.4 414.4,424.0 430.0,425.1 430.0,425.9 414.4,424.8 413.6,425.2 412.8,425.7 412.0,425.9 411.2,425.7 410.5,425.3 409.7,424.8 408.9,424.6 408.1,424.8 407.3,425.2 406.5,425.7 405.7,425.9 404.9,425.7 404.1,425.3 403.4,424.8 402.6,424.6 401.8,424.8 401.0,425.2 400.2,425.7 399.4,425.9 398.6,425.7 397.8,425.3 397.0,424.8 396.3,424.6 395.5,424.8 394.7,425.2 393.9,425.7 393.1,425.9 392.3,425.7 391.5,425.3 390.7,424.8 390.0,424.6 389.2,424.8 388.4,425.2 387.6,425.7 386.8,425.9 386.0,425.7 385.2,425.3 384.4,424.8 383.6,424.6 382.9,424.8 382.1,425.2 381.3,425.7 380.5,425.9 379.7,425.7 370.0,425.9" fill="#3c5cb9"/>
<polygon points="370.0,425.6 379.7,425.4 380.5,425.6 381.3,425.4 382.1,424.9 382.9,424.5 383.6,424.3 384.4,424.5 385.2,425.0 386.0,425.4 386.8,425.6 387.6,425.4 388.4,424.9 389.2,424.5 390.0,424.3 390.7,424.5 391.5,425.0 392.3,425.4 393.1,425.6 393.9,425.4 394.7,424.9 395.5,424.5 396.3,424.3 397.0,424.5 397.8,425.0 398.6,425.4 399.4,425.6 400.2,425.4 401.0,424.9 401.8,424.5 402.6,424.3 403.4,424.5 404.1,425.0 404.9,425.4 405.7,425.6 406.5,425.4 407.3,424.9 408.1,424.5 408.9,424.3 409.7,424.5 410.5,425.0 411.2,425.4 412.0,425.6 412.8,425.4 413.6,424.9 414.4,424.5 430.0,425.6 430.0,426.4 414.4,425.3 413.6,425.7 412.8,426.2 412.0,426.4 411.2,426.2 410.5,425.8 409.7,425.3 408.9,425.1 408.1,425.3 407.3,425.7 406.5,426.2 405.7,426.4 404.9,426.2 404.1,425.8 403.4,425.3 402.6,425.1 401.8,425.3 401.0,425.7 400.2,426.2 399.4,426.4 398.6,426.2 397.8,425.8 397.0,425.3 396.3,425.1 395.5,425.3 394.7,425.7 393.9,426.2 393.1,426.4 392.3,426.2 391.5,425.8 390.7,425.3 390.0,425.1 389.2,425.3 388.4,425.7 387.6,426.2 386.8,426.4 386.0,426.2 385.2,425.8 384.4,425.3 383.6,425.1 382.9,425.3 382.1,425.7 381.3,426.2 380.5,426.4 379.7,426.2 370.0,426.4" fill="#3d58b6"/>
<polygon points="370.0,426.1 379.7,425.9 380.5,426.1 381.3,425.9 382.1,425.4 382.9,425.0 383.6,424.8 384.4,425.0 385.2,425.5 386.0,425.9 386.8,426.1 387.6,425.9 388.4,425.4 389.2,425.0 390.0,424.8 390.7,425.0 391.5,425.5 392.3,425.9 393.1,426.1 393.9,425.9 394.7,425.4 395.5,425.0 396.3,424.8 397.0,425.0 397.8,425.5 398.6,425.9 399.4,426.1 400.2,425.9 401.0,425.4 401.8,425.0 402.6,424.8 403.4,425.0 404.1,425.5 404.9,425.9 405.7,426.1 406.5,425.9 407.3,425.4 408.1,425.0 408.9,424.8 409.7,425.0 410.5,425.5 411.2,425.9 412.0,426.1 412.8,425.9 413.6,425.4 414.4,425.0 430.0,426.1 430.0,426.9 414.4,425.8 413.6,426.2 412.8,426.7 412.0,426.9 411.2,426.7 410.5,426.3 409.7,425.8 408.9,425.6 408.1,425.8 407.3,426.2 406.5,426.7 405.7,426.9 404.9,426.7 404.1,426.3 403.4,425.8 402.6,425.6 401.8,425.8 401.0,426.2 400.2,426.7 399.4,426.9 398.6,426.7 397.8,426.3 397.0,425.8 396.3,425.6 395.5,425.8 394.7,426.2 393.9,426.7 393.1,426.9 392.3,426.7 391.5,426.3 390.7,425.8 390.0,425.6 389.2,425.8 388.4,426.2 387.6,426.7 386.8,426.9 386.0,426.7 385.2,426.3 384.4,425.8 383.6,425.6 382.9,425.8 382.1,426.2 381.3,426.7 380.5,426.9 379.7,426.7 370.0,426.9" fill="#3d54b3"/>
<polygon points="370.0,426.6 379.7,426.4 380.5,426.6 381.3,426.4 382.1,425.9 382.9,425.5 383.6,425.3 384.4,425.5 385.2,426.0 386.0,426.4 386.8,426.6 387.6,426.4 388.4,425.9 389.2,425.5 390.0,425.3 390.7,425.5 391.5,426.0 392.3,426.4 393.1,426.6 393.9,426.4 394.7,425.9 395.5,425.5 396.3,425.3 397.0,425.5 397.8,426.0 398.6,426.4 399.4,426.6 400.2,426.4 401.0,425.9 401.8,425.5 402.6,425.3 403.4,425.5 404.1,426.0 404.9,426.4 405.7,426.6 406.5,426.4 407.3,425.9 408.1,425.5 408.9,425.3 409.7,425.5 410.5,426.0 411.2,426.4 412.0,426.6 412.8,426.4 413.6,425.9 414.4,425.5 430.0,426.6 430.0,427.4 414.4,426.3 413.6,426.7 412.8,427.2 412.0,427.4 411.2,427.2 410.5,426.8 409.7,426.3 408.9,426.1 408.1,426.3 407.3,426.7 406.5,427.2 405.7,427.4 404.9,427.2 404.1,426.8 403.4,426.3 402.6,426.1 401.8,426.3 401.0,426.7 400.2,427.2 399.4,427.4 398.6,427.2 397.8,426.8 397.0,426.3 396.3,426.1 395.5,426.3 394.7,426.7 393.9,427.2 393.1,427.4 392.3,427.2 391.5,426.8 390.7,426.3 390.0,426.1 389.2,426.3 388.4,426.7 387.6,427.2 386.8,427.4 386.0,427.2 385.2,426.8 384.4,426.3 383.6,426.1 382.9,426.3 382.1,426.7 381.3,427.2 380.5,427.4 379.7,427.2 370.0,427.4" fill="#3d52b1"/>
<polygon points="370.0,427.1 379.7,426.9 380.5,427.1 381.3,426.9 382.1,426.4 382.9,426.0 383.6,425.8 384.4,426.0 385.2,426.5 386.0,426.9 386.8,427.1 387.6,426.9 388.4,426.4 389.2,426.0 390.0,425.8 390.7,426.0 391.5,426.5 392.3,426.9 393.1,427.1 393.9,426.9 394.7,426.4 395.5,426.0 396.3,425.8 397.0,426.0 397.8,426.5 398.6,426.9 399.4,427.1 400.2,426.9 401.0,426.4 401.8,426.0 402.6,425.8 403.4,426.0 404.1,426.5 404.9,426.9 405.7,427.1 406.5,426.9 407.3,426.4 408.1,426.0 408.9,425.8 409.7,426.0 410.5,426.5 411.2,426.9 412.0,427.1 412.8,426.9 413.6,426.4 414.4,426.0 430.0,427.1 430.0,427.9 414.4,426.8 413.6,427.2 412.8,427.7 412.0,427.9 411.2,427.7 410.5,427.3 409.7,426.8 408.9,426.6 408.1,426.8 407.3,427.2 406.5,427.7 405.7,427.9 404.9,427.7 404.1,427.3 403.4,426.8 402.6,426.6 401.8,426.8 401.0,427.2 400.2,427.7 399.4,427.9 398.6,427.7 397.8,427.3 397.0,426.8 396.3,426.6 395.5,426.8 394.7,427.2 393.9,427.7 393.1,427.9 392.3,427.7 391.5,427.3 390.7,426.8 390.0,426.6 389.2,426.8 388.4,427.2 387.6,427.7 386.8,427.9 386.0,427.7 385.2,427.3 384.4,426.8 383.6,426.6 382.9,426.8 382.1,427.2 381.3,427.7 380.5,427.9 379.7,427.7 370.0,427.9" fill="#3d4faf"/>
<polygon points="370.0,427.6 379.7,427.4 380.5,427.6 381.3,427.4 382.1,426.9 382.9,426.5 383.6,426.3 384.4,426.5 385.2,427.0 386.0,427.4 386.8,427.6 387.6,427.4 388.4,426.9 389.2,426.5 390.0,426.3 390.7,426.5 391.5,427.0 392.3,427.4 393.1,427.6 393.9,427.4 394.7,426.9 395.5,426.5 396.3,426.3 397.0,426.5 397.8,427.0 398.6,427.4 399.4,427.6 400.2,427.4 401.0,426.9 401.8,426.5 402.6,426.3 403.4,426.5 404.1,427.0 404.9,427.4 405.7,427.6 406.5,427.4 407.3,426.9 408.1,426.5 408.9,426.3 409.7,426.5 410.5,427.0 411.2,427.4 412.0,427.6 412.8,427.4 413.6,426.9 414.4,426.5 430.0,427.6 430.0,428.4 414.4,427.3 413.6,427.7 412.8,428.2 412.0,428.4 411.2,428.2 410.5,427.8 409.7,427.3 408.9,427.1 408.1,427.3 407.3,427.7 406.5,428.2 405.7,428.4 404.9,428.2 404.1,427.8 403.4,427.3 402.6,427.1 401.8,427.3 401.0,427.7 400.2,428.2 399.4,428.4 398.6,428.2 397.8,427.8 397.0,427.3 396.3,427.1 395.5,427.3 394.7,427.7 393.9,428.2 393.1,428.4 392.3,428.2 391.5,427.8 390.7,427.3 390.0,427.1 389.2,427.3 388.4,427.7 387.6,428.2 386.8,428.4 386.0,428.2 385.2,427.8 384.4,427.3 383.6,427.1 382.9,427.3 382.1,427.7 381.3,428.2 380.5,428.4 379.7,428.2 370.0,428.4" fill="#3e4dac"/>
<polygon points="370.0,428.1 379.7,427.9 380.5,428.1 381.3,427.9 382.1,427.4 382.9,427.0 383.6,426.8 384.4,427.0 385.2,427.5 386.0,427.9 386.8,428.1 387.6,427.9 388.4,427.4 389.2,427.0 390.0,426.8 390.7,427.0 391.5,427.5 392.3,427.9 393.1,428.1 393.9,427.9 394.7,427.4 395.5,427.0 396.3,426.8 397.0,427.0 397.8,427.5 398.6,427.9 399.4,428.1 400.2,427.9 401.0,427.4 401.8,427.0 402.6,426.8 403.4,427.0 404.1,427.5 404.9,427.9 405.7,428.1 406.5,427.9 407.3,427.4 408.1,427.0 408.9,426.8 409.7,427.0 410.5,427.5 411.2,427.9 412.0,428.1 412.8,427.9 413.6,427.4 414.4,427.0 430.0,428.1 430.0,428.9 414.4,427.8 413.6,428.2 412.8,428.7 412.0,428.9 411.2,428.7 410.5,428.3 409.7,427.8 408.9,427.6 408.1,427.8 407.3,428.2 406.5,428.7 405.7,428.9 404.9,428.7 404.1,428.3 403.4,427.8 402.6,427.6 401.8,427.8 401.0,428.2 400.2,428.7 399.4,428.9 398.6,428.7 397.8,428.3 397.0,427.8 396.3,427.6 395.5,427.8 394.7,428.2 393.9,428.7 393.1,428.9 392.3,428.7 391.5,428.3 390.7,427.8 390.0,427.6 389.2,427.8 388.4,428.2 387.6,428.7 386.8,428.9 386.0,428.7 385.2,428.3 384.4,427.8 383.6,427.6 382.9,427.8 382.1,428.2 381.3,428.7 380.5,428.9 379.7,428.7 370.0,428.9" fill="#3e4aaa"/>
<polygon points="370.0,428.6 379.7,428.4 380.5,428.6 381.3,428.4 382.1,427.9 382.9,427.5 383.6,427.3 384.4,427.5 385.2,428.0 386.0,428.4 386.8,428.6 387.6,428.4 388.4,427.9 389.2,427.5 390.0,427.3 390.7,427.5 391.5,428.0 392.3,428.4 393.1,428.6 393.9,428.4 394.7,427.9 395.5,427.5 396.3,427.3 397.0,427.5 397.8,428.0 398.6,428.4 399.4,428.6 400.2,428.4 401.0,427.9 401.8,427.5 402.6,427.3 403.4,427.5 404.1,428.0 404.9,428.4 405.7,428.6 406.5,428.4 407.3,427.9 408.1,427.5 408.9,427.3 409.7,427.5 410.5,428.0 411.2,428.4 412.0,428.6 412.8,428.4 413.6,427.9 414.4,427.5 430.0,428.6 430.0,429.4 414.4,428.3 413.6,428.7 412.8,429.2 412.0,429.4 411.2,429.2 410.5,428.8 409.7,428.3 408.9,428.1 408.1,428.3 407.3,428.7 406.5,429.2 405.7,429.4 404.9,429.2 404.1,428.8 403.4,428.3 402.6,428.1 401.8,428.3 401.0,428.7 400.2,429.2 399.4,429.4 398.6,429.2 397.8,428.8 397.0,428.3 396.3,428.1 395.5,428.3 394.7,428.7 393.9,429.2 393.1,429.4 392.3,429.2 391.5,428.8 390.7,428.3 390.0,428.1 389.2,428.3 388.4,428.7 387.6,429.2 386.8,429.4 386.0,429.2 385.2,428.8 384.4,428.3 383.6,428.1 382.9,428.3 382.1,428.7 381.3,429.2 380.5,429.4 379.7,429.2 370.0,429.4" fill="#3e48a8"/>
<polygon points="370.0,429.1 379.7,428.9 380.5,429.1 381.3,428.9 382.1,428.4 382.9,428.0 383.6,427.8 384.4,428.0 385.2,428.5 386.0,428.9 386.8,429.1 387.6,428.9 388.4,428.4 389.2,428.0 390.0,427.8 390.7,428.0 391.5,428.5 392.3,428.9 393.1,429.1 393.9,428.9 394.7,428.4 395.5,428.0 396.3,427.8 397.0,428.0 397.8,428.5 398.6,428.9 399.4,429.1 400.2,428.9 401.0,428.4 401.8,428.0 402.6,427.8 403.4,428.0 404.1,428.5 404.9,428.9 405.7,429.1 406.5,428.9 407.3,428.4 408.1,428.0 408.9,427.8 409.7,428.0 410.5,428.5 411.2,428.9 412.0,429.1 412.8,428.9 413.6,428.4 414.4,428.0 430.0,429.1 430.0,429.9 414.4,428.8 413.6,429.2 412.8,429.7 412.0,429.9 411.2,429.7 410.5,429.3 409.7,428.8 408.9,428.6 408.1,428.8 407.3,429.2 406.5,429.7 405.7,429.9 404.9,429.7 404.1,429.3 403.4,428.8 402.6,428.6 401.8,428.8 401.0,429.2 400.2,429.7 399.4,429.9 398.6,429.7 397.8,429.3 397.0,428.8 396.3,428.6 395.5,428.8 394.7,429.2 393.9,429.7 393.1,429.9 392.3,429.7 391.5,429.3 390.7,428.8 390.0,428.6 389.2,428.8 388.4,429.2 387.6,429.7 386.8,429.9 386.0,429.7 385.2,429.3 384.4,428.8 383.6,428.6 382.9,428.8 382.1,429.2 381.3,429.7 380.5,429.9 379.7,429.7 370.0,429.9" fill="#3e46a5"/>
<polygon points="370.0,429.6 379.7,429.4 380.5,429.6 381.3,429.4 382.1,428.9 382.9,428.5 383.6,428.3 384.4,428.5 385.2,429.0 386.0,429.4 386.8,429.6 387.6,429.4 388.4,428.9 389.2,428.5 390.0,428.3 390.7,428.5 391.5,429.0 392.3,429.4 393.1,429.6 393.9,429.4 394.7,428.9 395.5,428.5 396.3,428.3 397.0,428.5 397.8,429.0 398.6,429.4 399.4,429.6 400.2,429.4 401.0,428.9 401.8,428.5 402.6,428.3 403.4,428.5 404.1,429.0 404.9,429.4 405.7,429.6 406.5,429.4 407.3,428.9 408.1,428.5 408.9,428.3 409.7,428.5 410.5,429.0 411.2,429.4 412.0,429.6 412.8,429.4 413.6,428.9 414.4,428.5 430.0,429.6 430.0,430.4 414.4,429.3 413.6,429.7 412.8,430.2 412.0,430.4 411.2,430.2 410.5,429.8 409.7,429.3 408.9,429.1 408.1,429.3 407.3,429.7 406.5,430.2 405.7,430.4 404.9,430.2 404.1,429.8 403.4,429.3 402.6,429.1 401.8,429.3 401.0,429.7 400.2,430.2 399.4,430.4 398.6,430.2 397.8,429.8 397.0,429.3 396.3,429.1 395.5,429.3 394.7,429.7 393.9,430.2 393.1,430.4 392.3,430.2 391.5,429.8 390.7,429.3 390.0,429.1 389.2,429.3 388.4,429.7 387.6,430.2 386.8,430.4 386.0,430.2 385.2,429.8 384.4,429.3 383.6,429.1 382.9,429.3 382.1,429.7 381.3,430.2 380.5,430.4 379.7,430.2 370.0,430.4" fill="#3e44a4"/>
<polygon points="370.0,430.1 379.7,429.9 380.5,430.1 381.3,429.9 382.1,429.4 382.9,429.0 383.6,428.8 384.4,429.0 385.2,429.5 386.0,429.9 386.8,430.1 387.6,429.9 388.4,429.4 389.2,429.0 390.0,428.8 390.7,429.0 391.5,429.5 392.3,429.9 393.1,430.1 393.9,429.9 394.7,429.4 395.5,429.0 396.3,428.8 397.0,429.0 397.8,429.5 398.6,429.9 399.4,430.1 400.2,429.9 401.0,429.4 401.8,429.0 402.6,428.8 403.4,429.0 404.1,429.5 404.9,429.9 405.7,430.1 406.5,429.9 407.3,429.4 408.1,429.0 408.9,428.8 409.7,429.0 410.5,429.5 411.2,429.9 412.0,430.1 412.8,429.9 413.6,429.4 414.4,429.0 430.0,430.1 430.0,430.9 414.4,429.8 413.6,430.2 412.8,430.7 412.0,430.9 411.2,430.7 410.5,430.3 409.7,429.8 408.9,429.6 408.1,429.8 407.3,430.2 406.5,430.7 405.7,430.9 404.9,430.7 404.1,430.3 403.4,429.8 402.6,429.6 401.8,429.8 401.0,430.2 400.2,430.7 399.4,430.9 398.6,430.7 397.8,430.3 397.0,429.8 396.3,429.6 395.5,429.8 394.7,430.2 393.9,430.7 393.1,430.9 392.3,430.7 391.5,430.3 390.7,429.8 390.0,429.6 389.2,429.8 388.4,430.2 387.6,430.7 386.8,430.9 386.0,430.7 385.2,430.3 384.4,429.8 383.6,429.6 382.9,429.8 382.1,430.2 381.3,430.7 380.5,430.9 379.7,430.7 370.0,430.9" fill="#3f42a2"/>
<polygon points="370.0,430.6 379.7,430.4 380.5,430.6 381.3,430.4 382.1,429.9 382.9,429.5 383.6,429.3 384.4,429.5 385.2,430.0 386.0,430.4 386.8,430.6 387.6,430.4 388.4,429.9 389.2,429.5 390.0,429.3 390.7,429.5 391.5,430.0 392.3,430.4 393.1,430.6 393.9,430.4 394.7,429.9 395.5,429.5 396.3,429.3 397.0,429.5 397.8,430.0 398.6,430.4 399.4,430.6 400.2,430.4 401.0,429.9 401.8,429.5 402.6,429.3 403.4,429.5 404.1,430.0 404.9,430.4 405.7,430.6 406.5,430.4 407.3,429.9 408.1,429.5 408.9,429.3 409.7,429.5 410.5,430.0 411.2,430.4 412.0,430.6 412.8,430.4 413.6,429.9 414.4,429.5 430.0,430.6 430.0,431.4 414.4,430.3 413.6,430.7 412.8,431.2 412.0,431.4 411.2,431.2 410.5,430.8 409.7,430.3 408.9,430.1 408.1,430.3 407.3,430.7 406.5,431.2 405.7,431.4 404.9,431.2 404.1,430.8 403.4,430.3 402.6,430.1 401.8,430.3 401.0,430.7 400.2,431.2 399.4,431.4 398.6,431.2 397.8,430.8 397.0,430.3 396.3,430.1 395.5,430.3 394.7,430.7 393.9,431.2 393.1,431.4 392.3,431.2 391.5,430.8 390.7,430.3 390.0,430.1 389.2,430.3 388.4,430.7 387.6,431.2 386.8,431.4 386.0,431.2 385.2,430.8 384.4,430.3 383.6,430.1 382.9,430.3 382.1,430.7 381.3,431.2 380.5,431.4 379.7,431.2 370.0,431.4" fill="#3f40a0"/>
<polygon points="370.0,431.1 379.7,430.9 380.5,431.1 381.3,430.9 382.1,430.4 382.9,430.0 383.6,429.8 384.4,430.0 385.2,430.5 386.0,430.9 386.8,431.1 387.6,430.9 388.4,430.4 389.2,430.0 390.0,429.8 390.7,430.0 391.5,430.5 392.3,430.9 393.1,431.1 393.9,430.9 394.7,430.4 395.5,430.0 396.3,429.8 397.0,430.0 397.8,430.5 398.6,430.9 399.4,431.1 400.2,430.9 401.0,430.4 401.8,430.0 402.6,429.8 403.4,430.0 404.1,430.5 404.9,430.9 405.7,431.1 406.5,430.9 407.3,430.4 408.1,430.0 408.9,429.8 409.7,430.0 410.5,430.5 411.2,430.9 412.0,431.1 412.8,430.9 413.6,430.4 414.4,430.0 430.0,431.1 430.0,431.9 414.4,430.8 413.6,431.2 412.8,431.7 412.0,431.9 411.2,431.7 410.5,431.3 409.7,430.8 408.9,430.6 408.1,430.8 407.3,431.2 406.5,431.7 405.7,431.9 404.9,431.7 404.1,431.3 403.4,430.8 402.6,430.6 401.8,430.8 401.0,431.2 400.2,431.7 399.4,431.9 398.6,431.7 397.8,431.3 397.0,430.8 396.3,430.6 395.5,430.8 394.7,431.2 393.9,431.7 393.1,431.9 392.3,431.7 391.5,431.3 390.7,430.8 390.0,430.6 389.2,430.8 388.4,431.2 387.6,431.7 386.8,431.9 386.0,431.7 385.2,431.3 384.4,430.8 383.6,430.6 382.9,430.8 382.1,431.2 381.3,431.7 380.5,431.9 379.7,431.7 370.0,431.9" fill="#3f3f9e"/>
<polygon points="370.0,431.6 379.7,431.4 380.5,431.6 381.3,431.4 382.1,430.9 382.9,430.5 383.6,430.3 384.4,430.5 385.2,431.0 386.0,431.4 386.8,431.6 387.6,431.4 388.4,430.9 389.2,430.5 390.0,430.3 390.7,430.5 391.5,431.0 392.3,431.4 393.1,431.6 393.9,431.4 394.7,430.9 395.5,430.5 396.3,430.3 397.0,430.5 397.8,431.0 398.6,431.4 399.4,431.6 400.2,431.4 401.0,430.9 401.8,430.5 402.6,430.3 403.4,430.5 404.1,431.0 404.9,431.4 405.7,431.6 406.5,431.4 407.3,430.9 408.1,430.5 408.9,430.3 409.7,430.5 410.5,431.0 411.2,431.4 412.0,431.6 412.8,431.4 413.6,430.9 414.4,430.5 430.0,431.6 430.0,432.4 414.4,431.3 413.6,431.7 412.8,432.2 412.0,432.4 411.2,432.2 410.5,431.8 409.7,431.3 408.9,431.1 408.1,431.3 407.3,431.7 406.5,432.2 405.7,432.4 404.9,432.2 404.1,431.8 403.4,431.3 402.6,431.1 401.8,431.3 401.0,431.7 400.2,432.2 399.4,432.4 398.6,432.2 397.8,431.8 397.0,431.3 396.3,431.1 395.5,431.3 394.7,431.7 393.9,432.2 393.1,432.4 392.3,432.2 391.5,431.8 390.7,431.3 390.0,431.1 389.2,431.3 388.4,431.7 387.6,432.2 386.8,432.4 386.0,432.2 385.2,431.8 384.4,431.3 383.6,431.1 382.9,431.3 382.1,431.7 381.3,432.2 380.5,432.4 379.7,432.2 370.0,432.4" fill="#403d9c"/>
<polygon points="370.0,432.1 379.7,431.9 380.5,432.1 381.3,431.9 382.1,431.4 382.9,431.0 383.6,430.8 384.4,431.0 385.2,431.5 386.0,431.9 386.8,432.1 387.6,431.9 388.4,431.4 389.2,431.0 390.0,430.8 390.7,431.0 391.5,431.5 392.3,431.9 393.1,432.1 393.9,431.9 394.7,431.4 395.5,431.0 396.3,430.8 397.0,431.0 397.8,431.5 398.6,431.9 399.4,432.1 400.2,431.9 401.0,431.4 401.8,431.0 402.6,430.8 403.4,431.0 404.1,431.5 404.9,431.9 405.7,432.1 406.5,431.9 407.3,431.4 408.1,431.0 408.9,430.8 409.7,431.0 410.5,431.5 411.2,431.9 412.0,432.1 412.8,431.9 413.6,431.4 414.4,431.0 430.0,432.1 430.0,432.9 414.4,431.8 413.6,432.2 412.8,432.7 412.0,432.9 411.2,432.7 410.5,432.3 409.7,431.8 408.9,431.6 408.1,431.8 407.3,432.2 406.5,432.7 405.7,432.9 404.9,432.7 404.1,432.3 403.4,431.8 402.6,431.6 401.8,431.8 401.0,432.2 400.2,432.7 399.4,432.9 398.6,432.7 397.8,432.3 397.0,431.8 396.3,431.6 395.5,431.8 394.7,432.2 393.9,432.7 393.1,432.9 392.3,432.7 391.5,432.3 390.7,431.8 390.0,431.6 389.2,431.8 388.4,432.2 387.6,432.7 386.8,432.9 386.0,432.7 385.2,432.3 384.4,431.8 383.6,431.6 382.9,431.8 382.1,432.2 381.3,432.7 380.5,432.9 379.7,432.7 370.0,432.9" fill="#403d9c"/>
</g>
</g>
<linearGradient id="gl5" x1="0" y1="0" x2="0" y2="1"><stop offset="0" stop-color="#45b4dc"/><stop offset="0.35" stop-color="#4a86d4"/><stop offset="1" stop-color="#4550b0" stop-opacity="0.2"/></linearGradient>
<g clip-path="url(#cl)"><path d="M379.6,408 L380.8,408 L383.6,418 L387.2,427 L391.0,434.5 L393,439.5 L390.6,436.5 L386,429.5 L382.0,421.5 L379.6,414 Z" fill="url(#gl5)" opacity="0.9"/></g>
<text x="307.30" y="392.30" font-size="7.6" font-family="Liberation Sans, sans-serif" fill="#111" font-weight="bold" textLength="100.50" lengthAdjust="spacingAndGlyphs" >Short-time Fourier Transform</text>
<text x="287.60" y="395.70" font-size="6.5" font-family="Liberation Sans, sans-serif" fill="#2a2a2a" text-anchor="end" >100</text>
<text x="287.60" y="414.60" font-size="6.5" font-family="Liberation Sans, sans-serif" fill="#2a2a2a" text-anchor="end" >50</text>
<text x="287.60" y="433.50" font-size="6.5" font-family="Liberation Sans, sans-serif" fill="#2a2a2a" text-anchor="end" >0</text>
<text x="287.60" y="452.40" font-size="6.5" font-family="Liberation Sans, sans-serif" fill="#2a2a2a" text-anchor="end" >−50</text>
<text x="287.60" y="471.30" font-size="6.5" font-family="Liberation Sans, sans-serif" fill="#2a2a2a" text-anchor="end" >−100</text>
<text x="287.60" y="490.20" font-size="6.5" font-family="Liberation Sans, sans-serif" fill="#2a2a2a" text-anchor="end" >−150</text>
<text x="289.20" y="501.50" font-size="6.5" font-family="Liberation Sans, sans-serif" fill="#2a2a2a" text-anchor="middle" >1</text>
<text x="291.40" y="505.90" font-size="6.5" font-family="Liberation Sans, sans-serif" fill="#2a2a2a" text-anchor="middle" >0.5</text>
<text x="298.00" y="509.30" font-size="6.5" font-family="Liberation Sans, sans-serif" fill="#2a2a2a" text-anchor="middle" >0</text>
<text x="300.30" y="512.90" font-size="6.5" font-family="Liberation Sans, sans-serif" fill="#2a2a2a" text-anchor="middle" >−0.5</text>
<text x="330.80" y="515.10" font-size="6.5" font-family="Liberation Sans, sans-serif" fill="#2a2a2a" text-anchor="middle" >500</text>
<text x="355.60" y="514.50" font-size="6.5" font-family="Liberation Sans, sans-serif" fill="#2a2a2a" text-anchor="middle" >1000</text>
<text x="381.50" y="514.30" font-size="6.5" font-family="Liberation Sans, sans-serif" fill="#2a2a2a" text-anchor="middle" >1500</text>
<text x="406.00" y="513.90" font-size="6.5" font-family="Liberation Sans, sans-serif" fill="#2a2a2a" text-anchor="middle" >2000</text>
<text x="376.80" y="521.80" font-size="7.2" font-family="Liberation Sans, sans-serif" fill="#2a2a2a" text-anchor="middle" >Samples</text>
<text x="229.70" y="529.00" font-size="7.2" font-family="Liberation Sans, sans-serif" fill="#2a2a2a" textLength="140.20" lengthAdjust="spacingAndGlyphs" >Normalized Frequency (×π radians/sample)</text>
<linearGradient id="cbl" x1="0" y1="1" x2="0" y2="0">
<stop offset="0.000" stop-color="#3f3a9b"/>
<stop offset="0.083" stop-color="#404db2"/>
<stop offset="0.167" stop-color="#3b63c3"/>
<stop offset="0.250" stop-color="#317fd0"/>
<stop offset="0.333" stop-color="#2a9ad8"/>
<stop offset="0.417" stop-color="#27aed0"/>
<stop offset="0.500" stop-color="#38b8b2"/>
<stop offset="0.583" stop-color="#64c08c"/>
<stop offset="0.667" stop-color="#9cc862"/>
<stop offset="0.750" stop-color="#cfc347"/>
<stop offset="0.833" stop-color="#f0ba3e"/>
<stop offset="0.917" stop-color="#f6ca3a"/>
<stop offset="1.000" stop-color="#f0ea3c"/>
</linearGradient>
<rect x="432.7" y="394.2" width="5.7" height="109.6" fill="url(#cbl)"/>
<text x="440.60" y="506.10" font-size="6.5" font-family="Liberation Sans, sans-serif" fill="#2a2a2a" >30</text>
<text x="440.60" y="487.65" font-size="6.5" font-family="Liberation Sans, sans-serif" fill="#2a2a2a" >40</text>
<text x="440.60" y="469.20" font-size="6.5" font-family="Liberation Sans, sans-serif" fill="#2a2a2a" >50</text>
<text x="440.60" y="450.75" font-size="6.5" font-family="Liberation Sans, sans-serif" fill="#2a2a2a" >60</text>
<text x="440.60" y="432.30" font-size="6.5" font-family="Liberation Sans, sans-serif" fill="#2a2a2a" >70</text>
<text x="440.60" y="413.85" font-size="6.5" font-family="Liberation Sans, sans-serif" fill="#2a2a2a" >80</text>
<text x="454.80" y="449.00" font-size="6.2" font-family="Liberation Sans, sans-serif" fill="#2a2a2a" text-anchor="middle" textLength="40.00" lengthAdjust="spacingAndGlyphs" transform="rotate(-90 454.80 449.00)" >Magnitude (dB)</text>
<text x="284" y="544.3" font-size="11.6" font-family="Liberation Serif, serif" fill="#1a1a1a" textLength="129.3" lengthAdjust="spacingAndGlyphs"><tspan font-weight="bold">(l)</tspan> Interruption PQD STFT</text>
</svg></body></html>
